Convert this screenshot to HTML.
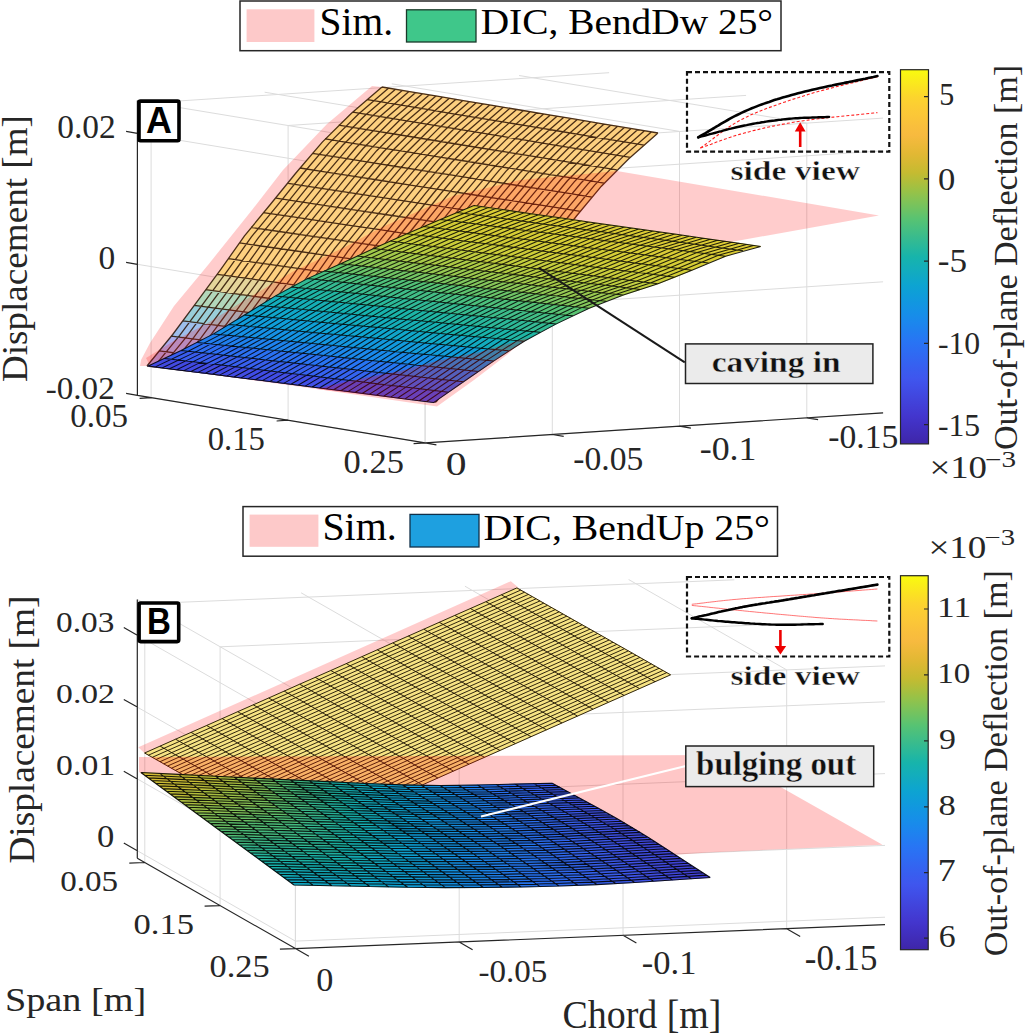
<!DOCTYPE html><html><head><meta charset="utf-8"><style>html,body{margin:0;padding:0;background:#fff;overflow:hidden}svg{display:block}</style></head><body><svg width="1025" height="1036" viewBox="0 0 1025 1036">
<rect width="1025" height="1036" fill="#ffffff"/>
<path d="M151.1 397.6 L151.1 102.8 M288.1 420.2 L288.1 125.5 M425.1 442.9 L425.1 148.2 M137.4 395.3 L425.1 442.9 M137.4 264.3 L425.1 311.9 M137.4 133.3 L425.1 180.9 M425.1 442.9 L425.1 148.2 M552.3 434.5 L552.3 139.8 M679.5 426.2 L679.5 131.4 M806.8 417.8 L806.8 123.1 M425.1 442.9 L883.1 412.8 M425.1 311.9 L883.1 281.8 M425.1 180.9 L883.1 150.8 M151.1 102.8 L609.1 72.7 M288.1 125.5 L746.1 95.4 M425.1 148.2 L883.1 118.1 M137.4 100.6 L425.1 148.2 M264.6 92.2 L552.3 139.8 M391.8 83.8 L679.5 131.4 M519.1 75.5 L806.8 123.1" stroke="#dcdcdc" stroke-width="1" fill="none"/>
<path d="M372.0 86.0 L327.0 124.0 L283.0 170.0 L252.0 210.0 L208.0 265.0 L174.0 306.0 L150.0 343.0 L141.0 360.0 L140.0 366.0 L147.0 366.0 L158.0 352.0 L170.0 338.0 L184.0 319.5 L204.0 292.0 L224.0 265.0 L252.0 226.0 L283.0 190.0 L300.0 168.0 L336.0 127.6 L382.0 87.0Z" fill="#ff0000" fill-opacity="0.2" />
<path d="M147.0 366.0 L169.2 368.8 L181.1 353.7 L158.9 350.9Z" fill="#aea0e1" stroke="#aea0e1" stroke-width="0.6"/>
<path d="M158.9 350.9 L181.1 353.7 L193.5 339.1 L171.4 336.2Z" fill="#aaadec" stroke="#aaadec" stroke-width="0.6"/>
<path d="M171.4 336.2 L193.5 339.1 L205.1 323.7 L183.0 320.8Z" fill="#9ebeeb" stroke="#9ebeeb" stroke-width="0.6"/>
<path d="M183.0 320.8 L205.1 323.7 L216.4 308.2 L194.3 305.3Z" fill="#99ced9" stroke="#99ced9" stroke-width="0.6"/>
<path d="M194.3 305.3 L216.4 308.2 L227.7 292.7 L205.7 289.7Z" fill="#b2d7bb" stroke="#b2d7bb" stroke-width="0.6"/>
<path d="M205.7 289.7 L227.7 292.7 L239.1 277.3 L217.2 274.3Z" fill="#e5d59a" stroke="#e5d59a" stroke-width="0.6"/>
<path d="M217.2 274.3 L239.1 277.3 L250.4 261.8 L228.5 258.7Z" fill="#fdd07f" stroke="#fdd07f" stroke-width="0.6"/>
<path d="M228.5 258.7 L250.4 261.8 L261.4 246.0 L239.5 242.9Z" fill="#fdd07f" stroke="#fdd07f" stroke-width="0.6"/>
<path d="M239.5 242.9 L261.4 246.0 L272.7 230.5 L250.9 227.4Z" fill="#fdd07f" stroke="#fdd07f" stroke-width="0.6"/>
<path d="M250.9 227.4 L272.7 230.5 L285.0 215.8 L263.2 212.6Z" fill="#fdd07f" stroke="#fdd07f" stroke-width="0.6"/>
<path d="M263.2 212.6 L285.0 215.8 L297.7 201.4 L276.0 198.1Z" fill="#fdd07f" stroke="#fdd07f" stroke-width="0.6"/>
<path d="M276.0 198.1 L297.7 201.4 L309.9 186.6 L288.3 183.3Z" fill="#fdd07f" stroke="#fdd07f" stroke-width="0.6"/>
<path d="M288.3 183.3 L309.9 186.6 L321.5 171.4 L300.0 168.0Z" fill="#fdd07f" stroke="#fdd07f" stroke-width="0.6"/>
<path d="M300.0 168.0 L321.5 171.4 L333.9 156.7 L312.4 153.3Z" fill="#fdd07f" stroke="#fdd07f" stroke-width="0.6"/>
<path d="M312.4 153.3 L333.9 156.7 L346.6 142.3 L325.2 138.9Z" fill="#fdd07f" stroke="#fdd07f" stroke-width="0.6"/>
<path d="M325.2 138.9 L346.6 142.3 L360.0 128.5 L338.6 125.1Z" fill="#fdd07f" stroke="#fdd07f" stroke-width="0.6"/>
<path d="M338.6 125.1 L360.0 128.5 L374.2 115.6 L352.8 112.1Z" fill="#fdd07f" stroke="#fdd07f" stroke-width="0.6"/>
<path d="M352.8 112.1 L374.2 115.6 L388.7 103.1 L367.4 99.6Z" fill="#fdd07f" stroke="#fdd07f" stroke-width="0.6"/>
<path d="M367.4 99.6 L388.7 103.1 L403.2 90.5 L382.0 87.0Z" fill="#fdd07f" stroke="#fdd07f" stroke-width="0.6"/>
<path d="M169.2 368.8 L191.5 371.5 L203.3 356.5 L181.1 353.7Z" fill="#aea0e1" stroke="#aea0e1" stroke-width="0.6"/>
<path d="M181.1 353.7 L203.3 356.5 L215.7 341.9 L193.5 339.1Z" fill="#aaadec" stroke="#aaadec" stroke-width="0.6"/>
<path d="M193.5 339.1 L215.7 341.9 L227.2 326.6 L205.1 323.7Z" fill="#9ebeeb" stroke="#9ebeeb" stroke-width="0.6"/>
<path d="M205.1 323.7 L227.2 326.6 L238.4 311.2 L216.4 308.2Z" fill="#99ced9" stroke="#99ced9" stroke-width="0.6"/>
<path d="M216.4 308.2 L238.4 311.2 L249.6 295.7 L227.7 292.7Z" fill="#b2d7bb" stroke="#b2d7bb" stroke-width="0.6"/>
<path d="M227.7 292.7 L249.6 295.7 L261.0 280.3 L239.1 277.3Z" fill="#e5d59a" stroke="#e5d59a" stroke-width="0.6"/>
<path d="M239.1 277.3 L261.0 280.3 L272.3 264.8 L250.4 261.8Z" fill="#fdd07f" stroke="#fdd07f" stroke-width="0.6"/>
<path d="M250.4 261.8 L272.3 264.8 L283.2 249.1 L261.4 246.0Z" fill="#fdd07f" stroke="#fdd07f" stroke-width="0.6"/>
<path d="M261.4 246.0 L283.2 249.1 L294.5 233.7 L272.7 230.5Z" fill="#fdd07f" stroke="#fdd07f" stroke-width="0.6"/>
<path d="M272.7 230.5 L294.5 233.7 L306.7 219.0 L285.0 215.8Z" fill="#fdd07f" stroke="#fdd07f" stroke-width="0.6"/>
<path d="M285.0 215.8 L306.7 219.0 L319.3 204.6 L297.7 201.4Z" fill="#fdd07f" stroke="#fdd07f" stroke-width="0.6"/>
<path d="M297.7 201.4 L319.3 204.6 L331.5 189.9 L309.9 186.6Z" fill="#fdd07f" stroke="#fdd07f" stroke-width="0.6"/>
<path d="M309.9 186.6 L331.5 189.9 L343.1 174.7 L321.5 171.4Z" fill="#fdd07f" stroke="#fdd07f" stroke-width="0.6"/>
<path d="M321.5 171.4 L343.1 174.7 L355.4 160.1 L333.9 156.7Z" fill="#fdd07f" stroke="#fdd07f" stroke-width="0.6"/>
<path d="M333.9 156.7 L355.4 160.1 L368.1 145.7 L346.6 142.3Z" fill="#fdd07f" stroke="#fdd07f" stroke-width="0.6"/>
<path d="M346.6 142.3 L368.1 145.7 L381.4 132.0 L360.0 128.5Z" fill="#fdd07f" stroke="#fdd07f" stroke-width="0.6"/>
<path d="M360.0 128.5 L381.4 132.0 L395.5 119.1 L374.2 115.6Z" fill="#fdd07f" stroke="#fdd07f" stroke-width="0.6"/>
<path d="M374.2 115.6 L395.5 119.1 L410.0 106.6 L388.7 103.1Z" fill="#fdd07f" stroke="#fdd07f" stroke-width="0.6"/>
<path d="M388.7 103.1 L410.0 106.6 L424.5 94.1 L403.2 90.5Z" fill="#fdd07f" stroke="#fdd07f" stroke-width="0.6"/>
<path d="M191.5 371.5 L213.7 374.3 L225.5 359.3 L203.3 356.5Z" fill="#aea0e1" stroke="#aea0e1" stroke-width="0.6"/>
<path d="M203.3 356.5 L225.5 359.3 L237.8 344.8 L215.7 341.9Z" fill="#aaadec" stroke="#aaadec" stroke-width="0.6"/>
<path d="M215.7 341.9 L237.8 344.8 L249.2 329.5 L227.2 326.6Z" fill="#9ebeeb" stroke="#9ebeeb" stroke-width="0.6"/>
<path d="M227.2 326.6 L249.2 329.5 L260.4 314.1 L238.4 311.2Z" fill="#99ced9" stroke="#99ced9" stroke-width="0.6"/>
<path d="M238.4 311.2 L260.4 314.1 L271.6 298.7 L249.6 295.7Z" fill="#b2d7bb" stroke="#b2d7bb" stroke-width="0.6"/>
<path d="M249.6 295.7 L271.6 298.7 L283.0 283.4 L261.0 280.3Z" fill="#e5d59a" stroke="#e5d59a" stroke-width="0.6"/>
<path d="M261.0 280.3 L283.0 283.4 L294.1 267.9 L272.3 264.8Z" fill="#fdd07f" stroke="#fdd07f" stroke-width="0.6"/>
<path d="M272.3 264.8 L294.1 267.9 L305.0 252.3 L283.2 249.1Z" fill="#fdd07f" stroke="#fdd07f" stroke-width="0.6"/>
<path d="M283.2 249.1 L305.0 252.3 L316.3 236.9 L294.5 233.7Z" fill="#fdd07f" stroke="#fdd07f" stroke-width="0.6"/>
<path d="M294.5 233.7 L316.3 236.9 L328.4 222.2 L306.7 219.0Z" fill="#fdd07f" stroke="#fdd07f" stroke-width="0.6"/>
<path d="M306.7 219.0 L328.4 222.2 L341.0 207.9 L319.3 204.6Z" fill="#fdd07f" stroke="#fdd07f" stroke-width="0.6"/>
<path d="M319.3 204.6 L341.0 207.9 L353.1 193.2 L331.5 189.9Z" fill="#fdd07f" stroke="#fdd07f" stroke-width="0.6"/>
<path d="M331.5 189.9 L353.1 193.2 L364.7 178.0 L343.1 174.7Z" fill="#fdd07f" stroke="#fdd07f" stroke-width="0.6"/>
<path d="M343.1 174.7 L364.7 178.0 L377.0 163.4 L355.4 160.1Z" fill="#fdd07f" stroke="#fdd07f" stroke-width="0.6"/>
<path d="M355.4 160.1 L377.0 163.4 L389.5 149.1 L368.1 145.7Z" fill="#fdd07f" stroke="#fdd07f" stroke-width="0.6"/>
<path d="M368.1 145.7 L389.5 149.1 L402.8 135.4 L381.4 132.0Z" fill="#fdd07f" stroke="#fdd07f" stroke-width="0.6"/>
<path d="M381.4 132.0 L402.8 135.4 L416.9 122.6 L395.5 119.1Z" fill="#fdd07f" stroke="#fdd07f" stroke-width="0.6"/>
<path d="M395.5 119.1 L416.9 122.6 L431.3 110.1 L410.0 106.6Z" fill="#fdd07f" stroke="#fdd07f" stroke-width="0.6"/>
<path d="M410.0 106.6 L431.3 110.1 L445.7 97.6 L424.5 94.1Z" fill="#fdd07f" stroke="#fdd07f" stroke-width="0.6"/>
<path d="M213.7 374.3 L235.9 377.1 L247.6 362.1 L225.5 359.3Z" fill="#aea0e1" stroke="#aea0e1" stroke-width="0.6"/>
<path d="M225.5 359.3 L247.6 362.1 L259.9 347.6 L237.8 344.8Z" fill="#aaadec" stroke="#aaadec" stroke-width="0.6"/>
<path d="M237.8 344.8 L259.9 347.6 L271.3 332.4 L249.2 329.5Z" fill="#9ebeeb" stroke="#9ebeeb" stroke-width="0.6"/>
<path d="M249.2 329.5 L271.3 332.4 L282.5 317.0 L260.4 314.1Z" fill="#99ced9" stroke="#99ced9" stroke-width="0.6"/>
<path d="M260.4 314.1 L282.5 317.0 L293.6 301.7 L271.6 298.7Z" fill="#b2d7bb" stroke="#b2d7bb" stroke-width="0.6"/>
<path d="M271.6 298.7 L293.6 301.7 L304.9 286.4 L283.0 283.4Z" fill="#e5d59a" stroke="#e5d59a" stroke-width="0.6"/>
<path d="M283.0 283.4 L304.9 286.4 L316.0 271.0 L294.1 267.9Z" fill="#fdd07f" stroke="#fdd07f" stroke-width="0.6"/>
<path d="M294.1 267.9 L316.0 271.0 L326.8 255.4 L305.0 252.3Z" fill="#fdd07f" stroke="#fdd07f" stroke-width="0.6"/>
<path d="M305.0 252.3 L326.8 255.4 L338.0 240.0 L316.3 236.9Z" fill="#fdd07f" stroke="#fdd07f" stroke-width="0.6"/>
<path d="M316.3 236.9 L338.0 240.0 L350.1 225.4 L328.4 222.2Z" fill="#fdd07f" stroke="#fdd07f" stroke-width="0.6"/>
<path d="M328.4 222.2 L350.1 225.4 L362.7 211.1 L341.0 207.9Z" fill="#fdd07f" stroke="#fdd07f" stroke-width="0.6"/>
<path d="M341.0 207.9 L362.7 211.1 L374.7 196.4 L353.1 193.2Z" fill="#fdd07f" stroke="#fdd07f" stroke-width="0.6"/>
<path d="M353.1 193.2 L374.7 196.4 L386.2 181.3 L364.7 178.0Z" fill="#fdd07f" stroke="#fdd07f" stroke-width="0.6"/>
<path d="M364.7 178.0 L386.2 181.3 L398.5 166.8 L377.0 163.4Z" fill="#fdd07f" stroke="#fdd07f" stroke-width="0.6"/>
<path d="M377.0 163.4 L398.5 166.8 L411.0 152.5 L389.5 149.1Z" fill="#fdd07f" stroke="#fdd07f" stroke-width="0.6"/>
<path d="M389.5 149.1 L411.0 152.5 L424.2 138.9 L402.8 135.4Z" fill="#fdd07f" stroke="#fdd07f" stroke-width="0.6"/>
<path d="M402.8 135.4 L424.2 138.9 L438.2 126.0 L416.9 122.6Z" fill="#fdd07f" stroke="#fdd07f" stroke-width="0.6"/>
<path d="M416.9 122.6 L438.2 126.0 L452.6 113.6 L431.3 110.1Z" fill="#fdd07f" stroke="#fdd07f" stroke-width="0.6"/>
<path d="M431.3 110.1 L452.6 113.6 L466.9 101.2 L445.7 97.6Z" fill="#fdd07f" stroke="#fdd07f" stroke-width="0.6"/>
<path d="M235.9 377.1 L258.2 379.8 L269.8 364.9 L247.6 362.1Z" fill="#aea0e1" stroke="#aea0e1" stroke-width="0.6"/>
<path d="M247.6 362.1 L269.8 364.9 L282.0 350.5 L259.9 347.6Z" fill="#aaadec" stroke="#aaadec" stroke-width="0.6"/>
<path d="M259.9 347.6 L282.0 350.5 L293.4 335.3 L271.3 332.4Z" fill="#9ebeeb" stroke="#9ebeeb" stroke-width="0.6"/>
<path d="M271.3 332.4 L293.4 335.3 L304.5 320.0 L282.5 317.0Z" fill="#99ced9" stroke="#99ced9" stroke-width="0.6"/>
<path d="M282.5 317.0 L304.5 320.0 L315.6 304.6 L293.6 301.7Z" fill="#b2d7bb" stroke="#b2d7bb" stroke-width="0.6"/>
<path d="M293.6 301.7 L315.6 304.6 L326.8 289.4 L304.9 286.4Z" fill="#e5d59a" stroke="#e5d59a" stroke-width="0.6"/>
<path d="M304.9 286.4 L326.8 289.4 L337.9 274.0 L316.0 271.0Z" fill="#fdd07f" stroke="#fdd07f" stroke-width="0.6"/>
<path d="M316.0 271.0 L337.9 274.0 L348.7 258.5 L326.8 255.4Z" fill="#fdd07f" stroke="#fdd07f" stroke-width="0.6"/>
<path d="M326.8 255.4 L348.7 258.5 L359.8 243.2 L338.0 240.0Z" fill="#fdd07f" stroke="#fdd07f" stroke-width="0.6"/>
<path d="M338.0 240.0 L359.8 243.2 L371.9 228.6 L350.1 225.4Z" fill="#fdd07f" stroke="#fdd07f" stroke-width="0.6"/>
<path d="M350.1 225.4 L371.9 228.6 L384.3 214.4 L362.7 211.1Z" fill="#fdd07f" stroke="#fdd07f" stroke-width="0.6"/>
<path d="M362.7 211.1 L384.3 214.4 L396.4 199.7 L374.7 196.4Z" fill="#fdd07f" stroke="#fdd07f" stroke-width="0.6"/>
<path d="M374.7 196.4 L396.4 199.7 L407.8 184.7 L386.2 181.3Z" fill="#fdd07f" stroke="#fdd07f" stroke-width="0.6"/>
<path d="M386.2 181.3 L407.8 184.7 L420.0 170.2 L398.5 166.8Z" fill="#fdd07f" stroke="#fdd07f" stroke-width="0.6"/>
<path d="M398.5 166.8 L420.0 170.2 L432.5 155.9 L411.0 152.5Z" fill="#fdd07f" stroke="#fdd07f" stroke-width="0.6"/>
<path d="M411.0 152.5 L432.5 155.9 L445.6 142.3 L424.2 138.9Z" fill="#fdd07f" stroke="#fdd07f" stroke-width="0.6"/>
<path d="M424.2 138.9 L445.6 142.3 L459.6 129.5 L438.2 126.0Z" fill="#fdd07f" stroke="#fdd07f" stroke-width="0.6"/>
<path d="M438.2 126.0 L459.6 129.5 L473.9 117.1 L452.6 113.6Z" fill="#fdd07f" stroke="#fdd07f" stroke-width="0.6"/>
<path d="M452.6 113.6 L473.9 117.1 L488.2 104.7 L466.9 101.2Z" fill="#fdd07f" stroke="#fdd07f" stroke-width="0.6"/>
<path d="M258.2 379.8 L280.4 382.6 L292.0 367.8 L269.8 364.9Z" fill="#aea0e1" stroke="#aea0e1" stroke-width="0.6"/>
<path d="M269.8 364.9 L292.0 367.8 L304.2 353.3 L282.0 350.5Z" fill="#aaadec" stroke="#aaadec" stroke-width="0.6"/>
<path d="M282.0 350.5 L304.2 353.3 L315.5 338.2 L293.4 335.3Z" fill="#9ebeeb" stroke="#9ebeeb" stroke-width="0.6"/>
<path d="M293.4 335.3 L315.5 338.2 L326.5 322.9 L304.5 320.0Z" fill="#99ced9" stroke="#99ced9" stroke-width="0.6"/>
<path d="M304.5 320.0 L326.5 322.9 L337.5 307.6 L315.6 304.6Z" fill="#b2d7bb" stroke="#b2d7bb" stroke-width="0.6"/>
<path d="M315.6 304.6 L337.5 307.6 L348.7 292.4 L326.8 289.4Z" fill="#e5d59a" stroke="#e5d59a" stroke-width="0.6"/>
<path d="M326.8 289.4 L348.7 292.4 L359.8 277.1 L337.9 274.0Z" fill="#fdd07f" stroke="#fdd07f" stroke-width="0.6"/>
<path d="M337.9 274.0 L359.8 277.1 L370.5 261.6 L348.7 258.5Z" fill="#fdd07f" stroke="#fdd07f" stroke-width="0.6"/>
<path d="M348.7 258.5 L370.5 261.6 L381.6 246.3 L359.8 243.2Z" fill="#fdd07f" stroke="#fdd07f" stroke-width="0.6"/>
<path d="M359.8 243.2 L381.6 246.3 L393.6 231.8 L371.9 228.6Z" fill="#fdd07f" stroke="#fdd07f" stroke-width="0.6"/>
<path d="M371.9 228.6 L393.6 231.8 L406.0 217.6 L384.3 214.4Z" fill="#fdd07f" stroke="#fdd07f" stroke-width="0.6"/>
<path d="M384.3 214.4 L406.0 217.6 L418.0 203.0 L396.4 199.7Z" fill="#fdd07f" stroke="#fdd07f" stroke-width="0.6"/>
<path d="M396.4 199.7 L418.0 203.0 L429.4 188.0 L407.8 184.7Z" fill="#fdd07f" stroke="#fdd07f" stroke-width="0.6"/>
<path d="M407.8 184.7 L429.4 188.0 L441.5 173.5 L420.0 170.2Z" fill="#fdd07f" stroke="#fdd07f" stroke-width="0.6"/>
<path d="M420.0 170.2 L441.5 173.5 L453.9 159.3 L432.5 155.9Z" fill="#fdd07f" stroke="#fdd07f" stroke-width="0.6"/>
<path d="M432.5 155.9 L453.9 159.3 L467.0 145.7 L445.6 142.3Z" fill="#fdd07f" stroke="#fdd07f" stroke-width="0.6"/>
<path d="M445.6 142.3 L467.0 145.7 L480.9 133.0 L459.6 129.5Z" fill="#fdd07f" stroke="#fdd07f" stroke-width="0.6"/>
<path d="M459.6 129.5 L480.9 133.0 L495.2 120.6 L473.9 117.1Z" fill="#fdd07f" stroke="#fdd07f" stroke-width="0.6"/>
<path d="M473.9 117.1 L495.2 120.6 L509.4 108.2 L488.2 104.7Z" fill="#fdd07f" stroke="#fdd07f" stroke-width="0.6"/>
<path d="M280.4 382.6 L302.6 385.4 L314.2 370.6 L292.0 367.8Z" fill="#aea0e1" stroke="#aea0e1" stroke-width="0.6"/>
<path d="M292.0 367.8 L314.2 370.6 L326.3 356.2 L304.2 353.3Z" fill="#aaadec" stroke="#aaadec" stroke-width="0.6"/>
<path d="M304.2 353.3 L326.3 356.2 L337.5 341.1 L315.5 338.2Z" fill="#9ebeeb" stroke="#9ebeeb" stroke-width="0.6"/>
<path d="M315.5 338.2 L337.5 341.1 L348.5 325.9 L326.5 322.9Z" fill="#99ced9" stroke="#99ced9" stroke-width="0.6"/>
<path d="M326.5 322.9 L348.5 325.9 L359.5 310.6 L337.5 307.6Z" fill="#b2d7bb" stroke="#b2d7bb" stroke-width="0.6"/>
<path d="M337.5 307.6 L359.5 310.6 L370.7 295.5 L348.7 292.4Z" fill="#e5d59a" stroke="#e5d59a" stroke-width="0.6"/>
<path d="M348.7 292.4 L370.7 295.5 L381.6 280.2 L359.8 277.1Z" fill="#fdd07f" stroke="#fdd07f" stroke-width="0.6"/>
<path d="M359.8 277.1 L381.6 280.2 L392.3 264.7 L370.5 261.6Z" fill="#fdd07f" stroke="#fdd07f" stroke-width="0.6"/>
<path d="M370.5 261.6 L392.3 264.7 L403.4 249.5 L381.6 246.3Z" fill="#fdd07f" stroke="#fdd07f" stroke-width="0.6"/>
<path d="M381.6 246.3 L403.4 249.5 L415.3 235.0 L393.6 231.8Z" fill="#fdd07f" stroke="#fdd07f" stroke-width="0.6"/>
<path d="M393.6 231.8 L415.3 235.0 L427.7 220.8 L406.0 217.6Z" fill="#fdd07f" stroke="#fdd07f" stroke-width="0.6"/>
<path d="M406.0 217.6 L427.7 220.8 L439.6 206.3 L418.0 203.0Z" fill="#fdd07f" stroke="#fdd07f" stroke-width="0.6"/>
<path d="M418.0 203.0 L439.6 206.3 L450.9 191.3 L429.4 188.0Z" fill="#fdd07f" stroke="#fdd07f" stroke-width="0.6"/>
<path d="M429.4 188.0 L450.9 191.3 L463.0 176.9 L441.5 173.5Z" fill="#fdd07f" stroke="#fdd07f" stroke-width="0.6"/>
<path d="M441.5 173.5 L463.0 176.9 L475.4 162.7 L453.9 159.3Z" fill="#fdd07f" stroke="#fdd07f" stroke-width="0.6"/>
<path d="M453.9 159.3 L475.4 162.7 L488.4 149.2 L467.0 145.7Z" fill="#fdd07f" stroke="#fdd07f" stroke-width="0.6"/>
<path d="M467.0 145.7 L488.4 149.2 L502.3 136.5 L480.9 133.0Z" fill="#fdd07f" stroke="#fdd07f" stroke-width="0.6"/>
<path d="M480.9 133.0 L502.3 136.5 L516.4 124.1 L495.2 120.6Z" fill="#fdd07f" stroke="#fdd07f" stroke-width="0.6"/>
<path d="M495.2 120.6 L516.4 124.1 L530.6 111.8 L509.4 108.2Z" fill="#fdd07f" stroke="#fdd07f" stroke-width="0.6"/>
<path d="M302.6 385.4 L324.8 388.2 L336.4 373.4 L314.2 370.6Z" fill="#aea0e1" stroke="#aea0e1" stroke-width="0.6"/>
<path d="M314.2 370.6 L336.4 373.4 L348.4 359.0 L326.3 356.2Z" fill="#aaadec" stroke="#aaadec" stroke-width="0.6"/>
<path d="M326.3 356.2 L348.4 359.0 L359.6 344.0 L337.5 341.1Z" fill="#9ebeeb" stroke="#9ebeeb" stroke-width="0.6"/>
<path d="M337.5 341.1 L359.6 344.0 L370.6 328.8 L348.5 325.9Z" fill="#99ced9" stroke="#99ced9" stroke-width="0.6"/>
<path d="M348.5 325.9 L370.6 328.8 L381.5 313.6 L359.5 310.6Z" fill="#b2d7bb" stroke="#b2d7bb" stroke-width="0.6"/>
<path d="M359.5 310.6 L381.5 313.6 L392.6 298.5 L370.7 295.5Z" fill="#e5d59a" stroke="#e5d59a" stroke-width="0.6"/>
<path d="M370.7 295.5 L392.6 298.5 L403.5 283.3 L381.6 280.2Z" fill="#fdd07f" stroke="#fdd07f" stroke-width="0.6"/>
<path d="M381.6 280.2 L403.5 283.3 L414.2 267.8 L392.3 264.7Z" fill="#fdd07f" stroke="#fdd07f" stroke-width="0.6"/>
<path d="M392.3 264.7 L414.2 267.8 L425.1 252.7 L403.4 249.5Z" fill="#fdd07f" stroke="#fdd07f" stroke-width="0.6"/>
<path d="M403.4 249.5 L425.1 252.7 L437.0 238.2 L415.3 235.0Z" fill="#fdd07f" stroke="#fdd07f" stroke-width="0.6"/>
<path d="M415.3 235.0 L437.0 238.2 L449.4 224.1 L427.7 220.8Z" fill="#fdd07f" stroke="#fdd07f" stroke-width="0.6"/>
<path d="M427.7 220.8 L449.4 224.1 L461.2 209.6 L439.6 206.3Z" fill="#fdd07f" stroke="#fdd07f" stroke-width="0.6"/>
<path d="M439.6 206.3 L461.2 209.6 L472.5 194.6 L450.9 191.3Z" fill="#fdd07f" stroke="#fdd07f" stroke-width="0.6"/>
<path d="M450.9 191.3 L472.5 194.6 L484.5 180.3 L463.0 176.9Z" fill="#fdd07f" stroke="#fdd07f" stroke-width="0.6"/>
<path d="M463.0 176.9 L484.5 180.3 L496.8 166.1 L475.4 162.7Z" fill="#fdd07f" stroke="#fdd07f" stroke-width="0.6"/>
<path d="M475.4 162.7 L496.8 166.1 L509.8 152.6 L488.4 149.2Z" fill="#fdd07f" stroke="#fdd07f" stroke-width="0.6"/>
<path d="M488.4 149.2 L509.8 152.6 L523.6 139.9 L502.3 136.5Z" fill="#fdd07f" stroke="#fdd07f" stroke-width="0.6"/>
<path d="M502.3 136.5 L523.6 139.9 L537.7 127.6 L516.4 124.1Z" fill="#fdd07f" stroke="#fdd07f" stroke-width="0.6"/>
<path d="M516.4 124.1 L537.7 127.6 L551.8 115.3 L530.6 111.8Z" fill="#fdd07f" stroke="#fdd07f" stroke-width="0.6"/>
<path d="M324.8 388.2 L347.1 390.9 L358.5 376.2 L336.4 373.4Z" fill="#aea0e1" stroke="#aea0e1" stroke-width="0.6"/>
<path d="M336.4 373.4 L358.5 376.2 L370.5 361.9 L348.4 359.0Z" fill="#aaadec" stroke="#aaadec" stroke-width="0.6"/>
<path d="M348.4 359.0 L370.5 361.9 L381.7 346.9 L359.6 344.0Z" fill="#9ebeeb" stroke="#9ebeeb" stroke-width="0.6"/>
<path d="M359.6 344.0 L381.7 346.9 L392.6 331.7 L370.6 328.8Z" fill="#99ced9" stroke="#99ced9" stroke-width="0.6"/>
<path d="M370.6 328.8 L392.6 331.7 L403.5 316.6 L381.5 313.6Z" fill="#b2d7bb" stroke="#b2d7bb" stroke-width="0.6"/>
<path d="M381.5 313.6 L403.5 316.6 L414.5 301.5 L392.6 298.5Z" fill="#e5d59a" stroke="#e5d59a" stroke-width="0.6"/>
<path d="M392.6 298.5 L414.5 301.5 L425.4 286.3 L403.5 283.3Z" fill="#fdd07f" stroke="#fdd07f" stroke-width="0.6"/>
<path d="M403.5 283.3 L425.4 286.3 L436.0 271.0 L414.2 267.8Z" fill="#fdd07f" stroke="#fdd07f" stroke-width="0.6"/>
<path d="M414.2 267.8 L436.0 271.0 L446.9 255.8 L425.1 252.7Z" fill="#fdd07f" stroke="#fdd07f" stroke-width="0.6"/>
<path d="M425.1 252.7 L446.9 255.8 L458.8 241.4 L437.0 238.2Z" fill="#fdd07f" stroke="#fdd07f" stroke-width="0.6"/>
<path d="M437.0 238.2 L458.8 241.4 L471.0 227.3 L449.4 224.1Z" fill="#fdd07f" stroke="#fdd07f" stroke-width="0.6"/>
<path d="M449.4 224.1 L471.0 227.3 L482.8 212.9 L461.2 209.6Z" fill="#fdd07f" stroke="#fdd07f" stroke-width="0.6"/>
<path d="M461.2 209.6 L482.8 212.9 L494.1 198.0 L472.5 194.6Z" fill="#fdd07f" stroke="#fdd07f" stroke-width="0.6"/>
<path d="M472.5 194.6 L494.1 198.0 L506.0 183.6 L484.5 180.3Z" fill="#fdd07f" stroke="#fdd07f" stroke-width="0.6"/>
<path d="M484.5 180.3 L506.0 183.6 L518.3 169.5 L496.8 166.1Z" fill="#fdd07f" stroke="#fdd07f" stroke-width="0.6"/>
<path d="M496.8 166.1 L518.3 169.5 L531.2 156.1 L509.8 152.6Z" fill="#fdd07f" stroke="#fdd07f" stroke-width="0.6"/>
<path d="M509.8 152.6 L531.2 156.1 L544.9 143.4 L523.6 139.9Z" fill="#fdd07f" stroke="#fdd07f" stroke-width="0.6"/>
<path d="M523.6 139.9 L544.9 143.4 L559.0 131.1 L537.7 127.6Z" fill="#fdd07f" stroke="#fdd07f" stroke-width="0.6"/>
<path d="M537.7 127.6 L559.0 131.1 L573.1 118.8 L551.8 115.3Z" fill="#fdd07f" stroke="#fdd07f" stroke-width="0.6"/>
<path d="M347.1 390.9 L369.3 393.7 L380.7 379.0 L358.5 376.2Z" fill="#aea0e1" stroke="#aea0e1" stroke-width="0.6"/>
<path d="M358.5 376.2 L380.7 379.0 L392.7 364.7 L370.5 361.9Z" fill="#aaadec" stroke="#aaadec" stroke-width="0.6"/>
<path d="M370.5 361.9 L392.7 364.7 L403.8 349.8 L381.7 346.9Z" fill="#9ebeeb" stroke="#9ebeeb" stroke-width="0.6"/>
<path d="M381.7 346.9 L403.8 349.8 L414.6 334.7 L392.6 331.7Z" fill="#99ced9" stroke="#99ced9" stroke-width="0.6"/>
<path d="M392.6 331.7 L414.6 334.7 L425.4 319.6 L403.5 316.6Z" fill="#b2d7bb" stroke="#b2d7bb" stroke-width="0.6"/>
<path d="M403.5 316.6 L425.4 319.6 L436.4 304.5 L414.5 301.5Z" fill="#e5d59a" stroke="#e5d59a" stroke-width="0.6"/>
<path d="M414.5 301.5 L436.4 304.5 L447.3 289.4 L425.4 286.3Z" fill="#fdd07f" stroke="#fdd07f" stroke-width="0.6"/>
<path d="M425.4 286.3 L447.3 289.4 L457.8 274.1 L436.0 271.0Z" fill="#fdd07f" stroke="#fdd07f" stroke-width="0.6"/>
<path d="M436.0 271.0 L457.8 274.1 L468.7 259.0 L446.9 255.8Z" fill="#fdd07f" stroke="#fdd07f" stroke-width="0.6"/>
<path d="M446.9 255.8 L468.7 259.0 L480.5 244.6 L458.8 241.4Z" fill="#fdd07f" stroke="#fdd07f" stroke-width="0.6"/>
<path d="M458.8 241.4 L480.5 244.6 L492.7 230.6 L471.0 227.3Z" fill="#fdd07f" stroke="#fdd07f" stroke-width="0.6"/>
<path d="M471.0 227.3 L492.7 230.6 L504.4 216.1 L482.8 212.9Z" fill="#fdd07f" stroke="#fdd07f" stroke-width="0.6"/>
<path d="M482.8 212.9 L504.4 216.1 L515.6 201.3 L494.1 198.0Z" fill="#fdd07f" stroke="#fdd07f" stroke-width="0.6"/>
<path d="M494.1 198.0 L515.6 201.3 L527.6 187.0 L506.0 183.6Z" fill="#fdd07f" stroke="#fdd07f" stroke-width="0.6"/>
<path d="M506.0 183.6 L527.6 187.0 L539.8 173.0 L518.3 169.5Z" fill="#fdd07f" stroke="#fdd07f" stroke-width="0.6"/>
<path d="M518.3 169.5 L539.8 173.0 L552.6 159.5 L531.2 156.1Z" fill="#fdd07f" stroke="#fdd07f" stroke-width="0.6"/>
<path d="M531.2 156.1 L552.6 159.5 L566.3 146.9 L544.9 143.4Z" fill="#fdd07f" stroke="#fdd07f" stroke-width="0.6"/>
<path d="M544.9 143.4 L566.3 146.9 L580.3 134.6 L559.0 131.1Z" fill="#fdd07f" stroke="#fdd07f" stroke-width="0.6"/>
<path d="M559.0 131.1 L580.3 134.6 L594.3 122.4 L573.1 118.8Z" fill="#fdd07f" stroke="#fdd07f" stroke-width="0.6"/>
<path d="M369.3 393.7 L391.5 396.5 L402.9 381.8 L380.7 379.0Z" fill="#aea0e1" stroke="#aea0e1" stroke-width="0.6"/>
<path d="M380.7 379.0 L402.9 381.8 L414.8 367.6 L392.7 364.7Z" fill="#aaadec" stroke="#aaadec" stroke-width="0.6"/>
<path d="M392.7 364.7 L414.8 367.6 L425.8 352.7 L403.8 349.8Z" fill="#9ebeeb" stroke="#9ebeeb" stroke-width="0.6"/>
<path d="M403.8 349.8 L425.8 352.7 L436.6 337.6 L414.6 334.7Z" fill="#99ced9" stroke="#99ced9" stroke-width="0.6"/>
<path d="M414.6 334.7 L436.6 337.6 L447.4 322.5 L425.4 319.6Z" fill="#b2d7bb" stroke="#b2d7bb" stroke-width="0.6"/>
<path d="M425.4 319.6 L447.4 322.5 L458.4 307.6 L436.4 304.5Z" fill="#e5d59a" stroke="#e5d59a" stroke-width="0.6"/>
<path d="M436.4 304.5 L458.4 307.6 L469.1 292.5 L447.3 289.4Z" fill="#fdd07f" stroke="#fdd07f" stroke-width="0.6"/>
<path d="M447.3 289.4 L469.1 292.5 L479.6 277.2 L457.8 274.1Z" fill="#fdd07f" stroke="#fdd07f" stroke-width="0.6"/>
<path d="M457.8 274.1 L479.6 277.2 L490.5 262.2 L468.7 259.0Z" fill="#fdd07f" stroke="#fdd07f" stroke-width="0.6"/>
<path d="M468.7 259.0 L490.5 262.2 L502.2 247.8 L480.5 244.6Z" fill="#fdd07f" stroke="#fdd07f" stroke-width="0.6"/>
<path d="M480.5 244.6 L502.2 247.8 L514.4 233.8 L492.7 230.6Z" fill="#fdd07f" stroke="#fdd07f" stroke-width="0.6"/>
<path d="M492.7 230.6 L514.4 233.8 L526.1 219.4 L504.4 216.1Z" fill="#fdd07f" stroke="#fdd07f" stroke-width="0.6"/>
<path d="M504.4 216.1 L526.1 219.4 L537.2 204.6 L515.6 201.3Z" fill="#fdd07f" stroke="#fdd07f" stroke-width="0.6"/>
<path d="M515.6 201.3 L537.2 204.6 L549.1 190.4 L527.6 187.0Z" fill="#fdd07f" stroke="#fdd07f" stroke-width="0.6"/>
<path d="M527.6 187.0 L549.1 190.4 L561.2 176.4 L539.8 173.0Z" fill="#fdd07f" stroke="#fdd07f" stroke-width="0.6"/>
<path d="M539.8 173.0 L561.2 176.4 L574.0 163.0 L552.6 159.5Z" fill="#fdd07f" stroke="#fdd07f" stroke-width="0.6"/>
<path d="M552.6 159.5 L574.0 163.0 L587.6 150.4 L566.3 146.9Z" fill="#fdd07f" stroke="#fdd07f" stroke-width="0.6"/>
<path d="M566.3 146.9 L587.6 150.4 L601.6 138.2 L580.3 134.6Z" fill="#fdd07f" stroke="#fdd07f" stroke-width="0.6"/>
<path d="M580.3 134.6 L601.6 138.2 L615.5 125.9 L594.3 122.4Z" fill="#fdd07f" stroke="#fdd07f" stroke-width="0.6"/>
<path d="M391.5 396.5 L413.8 399.2 L425.1 384.6 L402.9 381.8Z" fill="#aea0e1" stroke="#aea0e1" stroke-width="0.6"/>
<path d="M402.9 381.8 L425.1 384.6 L436.9 370.4 L414.8 367.6Z" fill="#aaadec" stroke="#aaadec" stroke-width="0.6"/>
<path d="M414.8 367.6 L436.9 370.4 L447.9 355.6 L425.8 352.7Z" fill="#9ebeeb" stroke="#9ebeeb" stroke-width="0.6"/>
<path d="M425.8 352.7 L447.9 355.6 L458.7 340.6 L436.6 337.6Z" fill="#99ced9" stroke="#99ced9" stroke-width="0.6"/>
<path d="M436.6 337.6 L458.7 340.6 L469.4 325.5 L447.4 322.5Z" fill="#b2d7bb" stroke="#b2d7bb" stroke-width="0.6"/>
<path d="M447.4 322.5 L469.4 325.5 L480.3 310.6 L458.4 307.6Z" fill="#e5d59a" stroke="#e5d59a" stroke-width="0.6"/>
<path d="M458.4 307.6 L480.3 310.6 L491.0 295.5 L469.1 292.5Z" fill="#fdd07f" stroke="#fdd07f" stroke-width="0.6"/>
<path d="M469.1 292.5 L491.0 295.5 L501.5 280.3 L479.6 277.2Z" fill="#fdd07f" stroke="#fdd07f" stroke-width="0.6"/>
<path d="M479.6 277.2 L501.5 280.3 L512.3 265.3 L490.5 262.2Z" fill="#fdd07f" stroke="#fdd07f" stroke-width="0.6"/>
<path d="M490.5 262.2 L512.3 265.3 L523.9 251.0 L502.2 247.8Z" fill="#fdd07f" stroke="#fdd07f" stroke-width="0.6"/>
<path d="M502.2 247.8 L523.9 251.0 L536.0 237.0 L514.4 233.8Z" fill="#fdd07f" stroke="#fdd07f" stroke-width="0.6"/>
<path d="M514.4 233.8 L536.0 237.0 L547.7 222.7 L526.1 219.4Z" fill="#fdd07f" stroke="#fdd07f" stroke-width="0.6"/>
<path d="M526.1 219.4 L547.7 222.7 L558.8 207.9 L537.2 204.6Z" fill="#fdd07f" stroke="#fdd07f" stroke-width="0.6"/>
<path d="M537.2 204.6 L558.8 207.9 L570.6 193.7 L549.1 190.4Z" fill="#fdd07f" stroke="#fdd07f" stroke-width="0.6"/>
<path d="M549.1 190.4 L570.6 193.7 L582.7 179.8 L561.2 176.4Z" fill="#fdd07f" stroke="#fdd07f" stroke-width="0.6"/>
<path d="M561.2 176.4 L582.7 179.8 L595.4 166.4 L574.0 163.0Z" fill="#fdd07f" stroke="#fdd07f" stroke-width="0.6"/>
<path d="M574.0 163.0 L595.4 166.4 L609.0 153.8 L587.6 150.4Z" fill="#fdd07f" stroke="#fdd07f" stroke-width="0.6"/>
<path d="M587.6 150.4 L609.0 153.8 L622.9 141.7 L601.6 138.2Z" fill="#fdd07f" stroke="#fdd07f" stroke-width="0.6"/>
<path d="M601.6 138.2 L622.9 141.7 L636.8 129.5 L615.5 125.9Z" fill="#fdd07f" stroke="#fdd07f" stroke-width="0.6"/>
<path d="M413.8 399.2 L436.0 402.0 L447.3 387.4 L425.1 384.6Z" fill="#aea0e1" stroke="#aea0e1" stroke-width="0.6"/>
<path d="M425.1 384.6 L447.3 387.4 L459.1 373.3 L436.9 370.4Z" fill="#aaadec" stroke="#aaadec" stroke-width="0.6"/>
<path d="M436.9 370.4 L459.1 373.3 L470.0 358.5 L447.9 355.6Z" fill="#9ebeeb" stroke="#9ebeeb" stroke-width="0.6"/>
<path d="M447.9 355.6 L470.0 358.5 L480.7 343.5 L458.7 340.6Z" fill="#99ced9" stroke="#99ced9" stroke-width="0.6"/>
<path d="M458.7 340.6 L480.7 343.5 L491.4 328.5 L469.4 325.5Z" fill="#b2d7bb" stroke="#b2d7bb" stroke-width="0.6"/>
<path d="M469.4 325.5 L491.4 328.5 L502.2 313.6 L480.3 310.6Z" fill="#e5d59a" stroke="#e5d59a" stroke-width="0.6"/>
<path d="M480.3 310.6 L502.2 313.6 L512.9 298.6 L491.0 295.5Z" fill="#fdd07f" stroke="#fdd07f" stroke-width="0.6"/>
<path d="M491.0 295.5 L512.9 298.6 L523.3 283.4 L501.5 280.3Z" fill="#fdd07f" stroke="#fdd07f" stroke-width="0.6"/>
<path d="M501.5 280.3 L523.3 283.4 L534.0 268.5 L512.3 265.3Z" fill="#fdd07f" stroke="#fdd07f" stroke-width="0.6"/>
<path d="M512.3 265.3 L534.0 268.5 L545.7 254.2 L523.9 251.0Z" fill="#fdd07f" stroke="#fdd07f" stroke-width="0.6"/>
<path d="M523.9 251.0 L545.7 254.2 L557.7 240.3 L536.0 237.0Z" fill="#fdd07f" stroke="#fdd07f" stroke-width="0.6"/>
<path d="M536.0 237.0 L557.7 240.3 L569.3 226.0 L547.7 222.7Z" fill="#fdd07f" stroke="#fdd07f" stroke-width="0.6"/>
<path d="M547.7 222.7 L569.3 226.0 L580.4 211.3 L558.8 207.9Z" fill="#fdd07f" stroke="#fdd07f" stroke-width="0.6"/>
<path d="M558.8 207.9 L580.4 211.3 L592.1 197.1 L570.6 193.7Z" fill="#fdd07f" stroke="#fdd07f" stroke-width="0.6"/>
<path d="M570.6 193.7 L592.1 197.1 L604.2 183.2 L582.7 179.8Z" fill="#fdd07f" stroke="#fdd07f" stroke-width="0.6"/>
<path d="M582.7 179.8 L604.2 183.2 L616.8 169.8 L595.4 166.4Z" fill="#fdd07f" stroke="#fdd07f" stroke-width="0.6"/>
<path d="M595.4 166.4 L616.8 169.8 L630.3 157.3 L609.0 153.8Z" fill="#fdd07f" stroke="#fdd07f" stroke-width="0.6"/>
<path d="M609.0 153.8 L630.3 157.3 L644.2 145.2 L622.9 141.7Z" fill="#fdd07f" stroke="#fdd07f" stroke-width="0.6"/>
<path d="M622.9 141.7 L644.2 145.2 L658.0 133.0 L636.8 129.5Z" fill="#fdd07f" stroke="#fdd07f" stroke-width="0.6"/>
<path d="M147.0 366.0 L172.7 334.5 L196.9 301.8 L221.0 269.1 L244.5 235.9 L270.3 204.5 L295.9 173.0 L322.3 142.1 L351.2 113.5 L382.0 87.0 M154.0 366.9 L179.7 335.4 L203.8 302.8 L227.9 270.1 L251.4 236.9 L277.2 205.6 L302.7 174.0 L329.1 143.1 L358.0 114.6 L388.7 88.1 M161.1 367.8 L186.8 336.3 L210.8 303.7 L234.9 271.0 L258.3 237.9 L284.1 206.6 L309.6 175.1 L335.9 144.2 L364.7 115.7 L395.5 89.2 M168.1 368.6 L193.8 337.3 L217.8 304.6 L241.8 272.0 L265.3 238.9 L290.9 207.6 L316.4 176.1 L342.7 145.3 L371.5 116.8 L402.2 90.4 M175.2 369.5 L200.8 338.2 L224.8 305.6 L248.8 273.0 L272.2 239.9 L297.8 208.6 L323.3 177.2 L349.5 146.4 L378.3 117.9 L408.9 91.5 M182.2 370.4 L207.8 339.1 L231.8 306.5 L255.7 273.9 L279.1 240.9 L304.7 209.7 L330.1 178.2 L356.3 147.5 L385.1 119.0 L415.7 92.6 M189.3 371.3 L214.8 340.0 L238.7 307.4 L262.7 274.9 L286.0 241.9 L311.6 210.7 L337.0 179.3 L363.1 148.5 L391.8 120.1 L422.4 93.7 M196.3 372.1 L221.8 340.9 L245.7 308.4 L269.6 275.9 L292.9 242.9 L318.5 211.7 L343.8 180.3 L369.9 149.6 L398.6 121.2 L429.1 94.9 M203.4 373.0 L228.8 341.8 L252.7 309.3 L276.6 276.8 L299.8 243.9 L325.3 212.7 L350.6 181.4 L376.7 150.7 L405.4 122.3 L435.9 96.0 M210.4 373.9 L235.9 342.7 L259.7 310.2 L283.5 277.8 L306.7 244.9 L332.2 213.7 L357.5 182.4 L383.6 151.8 L412.1 123.4 L442.6 97.1 M217.5 374.8 L242.9 343.6 L266.7 311.2 L290.5 278.8 L313.7 245.9 L339.1 214.8 L364.3 183.5 L390.4 152.8 L418.9 124.5 L449.3 98.2 M224.5 375.7 L249.9 344.5 L273.6 312.1 L297.4 279.7 L320.6 246.9 L346.0 215.8 L371.2 184.5 L397.2 153.9 L425.7 125.6 L456.0 99.3 M231.6 376.5 L256.9 345.4 L280.6 313.0 L304.4 280.7 L327.5 247.9 L352.9 216.8 L378.0 185.6 L404.0 155.0 L432.5 126.8 L462.8 100.5 M238.6 377.4 L263.9 346.3 L287.6 314.0 L311.3 281.6 L334.4 248.9 L359.7 217.8 L384.9 186.6 L410.8 156.1 L439.2 127.9 L469.5 101.6 M245.7 378.3 L270.9 347.2 L294.6 314.9 L318.3 282.6 L341.3 249.9 L366.6 218.9 L391.7 187.7 L417.6 157.1 L446.0 129.0 L476.2 102.7 M252.7 379.2 L277.9 348.1 L301.6 315.8 L325.2 283.6 L348.2 250.9 L373.5 219.9 L398.6 188.7 L424.4 158.2 L452.8 130.1 L483.0 103.8 M259.8 380.0 L284.9 349.0 L308.5 316.8 L332.1 284.5 L355.1 251.9 L380.4 220.9 L405.4 189.8 L431.2 159.3 L459.5 131.2 L489.7 105.0 M266.8 380.9 L292.0 349.9 L315.5 317.7 L339.1 285.5 L362.0 252.9 L387.2 221.9 L412.2 190.8 L438.0 160.4 L466.3 132.3 L496.4 106.1 M273.9 381.8 L299.0 350.8 L322.5 318.6 L346.0 286.5 L369.0 253.8 L394.1 222.9 L419.1 191.9 L444.8 161.5 L473.1 133.4 L503.2 107.2 M280.9 382.7 L306.0 351.7 L329.5 319.6 L353.0 287.4 L375.9 254.8 L401.0 224.0 L425.9 192.9 L451.6 162.5 L479.9 134.5 L509.9 108.3 M288.0 383.6 L313.0 352.7 L336.5 320.5 L359.9 288.4 L382.8 255.8 L407.9 225.0 L432.8 194.0 L458.5 163.6 L486.6 135.6 L516.6 109.4 M295.0 384.4 L320.0 353.6 L343.4 321.5 L366.9 289.4 L389.7 256.8 L414.8 226.0 L439.6 195.0 L465.3 164.7 L493.4 136.7 L523.4 110.6 M302.1 385.3 L327.0 354.5 L350.4 322.4 L373.8 290.3 L396.6 257.8 L421.6 227.0 L446.5 196.1 L472.1 165.8 L500.2 137.8 L530.1 111.7 M309.1 386.2 L334.0 355.4 L357.4 323.3 L380.8 291.3 L403.5 258.8 L428.5 228.1 L453.3 197.1 L478.9 166.8 L506.9 138.9 L536.8 112.8 M316.2 387.1 L341.1 356.3 L364.4 324.3 L387.7 292.3 L410.4 259.8 L435.4 229.1 L460.2 198.2 L485.7 167.9 L513.7 140.0 L543.6 113.9 M323.2 388.0 L348.1 357.2 L371.4 325.2 L394.7 293.2 L417.4 260.8 L442.3 230.1 L467.0 199.2 L492.5 169.0 L520.5 141.1 L550.3 115.0 M330.3 388.8 L355.1 358.1 L378.3 326.1 L401.6 294.2 L424.3 261.8 L449.2 231.1 L473.8 200.3 L499.3 170.1 L527.2 142.2 L557.0 116.2 M337.3 389.7 L362.1 359.0 L385.3 327.1 L408.6 295.2 L431.2 262.8 L456.0 232.1 L480.7 201.3 L506.1 171.1 L534.0 143.3 L563.8 117.3 M344.4 390.6 L369.1 359.9 L392.3 328.0 L415.5 296.1 L438.1 263.8 L462.9 233.2 L487.5 202.4 L512.9 172.2 L540.8 144.4 L570.5 118.4 M351.4 391.5 L376.1 360.8 L399.3 328.9 L422.5 297.1 L445.0 264.8 L469.8 234.2 L494.4 203.4 L519.7 173.3 L547.6 145.5 L577.2 119.5 M358.5 392.3 L383.1 361.7 L406.3 329.9 L429.4 298.0 L451.9 265.8 L476.7 235.2 L501.2 204.5 L526.5 174.4 L554.3 146.6 L584.0 120.7 M365.5 393.2 L390.2 362.6 L413.2 330.8 L436.3 299.0 L458.8 266.8 L483.6 236.2 L508.1 205.5 L533.3 175.5 L561.1 147.7 L590.7 121.8 M372.6 394.1 L397.2 363.5 L420.2 331.7 L443.3 300.0 L465.8 267.8 L490.4 237.3 L514.9 206.6 L540.2 176.5 L567.9 148.8 L597.4 122.9 M379.6 395.0 L404.2 364.4 L427.2 332.7 L450.2 300.9 L472.7 268.8 L497.3 238.3 L521.7 207.6 L547.0 177.6 L574.6 149.9 L604.1 124.0 M386.7 395.9 L411.2 365.3 L434.2 333.6 L457.2 301.9 L479.6 269.8 L504.2 239.3 L528.6 208.7 L553.8 178.7 L581.4 151.0 L610.9 125.1 M393.7 396.7 L418.2 366.2 L441.2 334.5 L464.1 302.9 L486.5 270.8 L511.1 240.3 L535.4 209.7 L560.6 179.8 L588.2 152.1 L617.6 126.3 M400.8 397.6 L425.2 367.1 L448.1 335.5 L471.1 303.8 L493.4 271.7 L517.9 241.3 L542.3 210.8 L567.4 180.8 L595.0 153.2 L624.3 127.4 M407.8 398.5 L432.2 368.0 L455.1 336.4 L478.0 304.8 L500.3 272.7 L524.8 242.4 L549.1 211.8 L574.2 181.9 L601.7 154.3 L631.1 128.5 M414.9 399.4 L439.3 369.0 L462.1 337.4 L485.0 305.8 L507.2 273.7 L531.7 243.4 L556.0 212.9 L581.0 183.0 L608.5 155.4 L637.8 129.6 M421.9 400.2 L446.3 369.9 L469.1 338.3 L491.9 306.7 L514.2 274.7 L538.6 244.4 L562.8 213.9 L587.8 184.1 L615.3 156.5 L644.5 130.8 M429.0 401.1 L453.3 370.8 L476.1 339.2 L498.9 307.7 L521.1 275.7 L545.5 245.4 L569.7 215.0 L594.6 185.1 L622.0 157.6 L651.3 131.9 M436.0 402.0 L460.3 371.7 L483.0 340.2 L505.8 308.7 L528.0 276.7 L552.3 246.5 L576.5 216.0 L601.4 186.2 L628.8 158.7 L658.0 133.0 M147.0 366.0 L175.9 369.6 L204.8 373.2 L233.7 376.8 L262.6 380.4 L291.5 384.0 L320.4 387.6 L349.3 391.2 L378.2 394.8 L407.1 398.4 L436.0 402.0 M158.9 350.9 L187.8 354.5 L216.6 358.2 L245.4 361.8 L274.3 365.5 L303.1 369.2 L331.9 372.8 L360.8 376.5 L389.6 380.1 L418.4 383.8 L447.3 387.4 M171.4 336.2 L200.2 339.9 L228.9 343.6 L257.7 347.3 L286.5 351.1 L315.2 354.8 L344.0 358.5 L372.8 362.2 L401.5 365.9 L430.3 369.6 L459.1 373.3 M183.0 320.8 L211.7 324.6 L240.4 328.4 L269.1 332.1 L297.8 335.9 L326.5 339.7 L355.2 343.4 L383.9 347.2 L412.6 351.0 L441.3 354.7 L470.0 358.5 M194.3 305.3 L223.0 309.1 L251.6 312.9 L280.2 316.7 L308.9 320.6 L337.5 324.4 L366.1 328.2 L394.8 332.0 L423.4 335.9 L452.1 339.7 L480.7 343.5 M205.7 289.7 L234.3 293.6 L262.8 297.5 L291.4 301.4 L320.0 305.2 L348.5 309.1 L377.1 313.0 L405.7 316.9 L434.2 320.7 L462.8 324.6 L491.4 328.5 M217.2 274.3 L245.7 278.2 L274.2 282.1 L302.7 286.1 L331.2 290.0 L359.7 294.0 L388.2 297.9 L416.7 301.8 L445.2 305.8 L473.7 309.7 L502.2 313.6 M228.5 258.7 L256.9 262.7 L285.4 266.7 L313.8 270.7 L342.3 274.7 L370.7 278.7 L399.1 282.6 L427.6 286.6 L456.0 290.6 L484.5 294.6 L512.9 298.6 M239.5 242.9 L267.9 247.0 L296.3 251.0 L324.7 255.1 L353.0 259.1 L381.4 263.2 L409.8 267.2 L438.2 271.3 L466.5 275.3 L494.9 279.4 L523.3 283.4 M250.9 227.4 L279.2 231.5 L307.5 235.6 L335.9 239.7 L364.2 243.8 L392.5 247.9 L420.8 252.0 L449.1 256.1 L477.4 260.3 L505.7 264.4 L534.0 268.5 M263.2 212.6 L291.5 216.7 L319.7 220.9 L348.0 225.1 L376.2 229.2 L404.4 233.4 L432.7 237.5 L460.9 241.7 L489.2 245.9 L517.4 250.0 L545.7 254.2 M276.0 198.1 L304.2 202.4 L332.3 206.6 L360.5 210.8 L388.7 215.0 L416.8 219.2 L445.0 223.4 L473.2 227.6 L501.4 231.9 L529.5 236.1 L557.7 240.3 M288.3 183.3 L316.4 187.6 L344.5 191.8 L372.6 196.1 L400.7 200.4 L428.8 204.6 L456.9 208.9 L485.0 213.2 L513.1 217.4 L541.2 221.7 L569.3 226.0 M300.0 168.0 L328.0 172.4 L356.0 176.7 L384.1 181.0 L412.1 185.3 L440.2 189.6 L468.2 194.0 L496.2 198.3 L524.3 202.6 L552.3 206.9 L580.4 211.3 M312.4 153.3 L340.4 157.7 L368.4 162.1 L396.3 166.5 L424.3 170.8 L452.3 175.2 L480.2 179.6 L508.2 184.0 L536.2 188.3 L564.1 192.7 L592.1 197.1 M325.2 138.9 L353.1 143.3 L381.0 147.8 L408.9 152.2 L436.8 156.6 L464.7 161.0 L492.6 165.5 L520.5 169.9 L548.4 174.3 L576.3 178.7 L604.2 183.2 M338.6 125.1 L366.4 129.6 L394.2 134.0 L422.1 138.5 L449.9 143.0 L477.7 147.5 L505.5 151.9 L533.4 156.4 L561.2 160.9 L589.0 165.4 L616.8 169.8 M352.8 112.1 L380.6 116.6 L408.3 121.2 L436.1 125.7 L463.8 130.2 L491.6 134.7 L519.3 139.2 L547.1 143.8 L574.8 148.3 L602.6 152.8 L630.3 157.3 M367.4 99.6 L395.1 104.1 L422.8 108.7 L450.4 113.3 L478.1 117.8 L505.8 122.4 L533.5 126.9 L561.2 131.5 L588.8 136.1 L616.5 140.6 L644.2 145.2 M382.0 87.0 L409.6 91.6 L437.2 96.2 L464.8 100.8 L492.4 105.4 L520.0 110.0 L547.6 114.6 L575.2 119.2 L602.8 123.8 L630.4 128.4 L658.0 133.0" fill="none" stroke="#2a1000" stroke-width="1.3" stroke-opacity="0.85"/>
<path d="M146.0 358.0 L172.0 342.0 L206.0 324.0 L240.0 303.0 L292.0 272.0 L345.0 247.0 L380.0 228.0 L453.0 196.0 L520.0 180.0 L617.0 171.0 L879.0 215.4 L731.0 242.0 L700.0 255.0 L640.0 278.0 L580.0 300.0 L525.0 338.0 L508.0 354.0 L474.0 380.0 L437.0 406.5 L320.0 389.5 L150.0 366.0Z" fill="#ff0000" fill-opacity="0.2" />
<path d="M148.2 366.0 L166.0 368.3 L182.4 360.5 L164.7 358.4Z" fill="#4149e1" stroke="#4149e1" stroke-width="0.6"/>
<path d="M164.7 358.4 L182.4 360.5 L198.8 352.5 L181.1 350.5Z" fill="#395def" stroke="#395def" stroke-width="0.6"/>
<path d="M181.1 350.5 L198.8 352.5 L215.0 344.3 L197.4 342.5Z" fill="#2d6ef4" stroke="#2d6ef4" stroke-width="0.6"/>
<path d="M197.4 342.5 L215.0 344.3 L231.0 335.6 L213.5 333.9Z" fill="#217ef0" stroke="#217ef0" stroke-width="0.6"/>
<path d="M213.5 333.9 L231.0 335.6 L246.5 326.1 L229.0 324.5Z" fill="#168fe8" stroke="#168fe8" stroke-width="0.6"/>
<path d="M229.0 324.5 L246.5 326.1 L262.0 316.6 L244.5 315.0Z" fill="#109bdc" stroke="#109bdc" stroke-width="0.6"/>
<path d="M244.5 315.0 L262.0 316.6 L277.5 307.1 L260.0 305.4Z" fill="#0ea5cf" stroke="#0ea5cf" stroke-width="0.6"/>
<path d="M260.0 305.4 L277.5 307.1 L293.1 297.7 L275.5 295.9Z" fill="#13adbb" stroke="#13adbb" stroke-width="0.6"/>
<path d="M275.5 295.9 L293.1 297.7 L308.9 288.7 L291.3 286.9Z" fill="#1bb5a7" stroke="#1bb5a7" stroke-width="0.6"/>
<path d="M291.3 286.9 L308.9 288.7 L325.1 280.5 L307.5 278.6Z" fill="#31ba94" stroke="#31ba94" stroke-width="0.6"/>
<path d="M307.5 278.6 L325.1 280.5 L341.7 273.0 L324.0 271.1Z" fill="#47bf81" stroke="#47bf81" stroke-width="0.6"/>
<path d="M324.0 271.1 L341.7 273.0 L358.3 265.6 L340.7 263.7Z" fill="#64c46b" stroke="#64c46b" stroke-width="0.6"/>
<path d="M340.7 263.7 L358.3 265.6 L374.9 258.2 L357.2 256.1Z" fill="#89c858" stroke="#89c858" stroke-width="0.6"/>
<path d="M357.2 256.1 L374.9 258.2 L391.5 250.8 L373.7 248.6Z" fill="#a2ca4b" stroke="#a2ca4b" stroke-width="0.6"/>
<path d="M373.7 248.6 L391.5 250.8 L408.1 243.3 L390.3 241.1Z" fill="#b7cd42" stroke="#b7cd42" stroke-width="0.6"/>
<path d="M390.3 241.1 L408.1 243.3 L424.7 235.9 L406.9 233.7Z" fill="#c9ce3b" stroke="#c9ce3b" stroke-width="0.6"/>
<path d="M406.9 233.7 L424.7 235.9 L441.4 228.7 L423.6 226.4Z" fill="#d0ce38" stroke="#d0ce38" stroke-width="0.6"/>
<path d="M423.6 226.4 L441.4 228.7 L458.2 221.7 L440.4 219.4Z" fill="#d4cd35" stroke="#d4cd35" stroke-width="0.6"/>
<path d="M440.4 219.4 L458.2 221.7 L475.1 214.9 L457.2 212.5Z" fill="#d7cd35" stroke="#d7cd35" stroke-width="0.6"/>
<path d="M457.2 212.5 L475.1 214.9 L491.9 208.1 L474.0 205.5Z" fill="#dacc35" stroke="#dacc35" stroke-width="0.6"/>
<path d="M166.0 368.3 L183.9 370.6 L200.2 362.6 L182.4 360.5Z" fill="#4149e2" stroke="#4149e2" stroke-width="0.6"/>
<path d="M182.4 360.5 L200.2 362.6 L216.4 354.4 L198.8 352.5Z" fill="#385ef0" stroke="#385ef0" stroke-width="0.6"/>
<path d="M198.8 352.5 L216.4 354.4 L232.6 346.1 L215.0 344.3Z" fill="#2c6ef4" stroke="#2c6ef4" stroke-width="0.6"/>
<path d="M215.0 344.3 L232.6 346.1 L248.5 337.3 L231.0 335.6Z" fill="#207ff0" stroke="#207ff0" stroke-width="0.6"/>
<path d="M231.0 335.6 L248.5 337.3 L264.0 327.8 L246.5 326.1Z" fill="#1590e7" stroke="#1590e7" stroke-width="0.6"/>
<path d="M246.5 326.1 L264.0 327.8 L279.5 318.3 L262.0 316.6Z" fill="#109cdb" stroke="#109cdb" stroke-width="0.6"/>
<path d="M262.0 316.6 L279.5 318.3 L295.0 308.8 L277.5 307.1Z" fill="#0fa6cc" stroke="#0fa6cc" stroke-width="0.6"/>
<path d="M277.5 307.1 L295.0 308.8 L310.6 299.4 L293.1 297.7Z" fill="#14aeb8" stroke="#14aeb8" stroke-width="0.6"/>
<path d="M293.1 297.7 L310.6 299.4 L326.4 290.5 L308.9 288.7Z" fill="#1eb5a5" stroke="#1eb5a5" stroke-width="0.6"/>
<path d="M308.9 288.7 L326.4 290.5 L342.7 282.3 L325.1 280.5Z" fill="#34bb92" stroke="#34bb92" stroke-width="0.6"/>
<path d="M325.1 280.5 L342.7 282.3 L359.3 274.8 L341.7 273.0Z" fill="#49c07f" stroke="#49c07f" stroke-width="0.6"/>
<path d="M341.7 273.0 L359.3 274.8 L376.0 267.6 L358.3 265.6Z" fill="#68c569" stroke="#68c569" stroke-width="0.6"/>
<path d="M358.3 265.6 L376.0 267.6 L392.6 260.3 L374.9 258.2Z" fill="#8cc856" stroke="#8cc856" stroke-width="0.6"/>
<path d="M374.9 258.2 L392.6 260.3 L409.3 253.0 L391.5 250.8Z" fill="#a4ca4a" stroke="#a4ca4a" stroke-width="0.6"/>
<path d="M391.5 250.8 L409.3 253.0 L425.9 245.6 L408.1 243.3Z" fill="#b9cd41" stroke="#b9cd41" stroke-width="0.6"/>
<path d="M408.1 243.3 L425.9 245.6 L442.5 238.2 L424.7 235.9Z" fill="#c9ce3b" stroke="#c9ce3b" stroke-width="0.6"/>
<path d="M424.7 235.9 L442.5 238.2 L459.2 231.0 L441.4 228.7Z" fill="#d0ce37" stroke="#d0ce37" stroke-width="0.6"/>
<path d="M441.4 228.7 L459.2 231.0 L476.0 224.0 L458.2 221.7Z" fill="#d4cd35" stroke="#d4cd35" stroke-width="0.6"/>
<path d="M458.2 221.7 L476.0 224.0 L492.9 217.3 L475.1 214.9Z" fill="#d7cd35" stroke="#d7cd35" stroke-width="0.6"/>
<path d="M475.1 214.9 L492.9 217.3 L509.8 210.6 L491.9 208.1Z" fill="#dacc35" stroke="#dacc35" stroke-width="0.6"/>
<path d="M183.9 370.6 L201.7 372.9 L217.9 364.7 L200.2 362.6Z" fill="#414ae3" stroke="#414ae3" stroke-width="0.6"/>
<path d="M200.2 362.6 L217.9 364.7 L234.1 356.4 L216.4 354.4Z" fill="#385ff0" stroke="#385ff0" stroke-width="0.6"/>
<path d="M216.4 354.4 L234.1 356.4 L250.2 348.0 L232.6 346.1Z" fill="#2b6ff4" stroke="#2b6ff4" stroke-width="0.6"/>
<path d="M232.6 346.1 L250.2 348.0 L266.0 339.0 L248.5 337.3Z" fill="#1f81ef" stroke="#1f81ef" stroke-width="0.6"/>
<path d="M248.5 337.3 L266.0 339.0 L281.4 329.4 L264.0 327.8Z" fill="#1591e6" stroke="#1591e6" stroke-width="0.6"/>
<path d="M264.0 327.8 L281.4 329.4 L297.0 319.9 L279.5 318.3Z" fill="#0f9ed9" stroke="#0f9ed9" stroke-width="0.6"/>
<path d="M279.5 318.3 L297.0 319.9 L312.5 310.5 L295.0 308.8Z" fill="#0fa8c9" stroke="#0fa8c9" stroke-width="0.6"/>
<path d="M295.0 308.8 L312.5 310.5 L328.2 301.2 L310.6 299.4Z" fill="#14afb6" stroke="#14afb6" stroke-width="0.6"/>
<path d="M310.6 299.4 L328.2 301.2 L344.0 292.3 L326.4 290.5Z" fill="#21b6a2" stroke="#21b6a2" stroke-width="0.6"/>
<path d="M326.4 290.5 L344.0 292.3 L360.3 284.2 L342.7 282.3Z" fill="#36bb8f" stroke="#36bb8f" stroke-width="0.6"/>
<path d="M342.7 282.3 L360.3 284.2 L376.9 276.7 L359.3 274.8Z" fill="#4bc07d" stroke="#4bc07d" stroke-width="0.6"/>
<path d="M359.3 274.8 L376.9 276.7 L393.6 269.6 L376.0 267.6Z" fill="#6cc567" stroke="#6cc567" stroke-width="0.6"/>
<path d="M376.0 267.6 L393.6 269.6 L410.3 262.4 L392.6 260.3Z" fill="#8fc855" stroke="#8fc855" stroke-width="0.6"/>
<path d="M392.6 260.3 L410.3 262.4 L427.0 255.2 L409.3 253.0Z" fill="#a6cb49" stroke="#a6cb49" stroke-width="0.6"/>
<path d="M409.3 253.0 L427.0 255.2 L443.7 247.9 L425.9 245.6Z" fill="#bacd40" stroke="#bacd40" stroke-width="0.6"/>
<path d="M425.9 245.6 L443.7 247.9 L460.4 240.5 L442.5 238.2Z" fill="#cace3a" stroke="#cace3a" stroke-width="0.6"/>
<path d="M442.5 238.2 L460.4 240.5 L477.1 233.3 L459.2 231.0Z" fill="#d1ce37" stroke="#d1ce37" stroke-width="0.6"/>
<path d="M459.2 231.0 L477.1 233.3 L493.9 226.3 L476.0 224.0Z" fill="#d5cd35" stroke="#d5cd35" stroke-width="0.6"/>
<path d="M476.0 224.0 L493.9 226.3 L510.8 219.6 L492.9 217.3Z" fill="#d8cd35" stroke="#d8cd35" stroke-width="0.6"/>
<path d="M492.9 217.3 L510.8 219.6 L527.8 213.2 L509.8 210.6Z" fill="#dacc35" stroke="#dacc35" stroke-width="0.6"/>
<path d="M201.7 372.9 L219.5 375.1 L235.7 366.8 L217.9 364.7Z" fill="#414be4" stroke="#414be4" stroke-width="0.6"/>
<path d="M217.9 364.7 L235.7 366.8 L251.7 358.3 L234.1 356.4Z" fill="#375ff0" stroke="#375ff0" stroke-width="0.6"/>
<path d="M234.1 356.4 L251.7 358.3 L267.7 349.8 L250.2 348.0Z" fill="#2b70f4" stroke="#2b70f4" stroke-width="0.6"/>
<path d="M250.2 348.0 L267.7 349.8 L283.5 340.7 L266.0 339.0Z" fill="#1e82ef" stroke="#1e82ef" stroke-width="0.6"/>
<path d="M266.0 339.0 L283.5 340.7 L298.9 331.1 L281.4 329.4Z" fill="#1492e5" stroke="#1492e5" stroke-width="0.6"/>
<path d="M281.4 329.4 L298.9 331.1 L314.4 321.6 L297.0 319.9Z" fill="#0f9fd8" stroke="#0f9fd8" stroke-width="0.6"/>
<path d="M297.0 319.9 L314.4 321.6 L330.0 312.2 L312.5 310.5Z" fill="#10a9c6" stroke="#10a9c6" stroke-width="0.6"/>
<path d="M312.5 310.5 L330.0 312.2 L345.7 302.9 L328.2 301.2Z" fill="#15b0b3" stroke="#15b0b3" stroke-width="0.6"/>
<path d="M328.2 301.2 L345.7 302.9 L361.6 294.1 L344.0 292.3Z" fill="#24b7a0" stroke="#24b7a0" stroke-width="0.6"/>
<path d="M344.0 292.3 L361.6 294.1 L377.9 286.0 L360.3 284.2Z" fill="#39bc8d" stroke="#39bc8d" stroke-width="0.6"/>
<path d="M360.3 284.2 L377.9 286.0 L394.5 278.6 L376.9 276.7Z" fill="#4ec17b" stroke="#4ec17b" stroke-width="0.6"/>
<path d="M376.9 276.7 L394.5 278.6 L411.3 271.5 L393.6 269.6Z" fill="#70c565" stroke="#70c565" stroke-width="0.6"/>
<path d="M393.6 269.6 L411.3 271.5 L428.1 264.5 L410.3 262.4Z" fill="#91c854" stroke="#91c854" stroke-width="0.6"/>
<path d="M410.3 262.4 L428.1 264.5 L444.8 257.4 L427.0 255.2Z" fill="#a9cb48" stroke="#a9cb48" stroke-width="0.6"/>
<path d="M427.0 255.2 L444.8 257.4 L461.5 250.1 L443.7 247.9Z" fill="#bccd40" stroke="#bccd40" stroke-width="0.6"/>
<path d="M443.7 247.9 L461.5 250.1 L478.2 242.8 L460.4 240.5Z" fill="#cbce3a" stroke="#cbce3a" stroke-width="0.6"/>
<path d="M460.4 240.5 L478.2 242.8 L494.9 235.6 L477.1 233.3Z" fill="#d1ce37" stroke="#d1ce37" stroke-width="0.6"/>
<path d="M477.1 233.3 L494.9 235.6 L511.7 228.6 L493.9 226.3Z" fill="#d5cd35" stroke="#d5cd35" stroke-width="0.6"/>
<path d="M493.9 226.3 L511.7 228.6 L528.6 222.0 L510.8 219.6Z" fill="#d8cd35" stroke="#d8cd35" stroke-width="0.6"/>
<path d="M510.8 219.6 L528.6 222.0 L545.7 215.7 L527.8 213.2Z" fill="#dacc35" stroke="#dacc35" stroke-width="0.6"/>
<path d="M219.5 375.1 L237.4 377.4 L253.4 368.9 L235.7 366.8Z" fill="#414ce4" stroke="#414ce4" stroke-width="0.6"/>
<path d="M235.7 366.8 L253.4 368.9 L269.4 360.3 L251.7 358.3Z" fill="#3760f0" stroke="#3760f0" stroke-width="0.6"/>
<path d="M251.7 358.3 L269.4 360.3 L285.3 351.6 L267.7 349.8Z" fill="#2a71f4" stroke="#2a71f4" stroke-width="0.6"/>
<path d="M267.7 349.8 L285.3 351.6 L301.0 342.4 L283.5 340.7Z" fill="#1d83ee" stroke="#1d83ee" stroke-width="0.6"/>
<path d="M283.5 340.7 L301.0 342.4 L316.4 332.7 L298.9 331.1Z" fill="#1493e3" stroke="#1493e3" stroke-width="0.6"/>
<path d="M298.9 331.1 L316.4 332.7 L331.9 323.2 L314.4 321.6Z" fill="#0ea1d6" stroke="#0ea1d6" stroke-width="0.6"/>
<path d="M314.4 321.6 L331.9 323.2 L347.5 313.8 L330.0 312.2Z" fill="#11aac3" stroke="#11aac3" stroke-width="0.6"/>
<path d="M330.0 312.2 L347.5 313.8 L363.3 304.7 L345.7 302.9Z" fill="#15b1b1" stroke="#15b1b1" stroke-width="0.6"/>
<path d="M345.7 302.9 L363.3 304.7 L379.2 295.9 L361.6 294.1Z" fill="#26b79d" stroke="#26b79d" stroke-width="0.6"/>
<path d="M361.6 294.1 L379.2 295.9 L395.5 287.9 L377.9 286.0Z" fill="#3bbc8b" stroke="#3bbc8b" stroke-width="0.6"/>
<path d="M377.9 286.0 L395.5 287.9 L412.2 280.5 L394.5 278.6Z" fill="#50c179" stroke="#50c179" stroke-width="0.6"/>
<path d="M394.5 278.6 L412.2 280.5 L429.0 273.5 L411.3 271.5Z" fill="#74c663" stroke="#74c663" stroke-width="0.6"/>
<path d="M411.3 271.5 L429.0 273.5 L445.8 266.5 L428.1 264.5Z" fill="#94c952" stroke="#94c952" stroke-width="0.6"/>
<path d="M428.1 264.5 L445.8 266.5 L462.6 259.6 L444.8 257.4Z" fill="#abcb47" stroke="#abcb47" stroke-width="0.6"/>
<path d="M444.8 257.4 L462.6 259.6 L479.3 252.4 L461.5 250.1Z" fill="#becd3f" stroke="#becd3f" stroke-width="0.6"/>
<path d="M461.5 250.1 L479.3 252.4 L496.0 245.1 L478.2 242.8Z" fill="#ccce3a" stroke="#ccce3a" stroke-width="0.6"/>
<path d="M478.2 242.8 L496.0 245.1 L512.7 237.9 L494.9 235.6Z" fill="#d2ce37" stroke="#d2ce37" stroke-width="0.6"/>
<path d="M494.9 235.6 L512.7 237.9 L529.5 230.9 L511.7 228.6Z" fill="#d6cd35" stroke="#d6cd35" stroke-width="0.6"/>
<path d="M511.7 228.6 L529.5 230.9 L546.5 224.4 L528.6 222.0Z" fill="#d8cd35" stroke="#d8cd35" stroke-width="0.6"/>
<path d="M528.6 222.0 L546.5 224.4 L563.6 218.3 L545.7 215.7Z" fill="#dbcc35" stroke="#dbcc35" stroke-width="0.6"/>
<path d="M237.4 377.4 L255.2 379.7 L271.1 371.1 L253.4 368.9Z" fill="#404ce5" stroke="#404ce5" stroke-width="0.6"/>
<path d="M253.4 368.9 L271.1 371.1 L287.0 362.3 L269.4 360.3Z" fill="#3661f0" stroke="#3661f0" stroke-width="0.6"/>
<path d="M269.4 360.3 L287.0 362.3 L302.9 353.4 L285.3 351.6Z" fill="#2a72f5" stroke="#2a72f5" stroke-width="0.6"/>
<path d="M285.3 351.6 L302.9 353.4 L318.5 344.1 L301.0 342.4Z" fill="#1d84ee" stroke="#1d84ee" stroke-width="0.6"/>
<path d="M301.0 342.4 L318.5 344.1 L333.9 334.3 L316.4 332.7Z" fill="#1395e2" stroke="#1395e2" stroke-width="0.6"/>
<path d="M316.4 332.7 L333.9 334.3 L349.4 324.8 L331.9 323.2Z" fill="#0da2d5" stroke="#0da2d5" stroke-width="0.6"/>
<path d="M331.9 323.2 L349.4 324.8 L365.0 315.5 L347.5 313.8Z" fill="#12abc1" stroke="#12abc1" stroke-width="0.6"/>
<path d="M347.5 313.8 L365.0 315.5 L380.8 306.4 L363.3 304.7Z" fill="#16b2ae" stroke="#16b2ae" stroke-width="0.6"/>
<path d="M363.3 304.7 L380.8 306.4 L396.8 297.7 L379.2 295.9Z" fill="#29b89b" stroke="#29b89b" stroke-width="0.6"/>
<path d="M379.2 295.9 L396.8 297.7 L413.1 289.7 L395.5 287.9Z" fill="#3ebd89" stroke="#3ebd89" stroke-width="0.6"/>
<path d="M395.5 287.9 L413.1 289.7 L429.8 282.4 L412.2 280.5Z" fill="#52c277" stroke="#52c277" stroke-width="0.6"/>
<path d="M412.2 280.5 L429.8 282.4 L446.6 275.5 L429.0 273.5Z" fill="#78c661" stroke="#78c661" stroke-width="0.6"/>
<path d="M429.0 273.5 L446.6 275.5 L463.5 268.6 L445.8 266.5Z" fill="#97c951" stroke="#97c951" stroke-width="0.6"/>
<path d="M445.8 266.5 L463.5 268.6 L480.3 261.7 L462.6 259.6Z" fill="#adcc46" stroke="#adcc46" stroke-width="0.6"/>
<path d="M462.6 259.6 L480.3 261.7 L497.1 254.6 L479.3 252.4Z" fill="#bfcd3e" stroke="#bfcd3e" stroke-width="0.6"/>
<path d="M479.3 252.4 L497.1 254.6 L513.8 247.4 L496.0 245.1Z" fill="#cdce39" stroke="#cdce39" stroke-width="0.6"/>
<path d="M496.0 245.1 L513.8 247.4 L530.5 240.2 L512.7 237.9Z" fill="#d2cd36" stroke="#d2cd36" stroke-width="0.6"/>
<path d="M512.7 237.9 L530.5 240.2 L547.3 233.2 L529.5 230.9Z" fill="#d6cd35" stroke="#d6cd35" stroke-width="0.6"/>
<path d="M529.5 230.9 L547.3 233.2 L564.4 226.8 L546.5 224.4Z" fill="#d9cd35" stroke="#d9cd35" stroke-width="0.6"/>
<path d="M546.5 224.4 L564.4 226.8 L581.5 220.8 L563.6 218.3Z" fill="#dbcc35" stroke="#dbcc35" stroke-width="0.6"/>
<path d="M255.2 379.7 L273.0 382.0 L288.9 373.2 L271.1 371.1Z" fill="#404de6" stroke="#404de6" stroke-width="0.6"/>
<path d="M271.1 371.1 L288.9 373.2 L304.7 364.2 L287.0 362.3Z" fill="#3661f0" stroke="#3661f0" stroke-width="0.6"/>
<path d="M287.0 362.3 L304.7 364.2 L320.4 355.2 L302.9 353.4Z" fill="#2972f5" stroke="#2972f5" stroke-width="0.6"/>
<path d="M302.9 353.4 L320.4 355.2 L336.0 345.8 L318.5 344.1Z" fill="#1c85ed" stroke="#1c85ed" stroke-width="0.6"/>
<path d="M318.5 344.1 L336.0 345.8 L351.3 336.0 L333.9 334.3Z" fill="#1396e1" stroke="#1396e1" stroke-width="0.6"/>
<path d="M333.9 334.3 L351.3 336.0 L366.9 326.5 L349.4 324.8Z" fill="#0da4d3" stroke="#0da4d3" stroke-width="0.6"/>
<path d="M349.4 324.8 L366.9 326.5 L382.6 317.2 L365.0 315.5Z" fill="#12acbe" stroke="#12acbe" stroke-width="0.6"/>
<path d="M365.0 315.5 L382.6 317.2 L398.3 308.2 L380.8 306.4Z" fill="#17b3ac" stroke="#17b3ac" stroke-width="0.6"/>
<path d="M380.8 306.4 L398.3 308.2 L414.4 299.5 L396.8 297.7Z" fill="#2cb998" stroke="#2cb998" stroke-width="0.6"/>
<path d="M396.8 297.7 L414.4 299.5 L430.7 291.5 L413.1 289.7Z" fill="#40be86" stroke="#40be86" stroke-width="0.6"/>
<path d="M413.1 289.7 L430.7 291.5 L447.4 284.3 L429.8 282.4Z" fill="#55c375" stroke="#55c375" stroke-width="0.6"/>
<path d="M429.8 282.4 L447.4 284.3 L464.3 277.4 L446.6 275.5Z" fill="#7cc65f" stroke="#7cc65f" stroke-width="0.6"/>
<path d="M446.6 275.5 L464.3 277.4 L481.2 270.7 L463.5 268.6Z" fill="#99c950" stroke="#99c950" stroke-width="0.6"/>
<path d="M463.5 268.6 L481.2 270.7 L498.1 263.9 L480.3 261.7Z" fill="#afcc45" stroke="#afcc45" stroke-width="0.6"/>
<path d="M480.3 261.7 L498.1 263.9 L514.9 256.9 L497.1 254.6Z" fill="#c1cd3e" stroke="#c1cd3e" stroke-width="0.6"/>
<path d="M497.1 254.6 L514.9 256.9 L531.6 249.7 L513.8 247.4Z" fill="#cece39" stroke="#cece39" stroke-width="0.6"/>
<path d="M513.8 247.4 L531.6 249.7 L548.3 242.4 L530.5 240.2Z" fill="#d3cd36" stroke="#d3cd36" stroke-width="0.6"/>
<path d="M530.5 240.2 L548.3 242.4 L565.2 235.5 L547.3 233.2Z" fill="#d6cd35" stroke="#d6cd35" stroke-width="0.6"/>
<path d="M547.3 233.2 L565.2 235.5 L582.2 229.2 L564.4 226.8Z" fill="#d9cd35" stroke="#d9cd35" stroke-width="0.6"/>
<path d="M564.4 226.8 L582.2 229.2 L599.4 223.4 L581.5 220.8Z" fill="#dbcc35" stroke="#dbcc35" stroke-width="0.6"/>
<path d="M273.0 382.0 L290.9 384.3 L306.6 375.3 L288.9 373.2Z" fill="#404ee7" stroke="#404ee7" stroke-width="0.6"/>
<path d="M288.9 373.2 L306.6 375.3 L322.3 366.2 L304.7 364.2Z" fill="#3662f1" stroke="#3662f1" stroke-width="0.6"/>
<path d="M304.7 364.2 L322.3 366.2 L338.0 357.0 L320.4 355.2Z" fill="#2873f5" stroke="#2873f5" stroke-width="0.6"/>
<path d="M320.4 355.2 L338.0 357.0 L353.5 347.5 L336.0 345.8Z" fill="#1b87ed" stroke="#1b87ed" stroke-width="0.6"/>
<path d="M336.0 345.8 L353.5 347.5 L368.8 337.6 L351.3 336.0Z" fill="#1297e0" stroke="#1297e0" stroke-width="0.6"/>
<path d="M351.3 336.0 L368.8 337.6 L384.4 328.1 L366.9 326.5Z" fill="#0ea5d0" stroke="#0ea5d0" stroke-width="0.6"/>
<path d="M366.9 326.5 L384.4 328.1 L400.1 318.9 L382.6 317.2Z" fill="#13adbb" stroke="#13adbb" stroke-width="0.6"/>
<path d="M382.6 317.2 L400.1 318.9 L415.9 309.9 L398.3 308.2Z" fill="#19b4a9" stroke="#19b4a9" stroke-width="0.6"/>
<path d="M398.3 308.2 L415.9 309.9 L432.0 301.3 L414.4 299.5Z" fill="#2fb996" stroke="#2fb996" stroke-width="0.6"/>
<path d="M414.4 299.5 L432.0 301.3 L448.4 293.4 L430.7 291.5Z" fill="#43be84" stroke="#43be84" stroke-width="0.6"/>
<path d="M430.7 291.5 L448.4 293.4 L465.1 286.1 L447.4 284.3Z" fill="#58c372" stroke="#58c372" stroke-width="0.6"/>
<path d="M447.4 284.3 L465.1 286.1 L482.0 279.4 L464.3 277.4Z" fill="#80c75d" stroke="#80c75d" stroke-width="0.6"/>
<path d="M464.3 277.4 L482.0 279.4 L498.9 272.8 L481.2 270.7Z" fill="#9cca4e" stroke="#9cca4e" stroke-width="0.6"/>
<path d="M481.2 270.7 L498.9 272.8 L515.9 266.1 L498.1 263.9Z" fill="#b1cc44" stroke="#b1cc44" stroke-width="0.6"/>
<path d="M498.1 263.9 L515.9 266.1 L532.7 259.2 L514.9 256.9Z" fill="#c2cd3d" stroke="#c2cd3d" stroke-width="0.6"/>
<path d="M514.9 256.9 L532.7 259.2 L549.4 251.9 L531.6 249.7Z" fill="#cece39" stroke="#cece39" stroke-width="0.6"/>
<path d="M531.6 249.7 L549.4 251.9 L566.1 244.7 L548.3 242.4Z" fill="#d3cd36" stroke="#d3cd36" stroke-width="0.6"/>
<path d="M548.3 242.4 L566.1 244.7 L583.0 237.8 L565.2 235.5Z" fill="#d7cd35" stroke="#d7cd35" stroke-width="0.6"/>
<path d="M565.2 235.5 L583.0 237.8 L600.1 231.6 L582.2 229.2Z" fill="#d9cc35" stroke="#d9cc35" stroke-width="0.6"/>
<path d="M582.2 229.2 L600.1 231.6 L617.4 225.9 L599.4 223.4Z" fill="#dbcc35" stroke="#dbcc35" stroke-width="0.6"/>
<path d="M290.9 384.3 L308.7 386.6 L324.3 377.4 L306.6 375.3Z" fill="#404fe8" stroke="#404fe8" stroke-width="0.6"/>
<path d="M306.6 375.3 L324.3 377.4 L340.0 368.1 L322.3 366.2Z" fill="#3562f1" stroke="#3562f1" stroke-width="0.6"/>
<path d="M322.3 366.2 L340.0 368.1 L355.6 358.8 L338.0 357.0Z" fill="#2874f4" stroke="#2874f4" stroke-width="0.6"/>
<path d="M338.0 357.0 L355.6 358.8 L371.0 349.2 L353.5 347.5Z" fill="#1a88ec" stroke="#1a88ec" stroke-width="0.6"/>
<path d="M353.5 347.5 L371.0 349.2 L386.3 339.3 L368.8 337.6Z" fill="#1298df" stroke="#1298df" stroke-width="0.6"/>
<path d="M368.8 337.6 L386.3 339.3 L401.8 329.8 L384.4 328.1Z" fill="#0ea6ce" stroke="#0ea6ce" stroke-width="0.6"/>
<path d="M384.4 328.1 L401.8 329.8 L417.6 320.6 L400.1 318.9Z" fill="#14aeb8" stroke="#14aeb8" stroke-width="0.6"/>
<path d="M400.1 318.9 L417.6 320.6 L433.4 311.6 L415.9 309.9Z" fill="#1cb5a6" stroke="#1cb5a6" stroke-width="0.6"/>
<path d="M415.9 309.9 L433.4 311.6 L449.5 303.1 L432.0 301.3Z" fill="#31ba94" stroke="#31ba94" stroke-width="0.6"/>
<path d="M432.0 301.3 L449.5 303.1 L466.0 295.2 L448.4 293.4Z" fill="#46bf82" stroke="#46bf82" stroke-width="0.6"/>
<path d="M448.4 293.4 L466.0 295.2 L482.7 288.0 L465.1 286.1Z" fill="#5ec46f" stroke="#5ec46f" stroke-width="0.6"/>
<path d="M465.1 286.1 L482.7 288.0 L499.6 281.4 L482.0 279.4Z" fill="#83c75b" stroke="#83c75b" stroke-width="0.6"/>
<path d="M482.0 279.4 L499.6 281.4 L516.6 274.9 L498.9 272.8Z" fill="#9eca4d" stroke="#9eca4d" stroke-width="0.6"/>
<path d="M498.9 272.8 L516.6 274.9 L533.6 268.3 L515.9 266.1Z" fill="#b3cc43" stroke="#b3cc43" stroke-width="0.6"/>
<path d="M515.9 266.1 L533.6 268.3 L550.5 261.4 L532.7 259.2Z" fill="#c4cd3d" stroke="#c4cd3d" stroke-width="0.6"/>
<path d="M532.7 259.2 L550.5 261.4 L567.2 254.2 L549.4 251.9Z" fill="#cfce38" stroke="#cfce38" stroke-width="0.6"/>
<path d="M549.4 251.9 L567.2 254.2 L583.9 247.0 L566.1 244.7Z" fill="#d4cd36" stroke="#d4cd36" stroke-width="0.6"/>
<path d="M566.1 244.7 L583.9 247.0 L600.8 240.1 L583.0 237.8Z" fill="#d7cd35" stroke="#d7cd35" stroke-width="0.6"/>
<path d="M583.0 237.8 L600.8 240.1 L618.0 234.0 L600.1 231.6Z" fill="#d9cc35" stroke="#d9cc35" stroke-width="0.6"/>
<path d="M600.1 231.6 L618.0 234.0 L635.3 228.5 L617.4 225.9Z" fill="#dbcc35" stroke="#dbcc35" stroke-width="0.6"/>
<path d="M308.7 386.6 L326.5 388.9 L342.1 379.5 L324.3 377.4Z" fill="#4050e8" stroke="#4050e8" stroke-width="0.6"/>
<path d="M324.3 377.4 L342.1 379.5 L357.6 370.1 L340.0 368.1Z" fill="#3563f1" stroke="#3563f1" stroke-width="0.6"/>
<path d="M340.0 368.1 L357.6 370.1 L373.2 360.7 L355.6 358.8Z" fill="#2775f4" stroke="#2775f4" stroke-width="0.6"/>
<path d="M355.6 358.8 L373.2 360.7 L388.5 350.9 L371.0 349.2Z" fill="#1989ec" stroke="#1989ec" stroke-width="0.6"/>
<path d="M371.0 349.2 L388.5 350.9 L403.8 340.9 L386.3 339.3Z" fill="#1199de" stroke="#1199de" stroke-width="0.6"/>
<path d="M386.3 339.3 L403.8 340.9 L419.3 331.4 L401.8 329.8Z" fill="#0fa7cb" stroke="#0fa7cb" stroke-width="0.6"/>
<path d="M401.8 329.8 L419.3 331.4 L435.1 322.3 L417.6 320.6Z" fill="#14afb5" stroke="#14afb5" stroke-width="0.6"/>
<path d="M417.6 320.6 L435.1 322.3 L451.0 313.4 L433.4 311.6Z" fill="#1fb6a4" stroke="#1fb6a4" stroke-width="0.6"/>
<path d="M433.4 311.6 L451.0 313.4 L467.1 304.9 L449.5 303.1Z" fill="#34bb91" stroke="#34bb91" stroke-width="0.6"/>
<path d="M449.5 303.1 L467.1 304.9 L483.6 297.1 L466.0 295.2Z" fill="#48c080" stroke="#48c080" stroke-width="0.6"/>
<path d="M466.0 295.2 L483.6 297.1 L500.3 289.9 L482.7 288.0Z" fill="#63c46c" stroke="#63c46c" stroke-width="0.6"/>
<path d="M482.7 288.0 L500.3 289.9 L517.3 283.3 L499.6 281.4Z" fill="#87c759" stroke="#87c759" stroke-width="0.6"/>
<path d="M499.6 281.4 L517.3 283.3 L534.4 277.0 L516.6 274.9Z" fill="#a1ca4c" stroke="#a1ca4c" stroke-width="0.6"/>
<path d="M516.6 274.9 L534.4 277.0 L551.4 270.5 L533.6 268.3Z" fill="#b5cc42" stroke="#b5cc42" stroke-width="0.6"/>
<path d="M533.6 268.3 L551.4 270.5 L568.3 263.7 L550.5 261.4Z" fill="#c5cd3c" stroke="#c5cd3c" stroke-width="0.6"/>
<path d="M550.5 261.4 L568.3 263.7 L585.0 256.5 L567.2 254.2Z" fill="#cfce38" stroke="#cfce38" stroke-width="0.6"/>
<path d="M567.2 254.2 L585.0 256.5 L601.8 249.3 L583.9 247.0Z" fill="#d4cd35" stroke="#d4cd35" stroke-width="0.6"/>
<path d="M583.9 247.0 L601.8 249.3 L618.6 242.4 L600.8 240.1Z" fill="#d7cd35" stroke="#d7cd35" stroke-width="0.6"/>
<path d="M600.8 240.1 L618.6 242.4 L635.8 236.4 L618.0 234.0Z" fill="#dacc35" stroke="#dacc35" stroke-width="0.6"/>
<path d="M618.0 234.0 L635.8 236.4 L653.2 231.1 L635.3 228.5Z" fill="#dccc35" stroke="#dccc35" stroke-width="0.6"/>
<path d="M326.5 388.9 L344.3 391.2 L359.8 381.6 L342.1 379.5Z" fill="#4050e9" stroke="#4050e9" stroke-width="0.6"/>
<path d="M342.1 379.5 L359.8 381.6 L375.3 372.1 L357.6 370.1Z" fill="#3464f1" stroke="#3464f1" stroke-width="0.6"/>
<path d="M357.6 370.1 L375.3 372.1 L390.7 362.5 L373.2 360.7Z" fill="#2676f3" stroke="#2676f3" stroke-width="0.6"/>
<path d="M373.2 360.7 L390.7 362.5 L406.0 352.6 L388.5 350.9Z" fill="#188aeb" stroke="#188aeb" stroke-width="0.6"/>
<path d="M388.5 350.9 L406.0 352.6 L421.2 342.6 L403.8 340.9Z" fill="#119adc" stroke="#119adc" stroke-width="0.6"/>
<path d="M403.8 340.9 L421.2 342.6 L436.8 333.0 L419.3 331.4Z" fill="#10a8c8" stroke="#10a8c8" stroke-width="0.6"/>
<path d="M419.3 331.4 L436.8 333.0 L452.6 323.9 L435.1 322.3Z" fill="#15b1b3" stroke="#15b1b3" stroke-width="0.6"/>
<path d="M435.1 322.3 L452.6 323.9 L468.5 315.1 L451.0 313.4Z" fill="#22b6a1" stroke="#22b6a1" stroke-width="0.6"/>
<path d="M451.0 313.4 L468.5 315.1 L484.7 306.8 L467.1 304.9Z" fill="#37bb8f" stroke="#37bb8f" stroke-width="0.6"/>
<path d="M467.1 304.9 L484.7 306.8 L501.2 298.9 L483.6 297.1Z" fill="#4bc07d" stroke="#4bc07d" stroke-width="0.6"/>
<path d="M483.6 297.1 L501.2 298.9 L517.9 291.8 L500.3 289.9Z" fill="#69c569" stroke="#69c569" stroke-width="0.6"/>
<path d="M500.3 289.9 L517.9 291.8 L535.0 285.3 L517.3 283.3Z" fill="#8bc857" stroke="#8bc857" stroke-width="0.6"/>
<path d="M517.3 283.3 L535.0 285.3 L552.1 279.1 L534.4 277.0Z" fill="#a3ca4b" stroke="#a3ca4b" stroke-width="0.6"/>
<path d="M534.4 277.0 L552.1 279.1 L569.1 272.7 L551.4 270.5Z" fill="#b7cd42" stroke="#b7cd42" stroke-width="0.6"/>
<path d="M551.4 270.5 L569.1 272.7 L586.1 266.0 L568.3 263.7Z" fill="#c7ce3c" stroke="#c7ce3c" stroke-width="0.6"/>
<path d="M568.3 263.7 L586.1 266.0 L602.8 258.8 L585.0 256.5Z" fill="#d0ce38" stroke="#d0ce38" stroke-width="0.6"/>
<path d="M585.0 256.5 L602.8 258.8 L619.6 251.6 L601.8 249.3Z" fill="#d4cd35" stroke="#d4cd35" stroke-width="0.6"/>
<path d="M601.8 249.3 L619.6 251.6 L636.4 244.7 L618.6 242.4Z" fill="#d8cd35" stroke="#d8cd35" stroke-width="0.6"/>
<path d="M618.6 242.4 L636.4 244.7 L653.7 238.8 L635.8 236.4Z" fill="#dacc35" stroke="#dacc35" stroke-width="0.6"/>
<path d="M635.8 236.4 L653.7 238.8 L671.1 233.6 L653.2 231.1Z" fill="#dccc35" stroke="#dccc35" stroke-width="0.6"/>
<path d="M344.3 391.2 L362.2 393.5 L377.6 383.7 L359.8 381.6Z" fill="#4051ea" stroke="#4051ea" stroke-width="0.6"/>
<path d="M359.8 381.6 L377.6 383.7 L392.9 374.0 L375.3 372.1Z" fill="#3464f1" stroke="#3464f1" stroke-width="0.6"/>
<path d="M375.3 372.1 L392.9 374.0 L408.3 364.3 L390.7 362.5Z" fill="#2677f3" stroke="#2677f3" stroke-width="0.6"/>
<path d="M390.7 362.5 L408.3 364.3 L423.5 354.3 L406.0 352.6Z" fill="#178beb" stroke="#178beb" stroke-width="0.6"/>
<path d="M406.0 352.6 L423.5 354.3 L438.7 344.2 L421.2 342.6Z" fill="#109cdb" stroke="#109cdb" stroke-width="0.6"/>
<path d="M421.2 342.6 L438.7 344.2 L454.3 334.7 L436.8 333.0Z" fill="#10a9c6" stroke="#10a9c6" stroke-width="0.6"/>
<path d="M436.8 333.0 L454.3 334.7 L470.1 325.6 L452.6 323.9Z" fill="#16b2b0" stroke="#16b2b0" stroke-width="0.6"/>
<path d="M452.6 323.9 L470.1 325.6 L486.1 316.9 L468.5 315.1Z" fill="#25b79e" stroke="#25b79e" stroke-width="0.6"/>
<path d="M468.5 315.1 L486.1 316.9 L502.3 308.6 L484.7 306.8Z" fill="#3abc8c" stroke="#3abc8c" stroke-width="0.6"/>
<path d="M484.7 306.8 L502.3 308.6 L518.8 300.8 L501.2 298.9Z" fill="#4dc17b" stroke="#4dc17b" stroke-width="0.6"/>
<path d="M501.2 298.9 L518.8 300.8 L535.6 293.7 L517.9 291.8Z" fill="#6fc566" stroke="#6fc566" stroke-width="0.6"/>
<path d="M517.9 291.8 L535.6 293.7 L552.6 287.3 L535.0 285.3Z" fill="#8ec855" stroke="#8ec855" stroke-width="0.6"/>
<path d="M535.0 285.3 L552.6 287.3 L569.8 281.1 L552.1 279.1Z" fill="#a6cb49" stroke="#a6cb49" stroke-width="0.6"/>
<path d="M552.1 279.1 L569.8 281.1 L586.9 274.9 L569.1 272.7Z" fill="#b9cd41" stroke="#b9cd41" stroke-width="0.6"/>
<path d="M569.1 272.7 L586.9 274.9 L603.8 268.2 L586.1 266.0Z" fill="#c8ce3b" stroke="#c8ce3b" stroke-width="0.6"/>
<path d="M586.1 266.0 L603.8 268.2 L620.6 261.1 L602.8 258.8Z" fill="#d0ce38" stroke="#d0ce38" stroke-width="0.6"/>
<path d="M602.8 258.8 L620.6 261.1 L637.4 253.9 L619.6 251.6Z" fill="#d5cd35" stroke="#d5cd35" stroke-width="0.6"/>
<path d="M619.6 251.6 L637.4 253.9 L654.3 247.0 L636.4 244.7Z" fill="#d8cd35" stroke="#d8cd35" stroke-width="0.6"/>
<path d="M636.4 244.7 L654.3 247.0 L671.5 241.2 L653.7 238.8Z" fill="#dacc35" stroke="#dacc35" stroke-width="0.6"/>
<path d="M653.7 238.8 L671.5 241.2 L689.0 236.2 L671.1 233.6Z" fill="#dccc35" stroke="#dccc35" stroke-width="0.6"/>
<path d="M362.2 393.5 L380.0 395.7 L395.3 385.9 L377.6 383.7Z" fill="#4052eb" stroke="#4052eb" stroke-width="0.6"/>
<path d="M377.6 383.7 L395.3 385.9 L410.6 376.0 L392.9 374.0Z" fill="#3365f1" stroke="#3365f1" stroke-width="0.6"/>
<path d="M392.9 374.0 L410.6 376.0 L425.9 366.1 L408.3 364.3Z" fill="#2578f3" stroke="#2578f3" stroke-width="0.6"/>
<path d="M408.3 364.3 L425.9 366.1 L441.0 356.0 L423.5 354.3Z" fill="#178dea" stroke="#178dea" stroke-width="0.6"/>
<path d="M423.5 354.3 L441.0 356.0 L456.2 345.9 L438.7 344.2Z" fill="#109dda" stroke="#109dda" stroke-width="0.6"/>
<path d="M438.7 344.2 L456.2 345.9 L471.7 336.3 L454.3 334.7Z" fill="#11aac3" stroke="#11aac3" stroke-width="0.6"/>
<path d="M454.3 334.7 L471.7 336.3 L487.6 327.3 L470.1 325.6Z" fill="#16b3ad" stroke="#16b3ad" stroke-width="0.6"/>
<path d="M470.1 325.6 L487.6 327.3 L503.6 318.6 L486.1 316.9Z" fill="#28b89c" stroke="#28b89c" stroke-width="0.6"/>
<path d="M486.1 316.9 L503.6 318.6 L519.9 310.4 L502.3 308.6Z" fill="#3cbd8a" stroke="#3cbd8a" stroke-width="0.6"/>
<path d="M502.3 308.6 L519.9 310.4 L536.4 302.6 L518.8 300.8Z" fill="#50c179" stroke="#50c179" stroke-width="0.6"/>
<path d="M518.8 300.8 L536.4 302.6 L553.2 295.6 L535.6 293.7Z" fill="#74c663" stroke="#74c663" stroke-width="0.6"/>
<path d="M535.6 293.7 L553.2 295.6 L570.3 289.2 L552.6 287.3Z" fill="#91c854" stroke="#91c854" stroke-width="0.6"/>
<path d="M552.6 287.3 L570.3 289.2 L587.5 283.2 L569.8 281.1Z" fill="#a8cb48" stroke="#a8cb48" stroke-width="0.6"/>
<path d="M569.8 281.1 L587.5 283.2 L604.7 277.1 L586.9 274.9Z" fill="#bacd40" stroke="#bacd40" stroke-width="0.6"/>
<path d="M586.9 274.9 L604.7 277.1 L621.6 270.5 L603.8 268.2Z" fill="#c9ce3b" stroke="#c9ce3b" stroke-width="0.6"/>
<path d="M603.8 268.2 L621.6 270.5 L638.4 263.4 L620.6 261.1Z" fill="#d0ce37" stroke="#d0ce37" stroke-width="0.6"/>
<path d="M620.6 261.1 L638.4 263.4 L655.2 256.2 L637.4 253.9Z" fill="#d5cd35" stroke="#d5cd35" stroke-width="0.6"/>
<path d="M637.4 253.9 L655.2 256.2 L672.1 249.3 L654.3 247.0Z" fill="#d8cd35" stroke="#d8cd35" stroke-width="0.6"/>
<path d="M654.3 247.0 L672.1 249.3 L689.4 243.6 L671.5 241.2Z" fill="#dbcc35" stroke="#dbcc35" stroke-width="0.6"/>
<path d="M671.5 241.2 L689.4 243.6 L706.9 238.7 L689.0 236.2Z" fill="#dccc35" stroke="#dccc35" stroke-width="0.6"/>
<path d="M380.0 395.7 L397.8 398.0 L413.0 388.0 L395.3 385.9Z" fill="#4053eb" stroke="#4053eb" stroke-width="0.6"/>
<path d="M395.3 385.9 L413.0 388.0 L428.2 377.9 L410.6 376.0Z" fill="#3366f2" stroke="#3366f2" stroke-width="0.6"/>
<path d="M410.6 376.0 L428.2 377.9 L443.5 367.9 L425.9 366.1Z" fill="#2479f2" stroke="#2479f2" stroke-width="0.6"/>
<path d="M425.9 366.1 L443.5 367.9 L458.5 357.7 L441.0 356.0Z" fill="#168ee9" stroke="#168ee9" stroke-width="0.6"/>
<path d="M441.0 356.0 L458.5 357.7 L473.7 347.5 L456.2 345.9Z" fill="#0f9ed9" stroke="#0f9ed9" stroke-width="0.6"/>
<path d="M456.2 345.9 L473.7 347.5 L489.2 337.9 L471.7 336.3Z" fill="#12abc0" stroke="#12abc0" stroke-width="0.6"/>
<path d="M471.7 336.3 L489.2 337.9 L505.1 329.0 L487.6 327.3Z" fill="#18b4aa" stroke="#18b4aa" stroke-width="0.6"/>
<path d="M487.6 327.3 L505.1 329.0 L521.2 320.4 L503.6 318.6Z" fill="#2bb999" stroke="#2bb999" stroke-width="0.6"/>
<path d="M503.6 318.6 L521.2 320.4 L537.5 312.2 L519.9 310.4Z" fill="#3fbd87" stroke="#3fbd87" stroke-width="0.6"/>
<path d="M519.9 310.4 L537.5 312.2 L554.0 304.5 L536.4 302.6Z" fill="#52c276" stroke="#52c276" stroke-width="0.6"/>
<path d="M536.4 302.6 L554.0 304.5 L570.8 297.4 L553.2 295.6Z" fill="#7ac660" stroke="#7ac660" stroke-width="0.6"/>
<path d="M553.2 295.6 L570.8 297.4 L588.0 291.2 L570.3 289.2Z" fill="#95c952" stroke="#95c952" stroke-width="0.6"/>
<path d="M570.3 289.2 L588.0 291.2 L605.2 285.3 L587.5 283.2Z" fill="#aacb47" stroke="#aacb47" stroke-width="0.6"/>
<path d="M587.5 283.2 L605.2 285.3 L622.4 279.3 L604.7 277.1Z" fill="#bccd3f" stroke="#bccd3f" stroke-width="0.6"/>
<path d="M604.7 277.1 L622.4 279.3 L639.4 272.7 L621.6 270.5Z" fill="#cbce3a" stroke="#cbce3a" stroke-width="0.6"/>
<path d="M621.6 270.5 L639.4 272.7 L656.2 265.6 L638.4 263.4Z" fill="#d1ce37" stroke="#d1ce37" stroke-width="0.6"/>
<path d="M638.4 263.4 L656.2 265.6 L673.0 258.4 L655.2 256.2Z" fill="#d6cd35" stroke="#d6cd35" stroke-width="0.6"/>
<path d="M655.2 256.2 L673.0 258.4 L689.9 251.6 L672.1 249.3Z" fill="#d9cd35" stroke="#d9cd35" stroke-width="0.6"/>
<path d="M672.1 249.3 L689.9 251.6 L707.3 246.0 L689.4 243.6Z" fill="#dbcc35" stroke="#dbcc35" stroke-width="0.6"/>
<path d="M689.4 243.6 L707.3 246.0 L724.9 241.3 L706.9 238.7Z" fill="#dccc35" stroke="#dccc35" stroke-width="0.6"/>
<path d="M397.8 398.0 L415.7 400.3 L430.8 390.1 L413.0 388.0Z" fill="#4053ec" stroke="#4053ec" stroke-width="0.6"/>
<path d="M413.0 388.0 L430.8 390.1 L445.9 379.9 L428.2 377.9Z" fill="#3266f2" stroke="#3266f2" stroke-width="0.6"/>
<path d="M428.2 377.9 L445.9 379.9 L461.0 369.7 L443.5 367.9Z" fill="#247af2" stroke="#247af2" stroke-width="0.6"/>
<path d="M443.5 367.9 L461.0 369.7 L476.0 359.4 L458.5 357.7Z" fill="#168fe8" stroke="#168fe8" stroke-width="0.6"/>
<path d="M458.5 357.7 L476.0 359.4 L491.1 349.2 L473.7 347.5Z" fill="#0f9fd8" stroke="#0f9fd8" stroke-width="0.6"/>
<path d="M473.7 347.5 L491.1 349.2 L506.7 339.6 L489.2 337.9Z" fill="#12acbe" stroke="#12acbe" stroke-width="0.6"/>
<path d="M489.2 337.9 L506.7 339.6 L522.6 330.7 L505.1 329.0Z" fill="#1bb5a7" stroke="#1bb5a7" stroke-width="0.6"/>
<path d="M505.1 329.0 L522.6 330.7 L538.7 322.1 L521.2 320.4Z" fill="#2fb996" stroke="#2fb996" stroke-width="0.6"/>
<path d="M521.2 320.4 L538.7 322.1 L555.0 314.0 L537.5 312.2Z" fill="#42be85" stroke="#42be85" stroke-width="0.6"/>
<path d="M537.5 312.2 L555.0 314.0 L571.6 306.3 L554.0 304.5Z" fill="#55c374" stroke="#55c374" stroke-width="0.6"/>
<path d="M554.0 304.5 L571.6 306.3 L588.5 299.3 L570.8 297.4Z" fill="#7fc75d" stroke="#7fc75d" stroke-width="0.6"/>
<path d="M570.8 297.4 L588.5 299.3 L605.6 293.2 L588.0 291.2Z" fill="#98c950" stroke="#98c950" stroke-width="0.6"/>
<path d="M588.0 291.2 L605.6 293.2 L622.9 287.4 L605.2 285.3Z" fill="#adcc46" stroke="#adcc46" stroke-width="0.6"/>
<path d="M605.2 285.3 L622.9 287.4 L640.2 281.5 L622.4 279.3Z" fill="#becd3f" stroke="#becd3f" stroke-width="0.6"/>
<path d="M622.4 279.3 L640.2 281.5 L657.2 275.0 L639.4 272.7Z" fill="#ccce3a" stroke="#ccce3a" stroke-width="0.6"/>
<path d="M639.4 272.7 L657.2 275.0 L674.1 267.9 L656.2 265.6Z" fill="#d1ce37" stroke="#d1ce37" stroke-width="0.6"/>
<path d="M656.2 265.6 L674.1 267.9 L690.8 260.7 L673.0 258.4Z" fill="#d6cd35" stroke="#d6cd35" stroke-width="0.6"/>
<path d="M673.0 258.4 L690.8 260.7 L707.7 253.9 L689.9 251.6Z" fill="#d9cd35" stroke="#d9cd35" stroke-width="0.6"/>
<path d="M689.9 251.6 L707.7 253.9 L725.1 248.4 L707.3 246.0Z" fill="#dbcc35" stroke="#dbcc35" stroke-width="0.6"/>
<path d="M707.3 246.0 L725.1 248.4 L742.8 243.8 L724.9 241.3Z" fill="#ddcc35" stroke="#ddcc35" stroke-width="0.6"/>
<path d="M415.7 400.3 L433.5 402.6 L448.5 392.2 L430.8 390.1Z" fill="#4054ed" stroke="#4054ed" stroke-width="0.6"/>
<path d="M430.8 390.1 L448.5 392.2 L463.5 381.8 L445.9 379.9Z" fill="#3267f2" stroke="#3267f2" stroke-width="0.6"/>
<path d="M445.9 379.9 L463.5 381.8 L478.6 371.5 L461.0 369.7Z" fill="#237bf2" stroke="#237bf2" stroke-width="0.6"/>
<path d="M461.0 369.7 L478.6 371.5 L493.5 361.1 L476.0 359.4Z" fill="#168fe7" stroke="#168fe7" stroke-width="0.6"/>
<path d="M476.0 359.4 L493.5 361.1 L508.6 350.8 L491.1 349.2Z" fill="#0ea0d7" stroke="#0ea0d7" stroke-width="0.6"/>
<path d="M491.1 349.2 L508.6 350.8 L524.2 341.2 L506.7 339.6Z" fill="#13adbb" stroke="#13adbb" stroke-width="0.6"/>
<path d="M506.7 339.6 L524.2 341.2 L540.1 332.3 L522.6 330.7Z" fill="#1fb6a4" stroke="#1fb6a4" stroke-width="0.6"/>
<path d="M522.6 330.7 L540.1 332.3 L556.3 323.9 L538.7 322.1Z" fill="#32ba93" stroke="#32ba93" stroke-width="0.6"/>
<path d="M538.7 322.1 L556.3 323.9 L572.6 315.8 L555.0 314.0Z" fill="#45bf83" stroke="#45bf83" stroke-width="0.6"/>
<path d="M555.0 314.0 L572.6 315.8 L589.2 308.2 L571.6 306.3Z" fill="#59c371" stroke="#59c371" stroke-width="0.6"/>
<path d="M571.6 306.3 L589.2 308.2 L606.1 301.2 L588.5 299.3Z" fill="#84c75b" stroke="#84c75b" stroke-width="0.6"/>
<path d="M588.5 299.3 L606.1 301.2 L623.3 295.1 L605.6 293.2Z" fill="#9bc94f" stroke="#9bc94f" stroke-width="0.6"/>
<path d="M605.6 293.2 L623.3 295.1 L640.6 289.5 L622.9 287.4Z" fill="#afcc45" stroke="#afcc45" stroke-width="0.6"/>
<path d="M622.9 287.4 L640.6 289.5 L658.0 283.7 L640.2 281.5Z" fill="#c0cd3e" stroke="#c0cd3e" stroke-width="0.6"/>
<path d="M640.2 281.5 L658.0 283.7 L675.0 277.3 L657.2 275.0Z" fill="#cdce39" stroke="#cdce39" stroke-width="0.6"/>
<path d="M657.2 275.0 L675.0 277.3 L691.9 270.2 L674.1 267.9Z" fill="#d2ce37" stroke="#d2ce37" stroke-width="0.6"/>
<path d="M674.1 267.9 L691.9 270.2 L708.6 263.0 L690.8 260.7Z" fill="#d6cd35" stroke="#d6cd35" stroke-width="0.6"/>
<path d="M690.8 260.7 L708.6 263.0 L725.6 256.2 L707.7 253.9Z" fill="#d9cc35" stroke="#d9cc35" stroke-width="0.6"/>
<path d="M707.7 253.9 L725.6 256.2 L743.0 250.8 L725.1 248.4Z" fill="#dbcc35" stroke="#dbcc35" stroke-width="0.6"/>
<path d="M725.1 248.4 L743.0 250.8 L760.7 246.4 L742.8 243.8Z" fill="#ddcc35" stroke="#ddcc35" stroke-width="0.6"/>
<path d="M148.2 366.0 L181.1 350.5 L213.5 333.9 L244.5 315.0 L275.5 295.9 L307.5 278.6 L340.7 263.7 L373.7 248.6 L406.9 233.7 L440.4 219.4 L474.0 205.5 M155.3 366.9 L188.2 351.3 L220.5 334.6 L251.5 315.7 L282.5 296.6 L314.5 279.4 L347.7 264.5 L380.8 249.4 L414.0 234.6 L447.5 220.3 L481.2 206.5 M162.5 367.8 L195.2 352.1 L227.5 335.2 L258.5 316.3 L289.6 297.3 L321.6 280.1 L354.8 265.2 L388.0 250.3 L421.2 235.5 L454.6 221.2 L488.3 207.5 M169.6 368.7 L202.3 352.9 L234.5 335.9 L265.5 317.0 L296.6 298.0 L328.6 280.8 L361.8 266.0 L395.1 251.2 L428.3 236.4 L461.8 222.2 L495.5 208.6 M176.7 369.7 L209.4 353.6 L241.5 336.6 L272.5 317.6 L303.6 298.7 L335.7 281.6 L368.9 266.8 L402.2 252.1 L435.4 237.3 L468.9 223.1 L502.7 209.6 M183.9 370.6 L216.4 354.4 L248.5 337.3 L279.5 318.3 L310.6 299.4 L342.7 282.3 L376.0 267.6 L409.3 253.0 L442.5 238.2 L476.0 224.0 L509.8 210.6 M191.0 371.5 L223.5 355.2 L255.5 338.0 L286.5 318.9 L317.6 300.1 L349.7 283.1 L383.0 268.4 L416.4 253.8 L449.7 239.1 L483.2 224.9 L517.0 211.6 M198.1 372.4 L230.5 356.0 L262.5 338.6 L293.5 319.6 L324.6 300.8 L356.8 283.8 L390.1 269.2 L423.5 254.7 L456.8 240.1 L490.3 225.8 L524.2 212.7 M205.3 373.3 L237.6 356.8 L269.5 339.3 L300.5 320.2 L331.7 301.5 L363.8 284.5 L397.2 270.0 L430.6 255.6 L463.9 241.0 L497.4 226.8 L531.3 213.7 M212.4 374.2 L244.7 357.6 L276.5 340.0 L307.5 320.9 L338.7 302.2 L370.9 285.3 L404.2 270.8 L437.7 256.5 L471.0 241.9 L504.5 227.7 L538.5 214.7 M219.5 375.1 L251.7 358.3 L283.5 340.7 L314.4 321.6 L345.7 302.9 L377.9 286.0 L411.3 271.5 L444.8 257.4 L478.2 242.8 L511.7 228.6 L545.7 215.7 M226.7 376.1 L258.8 359.1 L290.5 341.4 L321.4 322.2 L352.7 303.6 L385.0 286.7 L418.4 272.3 L451.9 258.2 L485.3 243.7 L518.8 229.5 L552.8 216.7 M233.8 377.0 L265.8 359.9 L297.5 342.0 L328.4 322.9 L359.7 304.3 L392.0 287.5 L425.4 273.1 L459.0 259.1 L492.4 244.6 L525.9 230.4 L560.0 217.8 M240.9 377.9 L272.9 360.7 L304.5 342.7 L335.4 323.5 L366.8 305.0 L399.0 288.2 L432.5 273.9 L466.1 260.0 L499.5 245.5 L533.1 231.4 L567.2 218.8 M248.1 378.8 L280.0 361.5 L311.5 343.4 L342.4 324.2 L373.8 305.7 L406.1 289.0 L439.6 274.7 L473.2 260.9 L506.7 246.5 L540.2 232.3 L574.3 219.8 M255.2 379.7 L287.0 362.3 L318.5 344.1 L349.4 324.8 L380.8 306.4 L413.1 289.7 L446.6 275.5 L480.3 261.7 L513.8 247.4 L547.3 233.2 L581.5 220.8 M262.3 380.6 L294.1 363.0 L325.5 344.8 L356.4 325.5 L387.8 307.1 L420.2 290.4 L453.7 276.3 L487.4 262.6 L520.9 248.3 L554.5 234.1 L588.7 221.9 M269.5 381.6 L301.1 363.8 L332.5 345.4 L363.4 326.1 L394.8 307.8 L427.2 291.2 L460.8 277.0 L494.5 263.5 L528.0 249.2 L561.6 235.0 L595.8 222.9 M276.6 382.5 L308.2 364.6 L339.5 346.1 L370.4 326.8 L401.9 308.5 L434.3 291.9 L467.8 277.8 L501.6 264.4 L535.1 250.1 L568.7 236.0 L603.0 223.9 M283.7 383.4 L315.3 365.4 L346.5 346.8 L377.4 327.5 L408.9 309.2 L441.3 292.7 L474.9 278.6 L508.7 265.3 L542.3 251.0 L575.8 236.9 L610.2 224.9 M290.9 384.3 L322.3 366.2 L353.5 347.5 L384.4 328.1 L415.9 309.9 L448.4 293.4 L482.0 279.4 L515.9 266.1 L549.4 251.9 L583.0 237.8 L617.4 225.9 M298.0 385.2 L329.4 367.0 L360.5 348.2 L391.3 328.8 L422.9 310.6 L455.4 294.1 L489.0 280.2 L523.0 267.0 L556.5 252.9 L590.1 238.7 L624.5 227.0 M305.1 386.1 L336.4 367.7 L367.5 348.8 L398.3 329.4 L429.9 311.3 L462.4 294.9 L496.1 281.0 L530.1 267.9 L563.6 253.8 L597.2 239.6 L631.7 228.0 M312.2 387.0 L343.5 368.5 L374.5 349.5 L405.3 330.1 L436.9 312.0 L469.5 295.6 L503.2 281.8 L537.2 268.8 L570.8 254.7 L604.4 240.6 L638.9 229.0 M319.4 388.0 L350.6 369.3 L381.5 350.2 L412.3 330.7 L444.0 312.7 L476.5 296.3 L510.2 282.5 L544.3 269.7 L577.9 255.6 L611.5 241.5 L646.0 230.0 M326.5 388.9 L357.6 370.1 L388.5 350.9 L419.3 331.4 L451.0 313.4 L483.6 297.1 L517.3 283.3 L551.4 270.5 L585.0 256.5 L618.6 242.4 L653.2 231.1 M333.6 389.8 L364.7 370.9 L395.5 351.5 L426.3 332.0 L458.0 314.1 L490.6 297.8 L524.4 284.1 L558.5 271.4 L592.1 257.4 L625.8 243.3 L660.4 232.1 M340.8 390.7 L371.7 371.7 L402.5 352.2 L433.3 332.7 L465.0 314.8 L497.7 298.6 L531.4 284.9 L565.6 272.3 L599.3 258.3 L632.9 244.2 L667.5 233.1 M347.9 391.6 L378.8 372.4 L409.5 352.9 L440.3 333.4 L472.0 315.5 L504.7 299.3 L538.5 285.7 L572.7 273.2 L606.4 259.3 L640.0 245.2 L674.7 234.1 M355.0 392.5 L385.9 373.2 L416.5 353.6 L447.3 334.0 L479.1 316.2 L511.7 300.0 L545.6 286.5 L579.8 274.0 L613.5 260.2 L647.1 246.1 L681.9 235.2 M362.2 393.5 L392.9 374.0 L423.5 354.3 L454.3 334.7 L486.1 316.9 L518.8 300.8 L552.6 287.3 L586.9 274.9 L620.6 261.1 L654.3 247.0 L689.0 236.2 M369.3 394.4 L400.0 374.8 L430.5 354.9 L461.2 335.3 L493.1 317.6 L525.8 301.5 L559.7 288.1 L594.0 275.8 L627.8 262.0 L661.4 247.9 L696.2 237.2 M376.4 395.3 L407.0 375.6 L437.5 355.6 L468.2 336.0 L500.1 318.3 L532.9 302.3 L566.8 288.8 L601.1 276.7 L634.9 262.9 L668.5 248.8 L703.4 238.2 M383.6 396.2 L414.1 376.4 L444.5 356.3 L475.2 336.6 L507.1 319.0 L539.9 303.0 L573.8 289.6 L608.2 277.6 L642.0 263.8 L675.7 249.8 L710.5 239.2 M390.7 397.1 L421.2 377.1 L451.5 357.0 L482.2 337.3 L514.2 319.7 L547.0 303.7 L580.9 290.4 L615.3 278.4 L649.1 264.7 L682.8 250.7 L717.7 240.3 M397.8 398.0 L428.2 377.9 L458.5 357.7 L489.2 337.9 L521.2 320.4 L554.0 304.5 L588.0 291.2 L622.4 279.3 L656.2 265.6 L689.9 251.6 L724.9 241.3 M405.0 398.9 L435.3 378.7 L465.5 358.3 L496.2 338.6 L528.2 321.1 L561.0 305.2 L595.0 292.0 L629.5 280.2 L663.4 266.6 L697.0 252.5 L732.0 242.3 M412.1 399.9 L442.3 379.5 L472.5 359.0 L503.2 339.3 L535.2 321.8 L568.1 306.0 L602.1 292.8 L636.6 281.1 L670.5 267.5 L704.2 253.5 L739.2 243.3 M419.2 400.8 L449.4 380.3 L479.5 359.7 L510.2 339.9 L542.2 322.5 L575.1 306.7 L609.2 293.6 L643.7 282.0 L677.6 268.4 L711.3 254.4 L746.4 244.4 M426.4 401.7 L456.5 381.1 L486.5 360.4 L517.2 340.6 L549.2 323.2 L582.2 307.4 L616.2 294.3 L650.9 282.8 L684.7 269.3 L718.4 255.3 L753.5 245.4 M433.5 402.6 L463.5 381.8 L493.5 361.1 L524.2 341.2 L556.3 323.9 L589.2 308.2 L623.3 295.1 L658.0 283.7 L691.9 270.2 L725.6 256.2 L760.7 246.4 M148.2 366.0 L176.7 369.7 L205.3 373.3 L233.8 377.0 L262.3 380.6 L290.9 384.3 L319.4 388.0 L347.9 391.6 L376.4 395.3 L405.0 398.9 L433.5 402.6 M164.7 358.4 L193.1 361.8 L221.5 365.1 L249.8 368.5 L278.2 371.9 L306.6 375.3 L335.0 378.7 L363.4 382.1 L391.7 385.4 L420.1 388.8 L448.5 392.2 M181.1 350.5 L209.4 353.6 L237.6 356.8 L265.8 359.9 L294.1 363.0 L322.3 366.2 L350.6 369.3 L378.8 372.4 L407.0 375.6 L435.3 378.7 L463.5 381.8 M197.4 342.5 L225.6 345.4 L253.7 348.3 L281.8 351.2 L309.9 354.1 L338.0 357.0 L366.1 359.9 L394.2 362.8 L422.4 365.7 L450.5 368.6 L478.6 371.5 M213.5 333.9 L241.5 336.6 L269.5 339.3 L297.5 342.0 L325.5 344.8 L353.5 347.5 L381.5 350.2 L409.5 352.9 L437.5 355.6 L465.5 358.3 L493.5 361.1 M229.0 324.5 L257.0 327.1 L284.9 329.7 L312.9 332.4 L340.9 335.0 L368.8 337.6 L396.8 340.3 L424.7 342.9 L452.7 345.5 L480.7 348.2 L508.6 350.8 M244.5 315.0 L272.5 317.6 L300.5 320.2 L328.4 322.9 L356.4 325.5 L384.4 328.1 L412.3 330.7 L440.3 333.4 L468.2 336.0 L496.2 338.6 L524.2 341.2 M260.0 305.4 L288.0 308.1 L316.0 310.8 L344.0 313.5 L372.0 316.2 L400.1 318.9 L428.1 321.6 L456.1 324.3 L484.1 327.0 L512.1 329.7 L540.1 332.3 M275.5 295.9 L303.6 298.7 L331.7 301.5 L359.7 304.3 L387.8 307.1 L415.9 309.9 L444.0 312.7 L472.0 315.5 L500.1 318.3 L528.2 321.1 L556.3 323.9 M291.3 286.9 L319.4 289.7 L347.5 292.6 L375.7 295.5 L403.8 298.4 L432.0 301.3 L460.1 304.2 L488.2 307.1 L516.4 310.0 L544.5 312.9 L572.6 315.8 M307.5 278.6 L335.7 281.6 L363.8 284.5 L392.0 287.5 L420.2 290.4 L448.4 293.4 L476.5 296.3 L504.7 299.3 L532.9 302.3 L561.0 305.2 L589.2 308.2 M324.0 271.1 L352.2 274.1 L380.4 277.1 L408.6 280.1 L436.9 283.1 L465.1 286.1 L493.3 289.2 L521.5 292.2 L549.7 295.2 L577.9 298.2 L606.1 301.2 M340.7 263.7 L368.9 266.8 L397.2 270.0 L425.4 273.1 L453.7 276.3 L482.0 279.4 L510.2 282.5 L538.5 285.7 L566.8 288.8 L595.0 292.0 L623.3 295.1 M357.2 256.1 L385.5 259.5 L413.9 262.8 L442.2 266.1 L470.6 269.5 L498.9 272.8 L527.3 276.1 L555.6 279.5 L584.0 282.8 L612.3 286.1 L640.6 289.5 M373.7 248.6 L402.2 252.1 L430.6 255.6 L459.0 259.1 L487.4 262.6 L515.9 266.1 L544.3 269.7 L572.7 273.2 L601.1 276.7 L629.5 280.2 L658.0 283.7 M390.3 241.1 L418.8 244.7 L447.3 248.3 L475.7 251.9 L504.2 255.5 L532.7 259.2 L561.1 262.8 L589.6 266.4 L618.1 270.0 L646.6 273.6 L675.0 277.3 M406.9 233.7 L435.4 237.3 L463.9 241.0 L492.4 244.6 L520.9 248.3 L549.4 251.9 L577.9 255.6 L606.4 259.3 L634.9 262.9 L663.4 266.6 L691.9 270.2 M423.6 226.4 L452.1 230.1 L480.6 233.7 L509.1 237.4 L537.6 241.1 L566.1 244.7 L594.6 248.4 L623.1 252.0 L651.6 255.7 L680.1 259.4 L708.6 263.0 M440.4 219.4 L468.9 223.1 L497.4 226.8 L525.9 230.4 L554.5 234.1 L583.0 237.8 L611.5 241.5 L640.0 245.2 L668.5 248.8 L697.0 252.5 L725.6 256.2 M457.2 212.5 L485.8 216.3 L514.4 220.1 L542.9 224.0 L571.5 227.8 L600.1 231.6 L628.7 235.5 L657.3 239.3 L685.8 243.1 L714.4 247.0 L743.0 250.8 M474.0 205.5 L502.7 209.6 L531.3 213.7 L560.0 217.8 L588.7 221.9 L617.4 225.9 L646.0 230.0 L674.7 234.1 L703.4 238.2 L732.0 242.3 L760.7 246.4" fill="none" stroke="#000" stroke-width="1.05" stroke-opacity="0.85"/>
<path d="M316.0 389.0 L345.0 382.0 L400.0 371.0 L440.0 360.0 L480.0 352.0 L527.0 338.0 L525.4 340.5 L472.7 375.6 L433.5 402.6Z" fill="#ff0000" fill-opacity="0.22" />
<path d="M137.4 395.3 L137.4 100.6 M137.4 395.3 L425.1 442.9 M425.1 442.9 L883.1 412.8 M137.4 395.3 L126.1 393.4 M137.4 264.3 L126.1 262.4 M137.4 133.3 L126.1 131.4 M151.1 397.6 L139.6 398.3 M288.1 420.2 L276.6 421.0 M425.1 442.9 L413.6 443.7 M425.1 442.9 L436.4 444.8 M552.3 434.5 L563.7 436.4 M679.5 426.2 L690.9 428.1 M806.8 417.8 L818.1 419.7" stroke="#262626" stroke-width="1.2" fill="none"/>
<text x="57.2" y="138.0" font-family="Liberation Serif" font-weight="normal" font-size="33.68" textLength="58.5" lengthAdjust="spacingAndGlyphs" fill="#262626" >0.02</text>
<text x="98.6" y="269.0" font-family="Liberation Serif" font-weight="normal" font-size="33.38" textLength="16.7" lengthAdjust="spacingAndGlyphs" fill="#262626" >0</text>
<text x="45.8" y="399.2" font-family="Liberation Serif" font-weight="normal" font-size="32.18" textLength="68.9" lengthAdjust="spacingAndGlyphs" fill="#262626" >-0.02</text>
<text x="70.3" y="426.8" font-family="Liberation Serif" font-weight="normal" font-size="33.38" textLength="57.7" lengthAdjust="spacingAndGlyphs" fill="#262626" >0.05</text>
<text x="207.7" y="449.8" font-family="Liberation Serif" font-weight="normal" font-size="32.78" textLength="57.2" lengthAdjust="spacingAndGlyphs" fill="#262626" >0.15</text>
<text x="343.6" y="472.5" font-family="Liberation Serif" font-weight="normal" font-size="33.83" textLength="60.3" lengthAdjust="spacingAndGlyphs" fill="#262626" >0.25</text>
<text x="445.8" y="475.0" font-family="Liberation Serif" font-weight="normal" font-size="33.08" textLength="20.8" lengthAdjust="spacingAndGlyphs" fill="#262626" >0</text>
<text x="573.3" y="470.0" font-family="Liberation Serif" font-weight="normal" font-size="33.83" textLength="70.0" lengthAdjust="spacingAndGlyphs" fill="#262626" >-0.05</text>
<text x="699.7" y="460.0" font-family="Liberation Serif" font-weight="normal" font-size="33.83" textLength="56.8" lengthAdjust="spacingAndGlyphs" fill="#262626" >-0.1</text>
<text x="828.3" y="447.5" font-family="Liberation Serif" font-weight="normal" font-size="33.83" textLength="70.0" lengthAdjust="spacingAndGlyphs" fill="#262626" >-0.15</text>
<text transform="translate(26.5,381.0) rotate(-90)" x="-1.1" y="0" font-family="Liberation Serif" font-weight="normal" font-size="36.79" textLength="267.0" lengthAdjust="spacingAndGlyphs" fill="#262626">Displacement [m]</text>
<rect x="139" y="101.1" width="40" height="39.7" rx="1.5" fill="#fff" stroke="#000" stroke-width="3.6"/>
<text x="146.0" y="132.7" font-family="Liberation Sans" font-weight="bold" font-size="36.52" textLength="25.9" lengthAdjust="spacingAndGlyphs" fill="#000" >A</text>
<path d="M538.8 267.8 L684.8 362.3" fill="none" stroke="#1a1a1a" stroke-width="2" stroke-opacity="1.0" />
<rect x="685.5" y="343.9" width="187.4" height="39.6" fill="#ebebeb" stroke="#222" stroke-width="1.5"/>
<text x="711.7" y="372.0" font-family="Liberation Serif" font-weight="bold" font-size="29.64" textLength="128.8" lengthAdjust="spacingAndGlyphs" fill="#111" stroke="#ebebeb" stroke-width="0.4">caving in</text>
<rect x="687" y="72.2" width="202.3" height="79.5" fill="none" stroke="#111" stroke-width="2.2" stroke-dasharray="5,3"/>
<path d="M700.4 148.0 L702.6 146.5 L704.7 145.0 L706.8 143.4 L708.9 141.9 L710.9 140.4 L713.0 138.8 L715.0 137.2 L717.0 135.7 L719.1 134.1 L721.1 132.6 L723.2 131.1 L725.3 129.5 L727.5 128.0 L729.7 126.5 L732.0 125.1 L734.3 123.6 L736.7 122.2 L739.2 120.7 L741.7 119.4 L744.4 118.0 L747.2 116.7 L750.0 115.3 L752.9 114.0 L755.9 112.8 L759.0 111.5 L762.1 110.2 L765.3 109.0 L768.5 107.8 L771.8 106.6 L775.1 105.4 L778.4 104.2 L781.8 103.0 L785.1 101.9 L788.5 100.8 L791.9 99.6 L795.3 98.5 L798.7 97.5 L802.1 96.4 L805.5 95.3 L808.8 94.3 L812.1 93.3 L815.5 92.3 L818.9 91.3 L822.3 90.4 L825.7 89.5 L829.1 88.6 L832.5 87.7 L835.9 86.8 L839.4 86.0 L842.8 85.1 L846.3 84.3 L849.8 83.4 L853.2 82.6 L856.7 81.8 L860.2 81.0 L863.6 80.1 L867.1 79.3 L870.5 78.4 L874.0 77.6 L877.4 76.7" fill="none" stroke="#ff2020" stroke-width="1.1" stroke-opacity="1" stroke-dasharray="3,2"/>
<path d="M700.4 148.0 L702.6 147.2 L704.7 146.5 L706.9 145.7 L709.0 144.9 L711.1 144.2 L713.2 143.4 L715.3 142.6 L717.4 141.8 L719.5 141.1 L721.7 140.3 L723.8 139.5 L726.0 138.8 L728.1 138.0 L730.3 137.3 L732.6 136.5 L734.8 135.8 L737.2 135.1 L739.5 134.4 L741.9 133.7 L744.4 133.0 L746.9 132.3 L749.4 131.7 L751.9 131.0 L754.5 130.4 L757.0 129.8 L759.6 129.1 L762.2 128.5 L764.8 127.9 L767.5 127.3 L770.2 126.7 L773.0 126.1 L775.8 125.5 L778.6 125.0 L781.5 124.4 L784.5 123.9 L787.5 123.3 L790.6 122.8 L793.7 122.2 L796.9 121.7 L800.2 121.2 L803.6 120.7 L807.1 120.2 L810.6 119.7 L814.3 119.3 L818.0 118.8 L821.8 118.4 L825.6 118.0 L829.5 117.5 L833.5 117.1 L837.5 116.7 L841.5 116.3 L845.5 115.9 L849.5 115.5 L853.6 115.1 L857.6 114.7 L861.6 114.3 L865.6 113.9 L869.6 113.4 L873.5 113.0 L877.4 112.6" fill="none" stroke="#ff2020" stroke-width="1.1" stroke-opacity="1" stroke-dasharray="3,2"/>
<path d="M698.2 137.3 L700.5 136.0 L702.8 134.7 L705.1 133.4 L707.3 132.0 L709.6 130.7 L711.8 129.3 L714.1 128.0 L716.3 126.6 L718.6 125.3 L720.8 123.9 L723.1 122.6 L725.4 121.3 L727.7 120.0 L730.0 118.7 L732.3 117.4 L734.7 116.2 L737.1 115.0 L739.5 113.8 L741.9 112.6 L744.4 111.5 L746.9 110.4 L749.3 109.4 L751.8 108.3 L754.2 107.4 L756.7 106.4 L759.1 105.4 L761.6 104.5 L764.1 103.6 L766.6 102.7 L769.1 101.9 L771.7 101.0 L774.3 100.1 L777.0 99.3 L779.8 98.4 L782.6 97.6 L785.5 96.8 L788.5 95.9 L791.6 95.0 L794.7 94.2 L798.0 93.3 L801.4 92.4 L804.9 91.5 L808.5 90.7 L812.2 89.8 L816.0 88.9 L819.9 88.1 L823.9 87.2 L827.9 86.3 L832.0 85.5 L836.1 84.6 L840.2 83.8 L844.4 82.9 L848.6 82.1 L852.8 81.2 L856.9 80.4 L861.1 79.5 L865.2 78.7 L869.3 77.8 L873.4 77.0 L877.4 76.1" fill="none" stroke="#000" stroke-width="2.6" stroke-opacity="1" stroke-linecap="round" stroke-linejoin="round"/>
<path d="M698.2 137.3 L700.5 136.7 L702.8 136.1 L705.2 135.5 L707.5 134.9 L709.8 134.2 L712.2 133.6 L714.5 133.0 L716.8 132.3 L719.2 131.7 L721.5 131.1 L723.8 130.4 L726.2 129.8 L728.5 129.2 L730.8 128.7 L733.1 128.1 L735.4 127.5 L737.6 127.0 L739.9 126.5 L742.2 126.0 L744.4 125.5 L746.6 125.1 L748.8 124.6 L751.0 124.2 L753.2 123.8 L755.4 123.4 L757.5 123.0 L759.7 122.7 L761.9 122.3 L764.0 122.0 L766.1 121.6 L768.3 121.3 L770.4 121.0 L772.5 120.7 L774.6 120.5 L776.7 120.2 L778.8 119.9 L781.0 119.7 L783.1 119.4 L785.2 119.2 L787.3 119.0 L789.4 118.8 L791.5 118.6 L793.6 118.4 L795.7 118.3 L797.8 118.2 L799.9 118.0 L802.0 117.9 L804.1 117.8 L806.2 117.8 L808.3 117.7 L810.4 117.6 L812.4 117.5 L814.5 117.5 L816.6 117.4 L818.7 117.3 L820.8 117.2 L822.8 117.2 L824.9 117.1 L827.0 117.0 L829.1 116.9" fill="none" stroke="#000" stroke-width="2.4" stroke-opacity="1" stroke-linecap="round" stroke-linejoin="round"/>
<path d="M800.2 147 L800.2 130" stroke="#ee0000" stroke-width="2.6"/><path d="M794.8 131.5 L800.2 122.2 L805.6 131.5 Z" fill="#ee0000"/>
<text x="730.5" y="180.2" font-family="Liberation Serif" font-weight="bold" font-size="26.33" textLength="129.5" lengthAdjust="spacingAndGlyphs" fill="#111" stroke="#ffffff" stroke-width="0.4">side view</text>
<defs><linearGradient id="cbA" x1="0" y1="0" x2="0" y2="1"><stop offset="0.000" stop-color="#f9fb0e"/><stop offset="0.025" stop-color="#faee19"/><stop offset="0.050" stop-color="#fbe123"/><stop offset="0.075" stop-color="#fcd42e"/><stop offset="0.100" stop-color="#fccc34"/><stop offset="0.125" stop-color="#fbc638"/><stop offset="0.150" stop-color="#f9bf3c"/><stop offset="0.175" stop-color="#f7ba3f"/><stop offset="0.200" stop-color="#edb939"/><stop offset="0.225" stop-color="#e2b834"/><stop offset="0.250" stop-color="#d4b932"/><stop offset="0.275" stop-color="#c5bb31"/><stop offset="0.300" stop-color="#afbe3b"/><stop offset="0.325" stop-color="#98c247"/><stop offset="0.350" stop-color="#82c356"/><stop offset="0.375" stop-color="#6dc364"/><stop offset="0.400" stop-color="#57c373"/><stop offset="0.425" stop-color="#47bf81"/><stop offset="0.450" stop-color="#37bb8f"/><stop offset="0.475" stop-color="#27b89d"/><stop offset="0.500" stop-color="#17b4ab"/><stop offset="0.525" stop-color="#14afb8"/><stop offset="0.550" stop-color="#11a9c4"/><stop offset="0.575" stop-color="#0da4d1"/><stop offset="0.600" stop-color="#0f9dd9"/><stop offset="0.625" stop-color="#1296e1"/><stop offset="0.650" stop-color="#168fe8"/><stop offset="0.675" stop-color="#1b87ed"/><stop offset="0.700" stop-color="#217ef0"/><stop offset="0.725" stop-color="#2875f4"/><stop offset="0.750" stop-color="#2d6df3"/><stop offset="0.775" stop-color="#3365f1"/><stop offset="0.800" stop-color="#395def"/><stop offset="0.825" stop-color="#3f56ee"/><stop offset="0.850" stop-color="#404ee7"/><stop offset="0.875" stop-color="#4146de"/><stop offset="0.900" stop-color="#423ed6"/><stop offset="0.925" stop-color="#4336ce"/><stop offset="0.950" stop-color="#4130c2"/><stop offset="0.975" stop-color="#402bb5"/><stop offset="1.000" stop-color="#3e26a8"/></linearGradient></defs><rect x="900.5" y="69.7" width="28.0" height="374.2" fill="url(#cbA)" stroke="#262626" stroke-width="1.2"/>
<path d="M924 96.7 L928.5 96.7 M924 178.8 L928.5 178.8 M924 261.2 L928.5 261.2 M924 343.3 L928.5 343.3 M924 424.6 L928.5 424.6" stroke="#262626" stroke-width="1.2"/>
<text x="939.2" y="104.8" font-family="Liberation Serif" font-weight="normal" font-size="32.52" textLength="15.0" lengthAdjust="spacingAndGlyphs" fill="#262626" >5</text>
<text x="938.1" y="189.5" font-family="Liberation Serif" font-weight="normal" font-size="32.33" textLength="17.3" lengthAdjust="spacingAndGlyphs" fill="#262626" >0</text>
<text x="937.8" y="272.0" font-family="Liberation Serif" font-weight="normal" font-size="32.82" textLength="29.3" lengthAdjust="spacingAndGlyphs" fill="#262626" >-5</text>
<text x="937.9" y="354.0" font-family="Liberation Serif" font-weight="normal" font-size="32.33" textLength="42.3" lengthAdjust="spacingAndGlyphs" fill="#262626" >-10</text>
<text x="937.9" y="435.5" font-family="Liberation Serif" font-weight="normal" font-size="32.58" textLength="42.3" lengthAdjust="spacingAndGlyphs" fill="#262626" >-15</text>
<text x="929.4" y="478.0" font-family="Liberation Serif" font-weight="normal" font-size="31.58" textLength="57.6" lengthAdjust="spacingAndGlyphs" fill="#262626" >×10</text>
<text x="985.0" y="467.0" font-family="Liberation Serif" font-weight="normal" font-size="22.27" textLength="31.1" lengthAdjust="spacingAndGlyphs" fill="#262626" >−3</text>
<text transform="translate(1017.2,448.6) rotate(-90)" x="-1.4" y="0" font-family="Liberation Serif" font-weight="normal" font-size="34.24" textLength="385.1" lengthAdjust="spacingAndGlyphs" fill="#262626">Out-of-plane Deflection [m]</text>
<rect x="240" y="1" width="541" height="49.7" fill="#fff" stroke="#262626" stroke-width="1.5"/>
<rect x="246.6" y="9.3" width="67.8" height="32.7" fill="#fdc9c9"/>
<rect x="406.5" y="9.8" width="69.5" height="32.2" fill="#3fc78a" stroke="#1a3a2a" stroke-width="1.3"/>
<text x="319.6" y="35.1" font-family="Liberation Serif" font-weight="normal" font-size="39.85" textLength="73.4" lengthAdjust="spacingAndGlyphs" fill="#000" >Sim.</text>
<text x="480.7" y="34.3" font-family="Liberation Serif" font-weight="normal" font-size="35.83" textLength="292.4" lengthAdjust="spacingAndGlyphs" fill="#000" >DIC, BendDw 25°</text>
<path d="M144.8 862.5 L144.8 603.7 M220.1 905.6 L220.1 646.8 M295.4 948.6 L295.4 689.8 M137.3 850.7 L295.4 941.1 M137.3 778.9 L295.4 869.3 M137.3 707.1 L295.4 797.5 M137.3 635.3 L295.4 725.7 M295.4 948.6 L295.4 689.8 M459.2 942.0 L459.2 683.2 M623.0 935.3 L623.0 676.6 M786.7 928.7 L786.7 669.9 M295.4 941.1 L885.0 917.2 M295.4 869.3 L885.0 845.4 M295.4 797.5 L885.0 773.6 M295.4 725.7 L885.0 701.8 M144.8 603.7 L734.4 579.8 M220.1 646.8 L809.7 622.9 M295.4 689.8 L885.0 665.9 M137.3 599.4 L295.4 689.8 M301.1 592.8 L459.2 683.2 M464.9 586.2 L623.0 676.6 M628.6 579.5 L786.7 669.9" stroke="#dcdcdc" stroke-width="1" fill="none"/>
<path d="M138.3 747.2 L510.8 581.2 L518.5 587.5 L146.0 754.5Z" fill="#ff0000" fill-opacity="0.2" />
<path d="M144.6 753.0 L183.0 774.7 L276.1 733.5 L237.7 711.7Z" fill="#f6e383" stroke="#f6e383" stroke-width="0.6"/>
<path d="M237.7 711.7 L276.1 733.5 L369.2 692.2 L330.8 670.5Z" fill="#f6e383" stroke="#f6e383" stroke-width="0.6"/>
<path d="M330.8 670.5 L369.2 692.2 L462.3 650.9 L423.8 629.2Z" fill="#f6e383" stroke="#f6e383" stroke-width="0.6"/>
<path d="M423.8 629.2 L462.3 650.9 L555.3 609.6 L516.9 587.9Z" fill="#f6e383" stroke="#f6e383" stroke-width="0.6"/>
<path d="M183.0 774.7 L221.4 796.5 L314.5 755.2 L276.1 733.5Z" fill="#f6e383" stroke="#f6e383" stroke-width="0.6"/>
<path d="M276.1 733.5 L314.5 755.2 L407.6 713.9 L369.2 692.2Z" fill="#f6e383" stroke="#f6e383" stroke-width="0.6"/>
<path d="M369.2 692.2 L407.6 713.9 L500.7 672.6 L462.3 650.9Z" fill="#f6e383" stroke="#f6e383" stroke-width="0.6"/>
<path d="M462.3 650.9 L500.7 672.6 L593.8 631.3 L555.3 609.6Z" fill="#f6e383" stroke="#f6e383" stroke-width="0.6"/>
<path d="M221.4 796.5 L259.9 818.2 L352.9 776.9 L314.5 755.2Z" fill="#f6e383" stroke="#f6e383" stroke-width="0.6"/>
<path d="M314.5 755.2 L352.9 776.9 L446.0 735.6 L407.6 713.9Z" fill="#f6e383" stroke="#f6e383" stroke-width="0.6"/>
<path d="M407.6 713.9 L446.0 735.6 L539.1 694.3 L500.7 672.6Z" fill="#f6e383" stroke="#f6e383" stroke-width="0.6"/>
<path d="M500.7 672.6 L539.1 694.3 L632.2 653.1 L593.8 631.3Z" fill="#f6e383" stroke="#f6e383" stroke-width="0.6"/>
<path d="M259.9 818.2 L298.3 839.9 L391.4 798.6 L352.9 776.9Z" fill="#f6e383" stroke="#f6e383" stroke-width="0.6"/>
<path d="M352.9 776.9 L391.4 798.6 L484.5 757.3 L446.0 735.6Z" fill="#f6e383" stroke="#f6e383" stroke-width="0.6"/>
<path d="M446.0 735.6 L484.5 757.3 L577.5 716.1 L539.1 694.3Z" fill="#f6e383" stroke="#f6e383" stroke-width="0.6"/>
<path d="M539.1 694.3 L577.5 716.1 L670.6 674.8 L632.2 653.1Z" fill="#f6e383" stroke="#f6e383" stroke-width="0.6"/>
<path d="M144.6 753.0 L175.6 739.2 L206.6 725.5 L237.7 711.7 L268.7 698.0 L299.7 684.2 L330.8 670.5 L361.8 656.7 L392.8 642.9 L423.8 629.2 L454.8 615.4 L485.9 601.7 L516.9 587.9 M148.4 755.2 L179.5 741.4 L210.5 727.7 L241.5 713.9 L272.5 700.1 L303.6 686.4 L334.6 672.6 L365.6 658.9 L396.6 645.1 L427.7 631.3 L458.7 617.6 L489.7 603.8 L520.7 590.1 M152.3 757.3 L183.3 743.6 L214.3 729.8 L245.4 716.1 L276.4 702.3 L307.4 688.6 L338.4 674.8 L369.5 661.0 L400.5 647.3 L431.5 633.5 L462.5 619.8 L493.6 606.0 L524.6 592.2 M156.1 759.5 L187.2 745.8 L218.2 732.0 L249.2 718.2 L280.2 704.5 L311.3 690.7 L342.3 677.0 L373.3 663.2 L404.3 649.5 L435.4 635.7 L466.4 621.9 L497.4 608.2 L528.4 594.4 M160.0 761.7 L191.0 747.9 L222.0 734.2 L253.0 720.4 L284.1 706.7 L315.1 692.9 L346.1 679.1 L377.1 665.4 L408.2 651.6 L439.2 637.9 L470.2 624.1 L501.2 610.3 L532.3 596.6 M163.8 763.9 L194.8 750.1 L225.9 736.3 L256.9 722.6 L287.9 708.8 L318.9 695.1 L350.0 681.3 L381.0 667.6 L412.0 653.8 L443.0 640.0 L474.1 626.3 L505.1 612.5 L536.1 598.8 M167.7 766.0 L198.7 752.3 L229.7 738.5 L260.7 724.8 L291.8 711.0 L322.8 697.2 L353.8 683.5 L384.8 669.7 L415.9 656.0 L446.9 642.2 L477.9 628.5 L508.9 614.7 L540.0 600.9 M171.5 768.2 L202.5 754.4 L233.5 740.7 L264.6 726.9 L295.6 713.2 L326.6 699.4 L357.6 685.7 L388.7 671.9 L419.7 658.1 L450.7 644.4 L481.7 630.6 L512.8 616.9 L543.8 603.1 M175.3 770.4 L206.4 756.6 L237.4 742.9 L268.4 729.1 L299.4 715.3 L330.5 701.6 L361.5 687.8 L392.5 674.1 L423.5 660.3 L454.6 646.6 L485.6 632.8 L516.6 619.0 L547.6 605.3 M179.2 772.6 L210.2 758.8 L241.2 745.0 L272.3 731.3 L303.3 717.5 L334.3 703.8 L365.3 690.0 L396.4 676.2 L427.4 662.5 L458.4 648.7 L489.4 635.0 L520.5 621.2 L551.5 607.5 M183.0 774.7 L214.1 761.0 L245.1 747.2 L276.1 733.5 L307.1 719.7 L338.1 705.9 L369.2 692.2 L400.2 678.4 L431.2 664.7 L462.3 650.9 L493.3 637.1 L524.3 623.4 L555.3 609.6 M186.9 776.9 L217.9 763.1 L248.9 749.4 L279.9 735.6 L311.0 721.9 L342.0 708.1 L373.0 694.3 L404.0 680.6 L435.1 666.8 L466.1 653.1 L497.1 639.3 L528.1 625.6 L559.2 611.8 M190.7 779.1 L221.7 765.3 L252.8 751.6 L283.8 737.8 L314.8 724.0 L345.8 710.3 L376.9 696.5 L407.9 682.8 L438.9 669.0 L469.9 655.2 L501.0 641.5 L532.0 627.7 L563.0 614.0 M194.6 781.2 L225.6 767.5 L256.6 753.7 L287.6 740.0 L318.7 726.2 L349.7 712.5 L380.7 698.7 L411.7 684.9 L442.8 671.2 L473.8 657.4 L504.8 643.7 L535.8 629.9 L566.9 616.1 M198.4 783.4 L229.4 769.7 L260.4 755.9 L291.5 742.1 L322.5 728.4 L353.5 714.6 L384.5 700.9 L415.6 687.1 L446.6 673.3 L477.6 659.6 L508.6 645.8 L539.7 632.1 L570.7 618.3 M202.2 785.6 L233.3 771.8 L264.3 758.1 L295.3 744.3 L326.3 730.6 L357.4 716.8 L388.4 703.0 L419.4 689.3 L450.4 675.5 L481.5 661.8 L512.5 648.0 L543.5 634.2 L574.5 620.5 M206.1 787.8 L237.1 774.0 L268.1 760.2 L299.2 746.5 L330.2 732.7 L361.2 719.0 L392.2 705.2 L423.3 691.5 L454.3 677.7 L485.3 663.9 L516.3 650.2 L547.4 636.4 L578.4 622.7 M209.9 789.9 L240.9 776.2 L272.0 762.4 L303.0 748.7 L334.0 734.9 L365.0 721.1 L396.1 707.4 L427.1 693.6 L458.1 679.9 L489.1 666.1 L520.2 652.3 L551.2 638.6 L582.2 624.8 M213.8 792.1 L244.8 778.3 L275.8 764.6 L306.8 750.8 L337.9 737.1 L368.9 723.3 L399.9 709.6 L430.9 695.8 L462.0 682.0 L493.0 668.3 L524.0 654.5 L555.0 640.8 L586.1 627.0 M217.6 794.3 L248.6 780.5 L279.7 766.8 L310.7 753.0 L341.7 739.2 L372.7 725.5 L403.8 711.7 L434.8 698.0 L465.8 684.2 L496.8 670.5 L527.9 656.7 L558.9 642.9 L589.9 629.2 M221.4 796.5 L252.5 782.7 L283.5 768.9 L314.5 755.2 L345.5 741.4 L376.6 727.7 L407.6 713.9 L438.6 700.1 L469.6 686.4 L500.7 672.6 L531.7 658.9 L562.7 645.1 L593.8 631.3 M225.3 798.6 L256.3 784.9 L287.3 771.1 L318.4 757.3 L349.4 743.6 L380.4 729.8 L411.4 716.1 L442.5 702.3 L473.5 688.6 L504.5 674.8 L535.5 661.0 L566.6 647.3 L597.6 633.5 M229.1 800.8 L260.2 787.0 L291.2 773.3 L322.2 759.5 L353.2 745.8 L384.3 732.0 L415.3 718.2 L446.3 704.5 L477.3 690.7 L508.4 677.0 L539.4 663.2 L570.4 649.5 L601.4 635.7 M233.0 803.0 L264.0 789.2 L295.0 775.5 L326.1 761.7 L357.1 747.9 L388.1 734.2 L419.1 720.4 L450.2 706.7 L481.2 692.9 L512.2 679.1 L543.2 665.4 L574.3 651.6 L605.3 637.9 M236.8 805.1 L267.8 791.4 L298.9 777.6 L329.9 763.9 L360.9 750.1 L391.9 736.3 L423.0 722.6 L454.0 708.8 L485.0 695.1 L516.0 681.3 L547.1 667.6 L578.1 653.8 L609.1 640.0 M240.7 807.3 L271.7 793.6 L302.7 779.8 L333.7 766.0 L364.8 752.3 L395.8 738.5 L426.8 724.8 L457.8 711.0 L488.9 697.2 L519.9 683.5 L550.9 669.7 L581.9 656.0 L613.0 642.2 M244.5 809.5 L275.5 795.7 L306.6 782.0 L337.6 768.2 L368.6 754.5 L399.6 740.7 L430.7 726.9 L461.7 713.2 L492.7 699.4 L523.7 685.7 L554.8 671.9 L585.8 658.1 L616.8 644.4 M248.3 811.7 L279.4 797.9 L310.4 784.1 L341.4 770.4 L372.4 756.6 L403.5 742.9 L434.5 729.1 L465.5 715.3 L496.5 701.6 L527.6 687.8 L558.6 674.1 L589.6 660.3 L620.6 646.6 M252.2 813.8 L283.2 800.1 L314.2 786.3 L345.3 772.6 L376.3 758.8 L407.3 745.0 L438.3 731.3 L469.4 717.5 L500.4 703.8 L531.4 690.0 L562.4 676.2 L593.5 662.5 L624.5 648.7 M256.0 816.0 L287.1 802.2 L318.1 788.5 L349.1 774.7 L380.1 761.0 L411.2 747.2 L442.2 733.5 L473.2 719.7 L504.2 705.9 L535.3 692.2 L566.3 678.4 L597.3 664.7 L628.3 650.9 M259.9 818.2 L290.9 804.4 L321.9 790.7 L352.9 776.9 L384.0 763.1 L415.0 749.4 L446.0 735.6 L477.1 721.9 L508.1 708.1 L539.1 694.3 L570.1 680.6 L601.1 666.8 L632.2 653.1 M263.7 820.3 L294.7 806.6 L325.8 792.8 L356.8 779.1 L387.8 765.3 L418.8 751.6 L449.9 737.8 L480.9 724.0 L511.9 710.3 L542.9 696.5 L574.0 682.8 L605.0 669.0 L636.0 655.2 M267.6 822.5 L298.6 808.8 L329.6 795.0 L360.6 781.2 L391.7 767.5 L422.7 753.7 L453.7 740.0 L484.7 726.2 L515.8 712.5 L546.8 698.7 L577.8 684.9 L608.8 671.2 L639.9 657.4 M271.4 824.7 L302.4 810.9 L333.5 797.2 L364.5 783.4 L395.5 769.7 L426.5 755.9 L457.6 742.1 L488.6 728.4 L519.6 714.6 L550.6 700.9 L581.7 687.1 L612.7 673.4 L643.7 659.6 M275.2 826.9 L306.3 813.1 L337.3 799.3 L368.3 785.6 L399.3 771.8 L430.4 758.1 L461.4 744.3 L492.4 730.6 L523.4 716.8 L554.5 703.0 L585.5 689.3 L616.5 675.5 L647.5 661.8 M279.1 829.0 L310.1 815.3 L341.1 801.5 L372.2 787.8 L403.2 774.0 L434.2 760.2 L465.2 746.5 L496.3 732.7 L527.3 719.0 L558.3 705.2 L589.3 691.5 L620.4 677.7 L651.4 663.9 M282.9 831.2 L314.0 817.5 L345.0 803.7 L376.0 789.9 L407.0 776.2 L438.1 762.4 L469.1 748.7 L500.1 734.9 L531.1 721.1 L562.2 707.4 L593.2 693.6 L624.2 679.9 L655.2 666.1 M286.8 833.4 L317.8 819.6 L348.8 805.9 L379.8 792.1 L410.9 778.3 L441.9 764.6 L472.9 750.8 L503.9 737.1 L535.0 723.3 L566.0 709.6 L597.0 695.8 L628.0 682.0 L659.1 668.3 M290.6 835.6 L321.6 821.8 L352.7 808.0 L383.7 794.3 L414.7 780.5 L445.7 766.8 L476.8 753.0 L507.8 739.2 L538.8 725.5 L569.8 711.7 L600.9 698.0 L631.9 684.2 L662.9 670.5 M294.5 837.7 L325.5 824.0 L356.5 810.2 L387.5 796.5 L418.6 782.7 L449.6 768.9 L480.6 755.2 L511.6 741.4 L542.7 727.7 L573.7 713.9 L604.7 700.1 L635.7 686.4 L666.8 672.6 M298.3 839.9 L329.3 826.1 L360.4 812.4 L391.4 798.6 L422.4 784.9 L453.4 771.1 L484.5 757.3 L515.5 743.6 L546.5 729.8 L577.5 716.1 L608.5 702.3 L639.6 688.6 L670.6 674.8 M144.6 753.0 L160.0 761.7 L175.3 770.4 L190.7 779.1 L206.1 787.8 L221.4 796.5 L236.8 805.1 L252.2 813.8 L267.6 822.5 L282.9 831.2 L298.3 839.9 M160.1 746.1 L175.5 754.8 L190.9 763.5 L206.2 772.2 L221.6 780.9 L237.0 789.6 L252.3 798.3 L267.7 807.0 L283.1 815.6 L298.4 824.3 L313.8 833.0 M175.6 739.2 L191.0 747.9 L206.4 756.6 L221.7 765.3 L237.1 774.0 L252.5 782.7 L267.8 791.4 L283.2 800.1 L298.6 808.8 L314.0 817.5 L329.3 826.1 M191.1 732.4 L206.5 741.1 L221.9 749.7 L237.2 758.4 L252.6 767.1 L268.0 775.8 L283.4 784.5 L298.7 793.2 L314.1 801.9 L329.5 810.6 L344.8 819.3 M206.6 725.5 L222.0 734.2 L237.4 742.9 L252.8 751.6 L268.1 760.2 L283.5 768.9 L298.9 777.6 L314.2 786.3 L329.6 795.0 L345.0 803.7 L360.4 812.4 M222.2 718.6 L237.5 727.3 L252.9 736.0 L268.3 744.7 L283.6 753.4 L299.0 762.1 L314.4 770.7 L329.8 779.4 L345.1 788.1 L360.5 796.8 L375.9 805.5 M237.7 711.7 L253.0 720.4 L268.4 729.1 L283.8 737.8 L299.2 746.5 L314.5 755.2 L329.9 763.9 L345.3 772.6 L360.6 781.2 L376.0 789.9 L391.4 798.6 M253.2 704.8 L268.6 713.5 L283.9 722.2 L299.3 730.9 L314.7 739.6 L330.0 748.3 L345.4 757.0 L360.8 765.7 L376.1 774.4 L391.5 783.1 L406.9 791.7 M268.7 698.0 L284.1 706.7 L299.4 715.3 L314.8 724.0 L330.2 732.7 L345.5 741.4 L360.9 750.1 L376.3 758.8 L391.7 767.5 L407.0 776.2 L422.4 784.9 M284.2 691.1 L299.6 699.8 L315.0 708.5 L330.3 717.2 L345.7 725.8 L361.1 734.5 L376.4 743.2 L391.8 751.9 L407.2 760.6 L422.5 769.3 L437.9 778.0 M299.7 684.2 L315.1 692.9 L330.5 701.6 L345.8 710.3 L361.2 719.0 L376.6 727.7 L391.9 736.3 L407.3 745.0 L422.7 753.7 L438.1 762.4 L453.4 771.1 M315.2 677.3 L330.6 686.0 L346.0 694.7 L361.3 703.4 L376.7 712.1 L392.1 720.8 L407.5 729.5 L422.8 738.2 L438.2 746.8 L453.6 755.5 L468.9 764.2 M330.8 670.5 L346.1 679.1 L361.5 687.8 L376.9 696.5 L392.2 705.2 L407.6 713.9 L423.0 722.6 L438.3 731.3 L453.7 740.0 L469.1 748.7 L484.5 757.3 M346.3 663.6 L361.6 672.3 L377.0 681.0 L392.4 689.6 L407.7 698.3 L423.1 707.0 L438.5 715.7 L453.9 724.4 L469.2 733.1 L484.6 741.8 L500.0 750.5 M361.8 656.7 L377.1 665.4 L392.5 674.1 L407.9 682.8 L423.3 691.5 L438.6 700.1 L454.0 708.8 L469.4 717.5 L484.7 726.2 L500.1 734.9 L515.5 743.6 M377.3 649.8 L392.7 658.5 L408.0 667.2 L423.4 675.9 L438.8 684.6 L454.1 693.3 L469.5 702.0 L484.9 710.6 L500.2 719.3 L515.6 728.0 L531.0 736.7 M392.8 642.9 L408.2 651.6 L423.5 660.3 L438.9 669.0 L454.3 677.7 L469.6 686.4 L485.0 695.1 L500.4 703.8 L515.8 712.5 L531.1 721.1 L546.5 729.8 M408.3 636.1 L423.7 644.7 L439.1 653.4 L454.4 662.1 L469.8 670.8 L485.2 679.5 L500.5 688.2 L515.9 696.9 L531.3 705.6 L546.6 714.3 L562.0 723.0 M423.8 629.2 L439.2 637.9 L454.6 646.6 L469.9 655.2 L485.3 663.9 L500.7 672.6 L516.0 681.3 L531.4 690.0 L546.8 698.7 L562.2 707.4 L577.5 716.1 M439.3 622.3 L454.7 631.0 L470.1 639.7 L485.4 648.4 L500.8 657.1 L516.2 665.7 L531.6 674.4 L546.9 683.1 L562.3 691.8 L577.7 700.5 L593.0 709.2 M454.9 615.4 L470.2 624.1 L485.6 632.8 L501.0 641.5 L516.3 650.2 L531.7 658.9 L547.1 667.6 L562.4 676.2 L577.8 684.9 L593.2 693.6 L608.5 702.3 M470.4 608.5 L485.7 617.2 L501.1 625.9 L516.5 634.6 L531.8 643.3 L547.2 652.0 L562.6 660.7 L578.0 669.4 L593.3 678.1 L608.7 686.7 L624.1 695.4 M485.9 601.7 L501.2 610.3 L516.6 619.0 L532.0 627.7 L547.4 636.4 L562.7 645.1 L578.1 653.8 L593.5 662.5 L608.8 671.2 L624.2 679.9 L639.6 688.6 M501.4 594.8 L516.8 603.5 L532.1 612.2 L547.5 620.8 L562.9 629.5 L578.2 638.2 L593.6 646.9 L609.0 655.6 L624.3 664.3 L639.7 673.0 L655.1 681.7 M516.9 587.9 L532.3 596.6 L547.6 605.3 L563.0 614.0 L578.4 622.7 L593.8 631.3 L609.1 640.0 L624.5 648.7 L639.9 657.4 L655.2 666.1 L670.6 674.8" fill="none" stroke="#1a1000" stroke-width="1.0" stroke-opacity="0.9"/>
<path d="M139.0 757.0 L724.0 755.0 L882.5 844.7 L708.6 852.4 L600.0 860.0 L297.0 875.0 L139.0 772.0Z" fill="#ff0000" fill-opacity="0.22" />
<path d="M140.9 772.5 L151.8 780.5 L170.6 781.4 L159.6 773.4Z" fill="#d3ba35" stroke="#d3ba35" stroke-width="0.6"/>
<path d="M159.6 773.4 L170.6 781.4 L189.3 782.3 L178.3 774.4Z" fill="#ccba35" stroke="#ccba35" stroke-width="0.6"/>
<path d="M178.3 774.4 L189.3 782.3 L208.0 783.2 L197.0 775.3Z" fill="#c5bb34" stroke="#c5bb34" stroke-width="0.6"/>
<path d="M197.0 775.3 L208.0 783.2 L226.7 784.0 L215.6 776.2Z" fill="#babc38" stroke="#babc38" stroke-width="0.6"/>
<path d="M215.6 776.2 L226.7 784.0 L245.4 784.9 L234.3 777.2Z" fill="#acbe3f" stroke="#acbe3f" stroke-width="0.6"/>
<path d="M234.3 777.2 L245.4 784.9 L264.1 785.8 L253.0 778.1Z" fill="#90bf4d" stroke="#90bf4d" stroke-width="0.6"/>
<path d="M253.0 778.1 L264.1 785.8 L282.8 786.6 L271.7 779.0Z" fill="#6fbe60" stroke="#6fbe60" stroke-width="0.6"/>
<path d="M271.7 779.0 L282.8 786.6 L301.6 787.4 L290.4 779.9Z" fill="#4fbc74" stroke="#4fbc74" stroke-width="0.6"/>
<path d="M290.4 779.9 L301.6 787.4 L320.3 788.2 L309.1 780.7Z" fill="#3bb785" stroke="#3bb785" stroke-width="0.6"/>
<path d="M309.1 780.7 L320.3 788.2 L339.0 789.0 L327.8 781.6Z" fill="#27b297" stroke="#27b297" stroke-width="0.6"/>
<path d="M327.8 781.6 L339.0 789.0 L357.7 789.8 L346.5 782.6Z" fill="#16ada8" stroke="#16ada8" stroke-width="0.6"/>
<path d="M346.5 782.6 L357.7 789.8 L376.4 790.6 L365.2 783.5Z" fill="#12a8b5" stroke="#12a8b5" stroke-width="0.6"/>
<path d="M365.2 783.5 L376.4 790.6 L395.2 791.3 L383.8 784.3Z" fill="#0fa3c3" stroke="#0fa3c3" stroke-width="0.6"/>
<path d="M383.8 784.3 L395.2 791.3 L413.9 791.9 L402.5 784.9Z" fill="#0d9dcf" stroke="#0d9dcf" stroke-width="0.6"/>
<path d="M402.5 784.9 L413.9 791.9 L432.6 792.2 L421.3 785.3Z" fill="#1096d6" stroke="#1096d6" stroke-width="0.6"/>
<path d="M421.3 785.3 L432.6 792.2 L451.3 792.3 L440.0 785.5Z" fill="#148edd" stroke="#148edd" stroke-width="0.6"/>
<path d="M440.0 785.5 L451.3 792.3 L470.1 792.1 L458.7 785.4Z" fill="#1886e4" stroke="#1886e4" stroke-width="0.6"/>
<path d="M458.7 785.4 L470.1 792.1 L488.8 791.7 L477.4 785.0Z" fill="#1f7ce8" stroke="#1f7ce8" stroke-width="0.6"/>
<path d="M477.4 785.0 L488.8 791.7 L507.5 791.1 L496.1 784.6Z" fill="#2672ed" stroke="#2672ed" stroke-width="0.6"/>
<path d="M496.1 784.6 L507.5 791.1 L526.3 790.6 L514.8 784.1Z" fill="#2c69ec" stroke="#2c69ec" stroke-width="0.6"/>
<path d="M514.8 784.1 L526.3 790.6 L545.0 790.0 L533.5 783.6Z" fill="#3360ea" stroke="#3360ea" stroke-width="0.6"/>
<path d="M533.5 783.6 L545.0 790.0 L563.7 789.5 L552.2 783.2Z" fill="#3958e8" stroke="#3958e8" stroke-width="0.6"/>
<path d="M151.8 780.5 L162.8 788.6 L181.5 789.4 L170.6 781.4Z" fill="#cabb35" stroke="#cabb35" stroke-width="0.6"/>
<path d="M170.6 781.4 L181.5 789.4 L200.3 790.2 L189.3 782.3Z" fill="#c3bb35" stroke="#c3bb35" stroke-width="0.6"/>
<path d="M189.3 782.3 L200.3 790.2 L219.0 791.0 L208.0 783.2Z" fill="#b8bc3a" stroke="#b8bc3a" stroke-width="0.6"/>
<path d="M208.0 783.2 L219.0 791.0 L237.8 791.8 L226.7 784.0Z" fill="#abbe3f" stroke="#abbe3f" stroke-width="0.6"/>
<path d="M226.7 784.0 L237.8 791.8 L256.5 792.6 L245.4 784.9Z" fill="#9bbf47" stroke="#9bbf47" stroke-width="0.6"/>
<path d="M245.4 784.9 L256.5 792.6 L275.2 793.4 L264.1 785.8Z" fill="#7ebe57" stroke="#7ebe57" stroke-width="0.6"/>
<path d="M264.1 785.8 L275.2 793.4 L294.0 794.2 L282.8 786.6Z" fill="#5cbd6b" stroke="#5cbd6b" stroke-width="0.6"/>
<path d="M282.8 786.6 L294.0 794.2 L312.7 794.9 L301.6 787.4Z" fill="#45ba7d" stroke="#45ba7d" stroke-width="0.6"/>
<path d="M301.6 787.4 L312.7 794.9 L331.5 795.6 L320.3 788.2Z" fill="#32b58e" stroke="#32b58e" stroke-width="0.6"/>
<path d="M320.3 788.2 L331.5 795.6 L350.2 796.4 L339.0 789.0Z" fill="#1eb09f" stroke="#1eb09f" stroke-width="0.6"/>
<path d="M339.0 789.0 L350.2 796.4 L369.0 797.1 L357.7 789.8Z" fill="#14abaf" stroke="#14abaf" stroke-width="0.6"/>
<path d="M357.7 789.8 L369.0 797.1 L387.7 797.8 L376.4 790.6Z" fill="#11a5bc" stroke="#11a5bc" stroke-width="0.6"/>
<path d="M376.4 790.6 L387.7 797.8 L406.5 798.4 L395.2 791.3Z" fill="#0ea0c9" stroke="#0ea0c9" stroke-width="0.6"/>
<path d="M395.2 791.3 L406.5 798.4 L425.2 798.8 L413.9 791.9Z" fill="#0e9ad2" stroke="#0e9ad2" stroke-width="0.6"/>
<path d="M413.9 791.9 L425.2 798.8 L444.0 799.0 L432.6 792.2Z" fill="#1293d9" stroke="#1293d9" stroke-width="0.6"/>
<path d="M432.6 792.2 L444.0 799.0 L462.7 799.0 L451.3 792.3Z" fill="#158be0" stroke="#158be0" stroke-width="0.6"/>
<path d="M451.3 792.3 L462.7 799.0 L481.5 798.7 L470.1 792.1Z" fill="#1a82e6" stroke="#1a82e6" stroke-width="0.6"/>
<path d="M470.1 792.1 L481.5 798.7 L500.3 798.3 L488.8 791.7Z" fill="#2179ea" stroke="#2179ea" stroke-width="0.6"/>
<path d="M488.8 791.7 L500.3 798.3 L519.0 797.6 L507.5 791.1Z" fill="#286fed" stroke="#286fed" stroke-width="0.6"/>
<path d="M507.5 791.1 L519.0 797.6 L537.8 797.0 L526.3 790.6Z" fill="#2e67eb" stroke="#2e67eb" stroke-width="0.6"/>
<path d="M526.3 790.6 L537.8 797.0 L556.5 796.4 L545.0 790.0Z" fill="#345ee9" stroke="#345ee9" stroke-width="0.6"/>
<path d="M545.0 790.0 L556.5 796.4 L575.3 795.8 L563.7 789.5Z" fill="#3a56e7" stroke="#3a56e7" stroke-width="0.6"/>
<path d="M162.8 788.6 L173.7 796.6 L192.5 797.3 L181.5 789.4Z" fill="#bebc37" stroke="#bebc37" stroke-width="0.6"/>
<path d="M181.5 789.4 L192.5 797.3 L211.3 798.1 L200.3 790.2Z" fill="#b3bd3c" stroke="#b3bd3c" stroke-width="0.6"/>
<path d="M200.3 790.2 L211.3 798.1 L230.0 798.9 L219.0 791.0Z" fill="#a7be41" stroke="#a7be41" stroke-width="0.6"/>
<path d="M219.0 791.0 L230.0 798.9 L248.8 799.6 L237.8 791.8Z" fill="#99bf48" stroke="#99bf48" stroke-width="0.6"/>
<path d="M237.8 791.8 L248.8 799.6 L267.6 800.4 L256.5 792.6Z" fill="#89be51" stroke="#89be51" stroke-width="0.6"/>
<path d="M256.5 792.6 L267.6 800.4 L286.4 801.1 L275.2 793.4Z" fill="#6abe62" stroke="#6abe62" stroke-width="0.6"/>
<path d="M275.2 793.4 L286.4 801.1 L305.1 801.8 L294.0 794.2Z" fill="#4dbc75" stroke="#4dbc75" stroke-width="0.6"/>
<path d="M294.0 794.2 L305.1 801.8 L323.9 802.4 L312.7 794.9Z" fill="#3bb785" stroke="#3bb785" stroke-width="0.6"/>
<path d="M312.7 794.9 L323.9 802.4 L342.7 803.1 L331.5 795.6Z" fill="#28b396" stroke="#28b396" stroke-width="0.6"/>
<path d="M331.5 795.6 L342.7 803.1 L361.5 803.7 L350.2 796.4Z" fill="#16aea7" stroke="#16aea7" stroke-width="0.6"/>
<path d="M350.2 796.4 L361.5 803.7 L380.2 804.3 L369.0 797.1Z" fill="#12a8b6" stroke="#12a8b6" stroke-width="0.6"/>
<path d="M369.0 797.1 L380.2 804.3 L399.0 804.9 L387.7 797.8Z" fill="#0fa3c2" stroke="#0fa3c2" stroke-width="0.6"/>
<path d="M387.7 797.8 L399.0 804.9 L417.8 805.4 L406.5 798.4Z" fill="#0d9dce" stroke="#0d9dce" stroke-width="0.6"/>
<path d="M406.5 798.4 L417.8 805.4 L436.6 805.7 L425.2 798.8Z" fill="#1096d5" stroke="#1096d5" stroke-width="0.6"/>
<path d="M425.2 798.8 L436.6 805.7 L455.4 805.8 L444.0 799.0Z" fill="#138fdc" stroke="#138fdc" stroke-width="0.6"/>
<path d="M444.0 799.0 L455.4 805.8 L474.2 805.7 L462.7 799.0Z" fill="#1688e3" stroke="#1688e3" stroke-width="0.6"/>
<path d="M462.7 799.0 L474.2 805.7 L492.9 805.4 L481.5 798.7Z" fill="#1d7fe7" stroke="#1d7fe7" stroke-width="0.6"/>
<path d="M481.5 798.7 L492.9 805.4 L511.7 804.8 L500.3 798.3Z" fill="#2375eb" stroke="#2375eb" stroke-width="0.6"/>
<path d="M500.3 798.3 L511.7 804.8 L530.5 804.1 L519.0 797.6Z" fill="#2a6ced" stroke="#2a6ced" stroke-width="0.6"/>
<path d="M519.0 797.6 L530.5 804.1 L549.3 803.4 L537.8 797.0Z" fill="#3064eb" stroke="#3064eb" stroke-width="0.6"/>
<path d="M537.8 797.0 L549.3 803.4 L568.1 802.7 L556.5 796.4Z" fill="#365ce9" stroke="#365ce9" stroke-width="0.6"/>
<path d="M556.5 796.4 L568.1 802.7 L586.9 802.1 L575.3 795.8Z" fill="#3c54e7" stroke="#3c54e7" stroke-width="0.6"/>
<path d="M173.7 796.6 L184.6 804.6 L203.4 805.3 L192.5 797.3Z" fill="#acbd3f" stroke="#acbd3f" stroke-width="0.6"/>
<path d="M192.5 797.3 L203.4 805.3 L222.3 806.0 L211.3 798.1Z" fill="#a0bf44" stroke="#a0bf44" stroke-width="0.6"/>
<path d="M211.3 798.1 L222.3 806.0 L241.1 806.7 L230.0 798.9Z" fill="#93bf4b" stroke="#93bf4b" stroke-width="0.6"/>
<path d="M230.0 798.9 L241.1 806.7 L259.9 807.4 L248.8 799.6Z" fill="#86be53" stroke="#86be53" stroke-width="0.6"/>
<path d="M248.8 799.6 L259.9 807.4 L278.7 808.1 L267.6 800.4Z" fill="#76be5c" stroke="#76be5c" stroke-width="0.6"/>
<path d="M267.6 800.4 L278.7 808.1 L297.5 808.8 L286.4 801.1Z" fill="#55bd6f" stroke="#55bd6f" stroke-width="0.6"/>
<path d="M286.4 801.1 L297.5 808.8 L316.3 809.4 L305.1 801.8Z" fill="#43b97e" stroke="#43b97e" stroke-width="0.6"/>
<path d="M305.1 801.8 L316.3 809.4 L335.1 810.0 L323.9 802.4Z" fill="#31b58e" stroke="#31b58e" stroke-width="0.6"/>
<path d="M323.9 802.4 L335.1 810.0 L353.9 810.5 L342.7 803.1Z" fill="#1fb09e" stroke="#1fb09e" stroke-width="0.6"/>
<path d="M342.7 803.1 L353.9 810.5 L372.7 811.1 L361.5 803.7Z" fill="#14abae" stroke="#14abae" stroke-width="0.6"/>
<path d="M361.5 803.7 L372.7 811.1 L391.5 811.6 L380.2 804.3Z" fill="#11a5bd" stroke="#11a5bd" stroke-width="0.6"/>
<path d="M380.2 804.3 L391.5 811.6 L410.3 812.1 L399.0 804.9Z" fill="#0da0c9" stroke="#0da0c9" stroke-width="0.6"/>
<path d="M399.0 804.9 L410.3 812.1 L429.1 812.4 L417.8 805.4Z" fill="#0e9ad2" stroke="#0e9ad2" stroke-width="0.6"/>
<path d="M417.8 805.4 L429.1 812.4 L447.9 812.6 L436.6 805.7Z" fill="#1193d8" stroke="#1193d8" stroke-width="0.6"/>
<path d="M436.6 805.7 L447.9 812.6 L466.7 812.7 L455.4 805.8Z" fill="#148cdf" stroke="#148cdf" stroke-width="0.6"/>
<path d="M455.4 805.8 L466.7 812.7 L485.6 812.5 L474.2 805.7Z" fill="#1885e5" stroke="#1885e5" stroke-width="0.6"/>
<path d="M474.2 805.7 L485.6 812.5 L504.4 812.0 L492.9 805.4Z" fill="#1f7ce9" stroke="#1f7ce9" stroke-width="0.6"/>
<path d="M492.9 805.4 L504.4 812.0 L523.2 811.4 L511.7 804.8Z" fill="#2572ec" stroke="#2572ec" stroke-width="0.6"/>
<path d="M511.7 804.8 L523.2 811.4 L542.0 810.7 L530.5 804.1Z" fill="#2c6aec" stroke="#2c6aec" stroke-width="0.6"/>
<path d="M530.5 804.1 L542.0 810.7 L560.8 809.8 L549.3 803.4Z" fill="#3162ea" stroke="#3162ea" stroke-width="0.6"/>
<path d="M549.3 803.4 L560.8 809.8 L579.6 809.1 L568.1 802.7Z" fill="#375ae8" stroke="#375ae8" stroke-width="0.6"/>
<path d="M568.1 802.7 L579.6 809.1 L598.4 808.3 L586.9 802.1Z" fill="#3d53e6" stroke="#3d53e6" stroke-width="0.6"/>
<path d="M184.6 804.6 L195.6 812.7 L214.4 813.3 L203.4 805.3Z" fill="#98bf49" stroke="#98bf49" stroke-width="0.6"/>
<path d="M203.4 805.3 L214.4 813.3 L233.2 813.9 L222.3 806.0Z" fill="#8cbf4f" stroke="#8cbf4f" stroke-width="0.6"/>
<path d="M222.3 806.0 L233.2 813.9 L252.1 814.6 L241.1 806.7Z" fill="#7fbe57" stroke="#7fbe57" stroke-width="0.6"/>
<path d="M241.1 806.7 L252.1 814.6 L270.9 815.2 L259.9 807.4Z" fill="#71be5f" stroke="#71be5f" stroke-width="0.6"/>
<path d="M259.9 807.4 L270.9 815.2 L289.7 815.8 L278.7 808.1Z" fill="#60bd68" stroke="#60bd68" stroke-width="0.6"/>
<path d="M278.7 808.1 L289.7 815.8 L308.6 816.5 L297.5 808.8Z" fill="#49bb79" stroke="#49bb79" stroke-width="0.6"/>
<path d="M297.5 808.8 L308.6 816.5 L327.4 817.0 L316.3 809.4Z" fill="#38b788" stroke="#38b788" stroke-width="0.6"/>
<path d="M316.3 809.4 L327.4 817.0 L346.2 817.5 L335.1 810.0Z" fill="#27b297" stroke="#27b297" stroke-width="0.6"/>
<path d="M335.1 810.0 L346.2 817.5 L365.1 818.0 L353.9 810.5Z" fill="#16aea6" stroke="#16aea6" stroke-width="0.6"/>
<path d="M353.9 810.5 L365.1 818.0 L383.9 818.5 L372.7 811.1Z" fill="#12a8b5" stroke="#12a8b5" stroke-width="0.6"/>
<path d="M372.7 811.1 L383.9 818.5 L402.7 818.9 L391.5 811.6Z" fill="#0fa2c3" stroke="#0fa2c3" stroke-width="0.6"/>
<path d="M391.5 811.6 L402.7 818.9 L421.6 819.2 L410.3 812.1Z" fill="#0d9dce" stroke="#0d9dce" stroke-width="0.6"/>
<path d="M410.3 812.1 L421.6 819.2 L440.4 819.5 L429.1 812.4Z" fill="#1097d5" stroke="#1097d5" stroke-width="0.6"/>
<path d="M429.1 812.4 L440.4 819.5 L459.2 819.6 L447.9 812.6Z" fill="#1390dc" stroke="#1390dc" stroke-width="0.6"/>
<path d="M447.9 812.6 L459.2 819.6 L478.1 819.6 L466.7 812.7Z" fill="#1689e2" stroke="#1689e2" stroke-width="0.6"/>
<path d="M466.7 812.7 L478.1 819.6 L496.9 819.3 L485.6 812.5Z" fill="#1b81e6" stroke="#1b81e6" stroke-width="0.6"/>
<path d="M485.6 812.5 L496.9 819.3 L515.8 818.8 L504.4 812.0Z" fill="#2178ea" stroke="#2178ea" stroke-width="0.6"/>
<path d="M504.4 812.0 L515.8 818.8 L534.6 818.1 L523.2 811.4Z" fill="#286fed" stroke="#286fed" stroke-width="0.6"/>
<path d="M523.2 811.4 L534.6 818.1 L553.4 817.3 L542.0 810.7Z" fill="#2d68ec" stroke="#2d68ec" stroke-width="0.6"/>
<path d="M542.0 810.7 L553.4 817.3 L572.2 816.4 L560.8 809.8Z" fill="#3360ea" stroke="#3360ea" stroke-width="0.6"/>
<path d="M560.8 809.8 L572.2 816.4 L591.1 815.5 L579.6 809.1Z" fill="#3958e8" stroke="#3958e8" stroke-width="0.6"/>
<path d="M579.6 809.1 L591.1 815.5 L609.9 814.7 L598.4 808.3Z" fill="#3e51e5" stroke="#3e51e5" stroke-width="0.6"/>
<path d="M195.6 812.7 L206.5 820.7 L225.4 821.3 L214.4 813.3Z" fill="#81be55" stroke="#81be55" stroke-width="0.6"/>
<path d="M214.4 813.3 L225.4 821.3 L244.2 821.9 L233.2 813.9Z" fill="#75be5d" stroke="#75be5d" stroke-width="0.6"/>
<path d="M233.2 813.9 L244.2 821.9 L263.1 822.5 L252.1 814.6Z" fill="#67be64" stroke="#67be64" stroke-width="0.6"/>
<path d="M252.1 814.6 L263.1 822.5 L281.9 823.0 L270.9 815.2Z" fill="#59bd6c" stroke="#59bd6c" stroke-width="0.6"/>
<path d="M270.9 815.2 L281.9 823.0 L300.8 823.6 L289.7 815.8Z" fill="#4ebc74" stroke="#4ebc74" stroke-width="0.6"/>
<path d="M289.7 815.8 L300.8 823.6 L319.6 824.2 L308.6 816.5Z" fill="#3eb883" stroke="#3eb883" stroke-width="0.6"/>
<path d="M308.6 816.5 L319.6 824.2 L338.5 824.7 L327.4 817.0Z" fill="#2eb491" stroke="#2eb491" stroke-width="0.6"/>
<path d="M327.4 817.0 L338.5 824.7 L357.4 825.2 L346.2 817.5Z" fill="#1db09f" stroke="#1db09f" stroke-width="0.6"/>
<path d="M346.2 817.5 L357.4 825.2 L376.2 825.5 L365.1 818.0Z" fill="#14abae" stroke="#14abae" stroke-width="0.6"/>
<path d="M365.1 818.0 L376.2 825.5 L395.1 825.9 L383.9 818.5Z" fill="#11a5bc" stroke="#11a5bc" stroke-width="0.6"/>
<path d="M383.9 818.5 L395.1 825.9 L413.9 826.2 L402.7 818.9Z" fill="#0da0ca" stroke="#0da0ca" stroke-width="0.6"/>
<path d="M402.7 818.9 L413.9 826.2 L432.8 826.5 L421.6 819.2Z" fill="#0e9ad2" stroke="#0e9ad2" stroke-width="0.6"/>
<path d="M421.6 819.2 L432.8 826.5 L451.6 826.7 L440.4 819.5Z" fill="#1193d8" stroke="#1193d8" stroke-width="0.6"/>
<path d="M440.4 819.5 L451.6 826.7 L470.5 826.7 L459.2 819.6Z" fill="#148ddf" stroke="#148ddf" stroke-width="0.6"/>
<path d="M459.2 819.6 L470.5 826.7 L489.4 826.6 L478.1 819.6Z" fill="#1886e4" stroke="#1886e4" stroke-width="0.6"/>
<path d="M478.1 819.6 L489.4 826.6 L508.2 826.2 L496.9 819.3Z" fill="#1e7ee8" stroke="#1e7ee8" stroke-width="0.6"/>
<path d="M496.9 819.3 L508.2 826.2 L527.1 825.6 L515.8 818.8Z" fill="#2475eb" stroke="#2475eb" stroke-width="0.6"/>
<path d="M515.8 818.8 L527.1 825.6 L545.9 824.8 L534.6 818.1Z" fill="#2a6ded" stroke="#2a6ded" stroke-width="0.6"/>
<path d="M534.6 818.1 L545.9 824.8 L564.8 824.0 L553.4 817.3Z" fill="#2f65eb" stroke="#2f65eb" stroke-width="0.6"/>
<path d="M553.4 817.3 L564.8 824.0 L583.6 823.0 L572.2 816.4Z" fill="#355ee9" stroke="#355ee9" stroke-width="0.6"/>
<path d="M572.2 816.4 L583.6 823.0 L602.5 822.1 L591.1 815.5Z" fill="#3a56e7" stroke="#3a56e7" stroke-width="0.6"/>
<path d="M591.1 815.5 L602.5 822.1 L621.3 821.2 L609.9 814.7Z" fill="#3e4fe3" stroke="#3e4fe3" stroke-width="0.6"/>
<path d="M206.5 820.7 L217.4 828.8 L236.3 829.3 L225.4 821.3Z" fill="#68be64" stroke="#68be64" stroke-width="0.6"/>
<path d="M225.4 821.3 L236.3 829.3 L255.2 829.8 L244.2 821.9Z" fill="#5bbd6b" stroke="#5bbd6b" stroke-width="0.6"/>
<path d="M244.2 821.9 L255.2 829.8 L274.1 830.4 L263.1 822.5Z" fill="#51bc72" stroke="#51bc72" stroke-width="0.6"/>
<path d="M263.1 822.5 L274.1 830.4 L292.9 830.9 L281.9 823.0Z" fill="#4abb78" stroke="#4abb78" stroke-width="0.6"/>
<path d="M281.9 823.0 L292.9 830.9 L311.8 831.4 L300.8 823.6Z" fill="#42b97f" stroke="#42b97f" stroke-width="0.6"/>
<path d="M300.8 823.6 L311.8 831.4 L330.7 832.0 L319.6 824.2Z" fill="#33b58d" stroke="#33b58d" stroke-width="0.6"/>
<path d="M319.6 824.2 L330.7 832.0 L349.6 832.4 L338.5 824.7Z" fill="#23b19a" stroke="#23b19a" stroke-width="0.6"/>
<path d="M338.5 824.7 L349.6 832.4 L368.4 832.8 L357.4 825.2Z" fill="#16aea8" stroke="#16aea8" stroke-width="0.6"/>
<path d="M357.4 825.2 L368.4 832.8 L387.3 833.1 L376.2 825.5Z" fill="#12a8b5" stroke="#12a8b5" stroke-width="0.6"/>
<path d="M376.2 825.5 L387.3 833.1 L406.2 833.4 L395.1 825.9Z" fill="#0fa2c3" stroke="#0fa2c3" stroke-width="0.6"/>
<path d="M395.1 825.9 L406.2 833.4 L425.1 833.7 L413.9 826.2Z" fill="#0d9ccf" stroke="#0d9ccf" stroke-width="0.6"/>
<path d="M413.9 826.2 L425.1 833.7 L444.0 833.9 L432.8 826.5Z" fill="#1096d6" stroke="#1096d6" stroke-width="0.6"/>
<path d="M432.8 826.5 L444.0 833.9 L462.8 833.9 L451.6 826.7Z" fill="#1390dc" stroke="#1390dc" stroke-width="0.6"/>
<path d="M451.6 826.7 L462.8 833.9 L481.7 833.9 L470.5 826.7Z" fill="#168ae2" stroke="#168ae2" stroke-width="0.6"/>
<path d="M470.5 826.7 L481.7 833.9 L500.6 833.7 L489.4 826.6Z" fill="#1a82e6" stroke="#1a82e6" stroke-width="0.6"/>
<path d="M489.4 826.6 L500.6 833.7 L519.5 833.2 L508.2 826.2Z" fill="#207ae9" stroke="#207ae9" stroke-width="0.6"/>
<path d="M508.2 826.2 L519.5 833.2 L538.3 832.6 L527.1 825.6Z" fill="#2671ed" stroke="#2671ed" stroke-width="0.6"/>
<path d="M527.1 825.6 L538.3 832.6 L557.2 831.8 L545.9 824.8Z" fill="#2c6aec" stroke="#2c6aec" stroke-width="0.6"/>
<path d="M545.9 824.8 L557.2 831.8 L576.1 830.8 L564.8 824.0Z" fill="#3163ea" stroke="#3163ea" stroke-width="0.6"/>
<path d="M564.8 824.0 L576.1 830.8 L594.9 829.8 L583.6 823.0Z" fill="#365ce9" stroke="#365ce9" stroke-width="0.6"/>
<path d="M583.6 823.0 L594.9 829.8 L613.8 828.8 L602.5 822.1Z" fill="#3c54e7" stroke="#3c54e7" stroke-width="0.6"/>
<path d="M602.5 822.1 L613.8 828.8 L632.7 827.9 L621.3 821.2Z" fill="#3e4de1" stroke="#3e4de1" stroke-width="0.6"/>
<path d="M217.4 828.8 L228.4 836.8 L247.3 837.3 L236.3 829.3Z" fill="#50bc73" stroke="#50bc73" stroke-width="0.6"/>
<path d="M236.3 829.3 L247.3 837.3 L266.2 837.8 L255.2 829.8Z" fill="#4abb78" stroke="#4abb78" stroke-width="0.6"/>
<path d="M255.2 829.8 L266.2 837.8 L285.1 838.3 L274.1 830.4Z" fill="#44b97e" stroke="#44b97e" stroke-width="0.6"/>
<path d="M274.1 830.4 L285.1 838.3 L303.9 838.8 L292.9 830.9Z" fill="#3db883" stroke="#3db883" stroke-width="0.6"/>
<path d="M292.9 830.9 L303.9 838.8 L322.8 839.3 L311.8 831.4Z" fill="#37b689" stroke="#37b689" stroke-width="0.6"/>
<path d="M311.8 831.4 L322.8 839.3 L341.7 839.8 L330.7 832.0Z" fill="#28b396" stroke="#28b396" stroke-width="0.6"/>
<path d="M330.7 832.0 L341.7 839.8 L360.6 840.2 L349.6 832.4Z" fill="#19afa4" stroke="#19afa4" stroke-width="0.6"/>
<path d="M349.6 832.4 L360.6 840.2 L379.5 840.6 L368.4 832.8Z" fill="#14aab0" stroke="#14aab0" stroke-width="0.6"/>
<path d="M368.4 832.8 L379.5 840.6 L398.4 840.8 L387.3 833.1Z" fill="#10a5bd" stroke="#10a5bd" stroke-width="0.6"/>
<path d="M387.3 833.1 L398.4 840.8 L417.3 841.1 L406.2 833.4Z" fill="#0da0ca" stroke="#0da0ca" stroke-width="0.6"/>
<path d="M406.2 833.4 L417.3 841.1 L436.2 841.2 L425.1 833.7Z" fill="#0f98d3" stroke="#0f98d3" stroke-width="0.6"/>
<path d="M425.1 833.7 L436.2 841.2 L455.1 841.3 L444.0 833.9Z" fill="#1292d9" stroke="#1292d9" stroke-width="0.6"/>
<path d="M444.0 833.9 L455.1 841.3 L474.0 841.3 L462.8 833.9Z" fill="#148cdf" stroke="#148cdf" stroke-width="0.6"/>
<path d="M462.8 833.9 L474.0 841.3 L492.8 841.2 L481.7 833.9Z" fill="#1886e4" stroke="#1886e4" stroke-width="0.6"/>
<path d="M481.7 833.9 L492.8 841.2 L511.7 840.9 L500.6 833.7Z" fill="#1d7ee8" stroke="#1d7ee8" stroke-width="0.6"/>
<path d="M500.6 833.7 L511.7 840.9 L530.6 840.4 L519.5 833.2Z" fill="#2376eb" stroke="#2376eb" stroke-width="0.6"/>
<path d="M519.5 833.2 L530.6 840.4 L549.5 839.7 L538.3 832.6Z" fill="#286eed" stroke="#286eed" stroke-width="0.6"/>
<path d="M538.3 832.6 L549.5 839.7 L568.4 838.8 L557.2 831.8Z" fill="#2e67eb" stroke="#2e67eb" stroke-width="0.6"/>
<path d="M557.2 831.8 L568.4 838.8 L587.3 837.8 L576.1 830.8Z" fill="#3360ea" stroke="#3360ea" stroke-width="0.6"/>
<path d="M576.1 830.8 L587.3 837.8 L606.1 836.8 L594.9 829.8Z" fill="#3859e8" stroke="#3859e8" stroke-width="0.6"/>
<path d="M594.9 829.8 L606.1 836.8 L625.0 835.7 L613.8 828.8Z" fill="#3d52e6" stroke="#3d52e6" stroke-width="0.6"/>
<path d="M613.8 828.8 L625.0 835.7 L643.9 834.7 L632.7 827.9Z" fill="#3e4bdf" stroke="#3e4bdf" stroke-width="0.6"/>
<path d="M228.4 836.8 L239.3 844.8 L258.2 845.3 L247.3 837.3Z" fill="#41b980" stroke="#41b980" stroke-width="0.6"/>
<path d="M247.3 837.3 L258.2 845.3 L277.1 845.7 L266.2 837.8Z" fill="#3cb785" stroke="#3cb785" stroke-width="0.6"/>
<path d="M266.2 837.8 L277.1 845.7 L296.0 846.2 L285.1 838.3Z" fill="#36b68a" stroke="#36b68a" stroke-width="0.6"/>
<path d="M285.1 838.3 L296.0 846.2 L314.9 846.7 L303.9 838.8Z" fill="#31b58e" stroke="#31b58e" stroke-width="0.6"/>
<path d="M303.9 838.8 L314.9 846.7 L333.8 847.2 L322.8 839.3Z" fill="#2bb394" stroke="#2bb394" stroke-width="0.6"/>
<path d="M322.8 839.3 L333.8 847.2 L352.7 847.6 L341.7 839.8Z" fill="#1cb0a0" stroke="#1cb0a0" stroke-width="0.6"/>
<path d="M341.7 839.8 L352.7 847.6 L371.6 848.0 L360.6 840.2Z" fill="#15acac" stroke="#15acac" stroke-width="0.6"/>
<path d="M360.6 840.2 L371.6 848.0 L390.5 848.3 L379.5 840.6Z" fill="#12a7b8" stroke="#12a7b8" stroke-width="0.6"/>
<path d="M379.5 840.6 L390.5 848.3 L409.4 848.6 L398.4 840.8Z" fill="#0fa2c4" stroke="#0fa2c4" stroke-width="0.6"/>
<path d="M398.4 840.8 L409.4 848.6 L428.3 848.7 L417.3 841.1Z" fill="#0d9cd0" stroke="#0d9cd0" stroke-width="0.6"/>
<path d="M417.3 841.1 L428.3 848.7 L447.2 848.8 L436.2 841.2Z" fill="#1195d7" stroke="#1195d7" stroke-width="0.6"/>
<path d="M436.2 841.2 L447.2 848.8 L466.1 848.9 L455.1 841.3Z" fill="#138fdd" stroke="#138fdd" stroke-width="0.6"/>
<path d="M455.1 841.3 L466.1 848.9 L485.0 848.8 L474.0 841.3Z" fill="#1689e3" stroke="#1689e3" stroke-width="0.6"/>
<path d="M474.0 841.3 L485.0 848.8 L503.9 848.6 L492.8 841.2Z" fill="#1b82e6" stroke="#1b82e6" stroke-width="0.6"/>
<path d="M492.8 841.2 L503.9 848.6 L522.8 848.2 L511.7 840.9Z" fill="#207ae9" stroke="#207ae9" stroke-width="0.6"/>
<path d="M511.7 840.9 L522.8 848.2 L541.7 847.7 L530.6 840.4Z" fill="#2573ec" stroke="#2573ec" stroke-width="0.6"/>
<path d="M530.6 840.4 L541.7 847.7 L560.6 846.9 L549.5 839.7Z" fill="#2a6bec" stroke="#2a6bec" stroke-width="0.6"/>
<path d="M549.5 839.7 L560.6 846.9 L579.5 846.0 L568.4 838.8Z" fill="#3065eb" stroke="#3065eb" stroke-width="0.6"/>
<path d="M568.4 838.8 L579.5 846.0 L598.4 844.9 L587.3 837.8Z" fill="#355ee9" stroke="#355ee9" stroke-width="0.6"/>
<path d="M587.3 837.8 L598.4 844.9 L617.3 843.8 L606.1 836.8Z" fill="#3a57e7" stroke="#3a57e7" stroke-width="0.6"/>
<path d="M606.1 836.8 L617.3 843.8 L636.1 842.8 L625.0 835.7Z" fill="#3e50e5" stroke="#3e50e5" stroke-width="0.6"/>
<path d="M625.0 835.7 L636.1 842.8 L655.0 841.7 L643.9 834.7Z" fill="#3f49dd" stroke="#3f49dd" stroke-width="0.6"/>
<path d="M239.3 844.8 L250.3 852.9 L269.2 853.3 L258.2 845.3Z" fill="#32b58d" stroke="#32b58d" stroke-width="0.6"/>
<path d="M258.2 845.3 L269.2 853.3 L288.1 853.7 L277.1 845.7Z" fill="#2eb491" stroke="#2eb491" stroke-width="0.6"/>
<path d="M277.1 845.7 L288.1 853.7 L307.0 854.2 L296.0 846.2Z" fill="#29b395" stroke="#29b395" stroke-width="0.6"/>
<path d="M296.0 846.2 L307.0 854.2 L325.9 854.7 L314.9 846.7Z" fill="#24b299" stroke="#24b299" stroke-width="0.6"/>
<path d="M314.9 846.7 L325.9 854.7 L344.8 855.1 L333.8 847.2Z" fill="#1fb09e" stroke="#1fb09e" stroke-width="0.6"/>
<path d="M333.8 847.2 L344.8 855.1 L363.7 855.5 L352.7 847.6Z" fill="#15adaa" stroke="#15adaa" stroke-width="0.6"/>
<path d="M352.7 847.6 L363.7 855.5 L382.6 855.9 L371.6 848.0Z" fill="#13a8b5" stroke="#13a8b5" stroke-width="0.6"/>
<path d="M371.6 848.0 L382.6 855.9 L401.5 856.2 L390.5 848.3Z" fill="#10a4bf" stroke="#10a4bf" stroke-width="0.6"/>
<path d="M390.5 848.3 L401.5 856.2 L420.4 856.4 L409.4 848.6Z" fill="#0d9fcc" stroke="#0d9fcc" stroke-width="0.6"/>
<path d="M409.4 848.6 L420.4 856.4 L439.3 856.5 L428.3 848.7Z" fill="#0f98d4" stroke="#0f98d4" stroke-width="0.6"/>
<path d="M428.3 848.7 L439.3 856.5 L458.2 856.5 L447.2 848.8Z" fill="#1291db" stroke="#1291db" stroke-width="0.6"/>
<path d="M447.2 848.8 L458.2 856.5 L477.1 856.5 L466.1 848.9Z" fill="#158be1" stroke="#158be1" stroke-width="0.6"/>
<path d="M466.1 848.9 L477.1 856.5 L496.1 856.3 L485.0 848.8Z" fill="#1985e5" stroke="#1985e5" stroke-width="0.6"/>
<path d="M485.0 848.8 L496.1 856.3 L515.0 856.0 L503.9 848.6Z" fill="#1e7ee8" stroke="#1e7ee8" stroke-width="0.6"/>
<path d="M503.9 848.6 L515.0 856.0 L533.9 855.6 L522.8 848.2Z" fill="#2376eb" stroke="#2376eb" stroke-width="0.6"/>
<path d="M522.8 848.2 L533.9 855.6 L552.8 855.0 L541.7 847.7Z" fill="#286fed" stroke="#286fed" stroke-width="0.6"/>
<path d="M541.7 847.7 L552.8 855.0 L571.7 854.2 L560.6 846.9Z" fill="#2d69ec" stroke="#2d69ec" stroke-width="0.6"/>
<path d="M560.6 846.9 L571.7 854.2 L590.6 853.3 L579.5 846.0Z" fill="#3262ea" stroke="#3262ea" stroke-width="0.6"/>
<path d="M579.5 846.0 L590.6 853.3 L609.4 852.2 L598.4 844.9Z" fill="#365be9" stroke="#365be9" stroke-width="0.6"/>
<path d="M598.4 844.9 L609.4 852.2 L628.3 851.0 L617.3 843.8Z" fill="#3b55e7" stroke="#3b55e7" stroke-width="0.6"/>
<path d="M617.3 843.8 L628.3 851.0 L647.2 849.9 L636.1 842.8Z" fill="#3e4ee2" stroke="#3e4ee2" stroke-width="0.6"/>
<path d="M636.1 842.8 L647.2 849.9 L666.1 848.8 L655.0 841.7Z" fill="#3f47db" stroke="#3f47db" stroke-width="0.6"/>
<path d="M250.3 852.9 L261.2 860.9 L280.1 861.3 L269.2 853.3Z" fill="#24b29a" stroke="#24b29a" stroke-width="0.6"/>
<path d="M269.2 853.3 L280.1 861.3 L299.0 861.7 L288.1 853.7Z" fill="#20b19d" stroke="#20b19d" stroke-width="0.6"/>
<path d="M288.1 853.7 L299.0 861.7 L317.9 862.2 L307.0 854.2Z" fill="#1cb0a1" stroke="#1cb0a1" stroke-width="0.6"/>
<path d="M307.0 854.2 L317.9 862.2 L336.8 862.6 L325.9 854.7Z" fill="#18afa4" stroke="#18afa4" stroke-width="0.6"/>
<path d="M325.9 854.7 L336.8 862.6 L355.7 863.1 L344.8 855.1Z" fill="#16ada9" stroke="#16ada9" stroke-width="0.6"/>
<path d="M344.8 855.1 L355.7 863.1 L374.7 863.4 L363.7 855.5Z" fill="#13a9b3" stroke="#13a9b3" stroke-width="0.6"/>
<path d="M363.7 855.5 L374.7 863.4 L393.6 863.8 L382.6 855.9Z" fill="#10a5bd" stroke="#10a5bd" stroke-width="0.6"/>
<path d="M382.6 855.9 L393.6 863.8 L412.5 864.0 L401.5 856.2Z" fill="#0ea1c7" stroke="#0ea1c7" stroke-width="0.6"/>
<path d="M401.5 856.2 L412.5 864.0 L431.4 864.2 L420.4 856.4Z" fill="#0e9bd1" stroke="#0e9bd1" stroke-width="0.6"/>
<path d="M420.4 856.4 L431.4 864.2 L450.3 864.2 L439.3 856.5Z" fill="#1194d8" stroke="#1194d8" stroke-width="0.6"/>
<path d="M439.3 856.5 L450.3 864.2 L469.2 864.2 L458.2 856.5Z" fill="#148ddf" stroke="#148ddf" stroke-width="0.6"/>
<path d="M458.2 856.5 L469.2 864.2 L488.1 864.1 L477.1 856.5Z" fill="#1787e4" stroke="#1787e4" stroke-width="0.6"/>
<path d="M477.1 856.5 L488.1 864.1 L507.1 863.9 L496.1 856.3Z" fill="#1c80e7" stroke="#1c80e7" stroke-width="0.6"/>
<path d="M496.1 856.3 L507.1 863.9 L526.0 863.5 L515.0 856.0Z" fill="#2079e9" stroke="#2079e9" stroke-width="0.6"/>
<path d="M515.0 856.0 L526.0 863.5 L544.9 863.0 L533.9 855.6Z" fill="#2573ec" stroke="#2573ec" stroke-width="0.6"/>
<path d="M533.9 855.6 L544.9 863.0 L563.8 862.4 L552.8 855.0Z" fill="#2a6ced" stroke="#2a6ced" stroke-width="0.6"/>
<path d="M552.8 855.0 L563.8 862.4 L582.7 861.6 L571.7 854.2Z" fill="#2f66eb" stroke="#2f66eb" stroke-width="0.6"/>
<path d="M571.7 854.2 L582.7 861.6 L601.6 860.6 L590.6 853.3Z" fill="#335fe9" stroke="#335fe9" stroke-width="0.6"/>
<path d="M590.6 853.3 L601.6 860.6 L620.5 859.4 L609.4 852.2Z" fill="#3859e8" stroke="#3859e8" stroke-width="0.6"/>
<path d="M609.4 852.2 L620.5 859.4 L639.3 858.3 L628.3 851.0Z" fill="#3d53e6" stroke="#3d53e6" stroke-width="0.6"/>
<path d="M628.3 851.0 L639.3 858.3 L658.2 857.1 L647.2 849.9Z" fill="#3e4ce0" stroke="#3e4ce0" stroke-width="0.6"/>
<path d="M647.2 849.9 L658.2 857.1 L677.1 856.0 L666.1 848.8Z" fill="#3f45d9" stroke="#3f45d9" stroke-width="0.6"/>
<path d="M261.2 860.9 L272.1 868.9 L291.0 869.3 L280.1 861.3Z" fill="#16aea7" stroke="#16aea7" stroke-width="0.6"/>
<path d="M280.1 861.3 L291.0 869.3 L310.0 869.7 L299.0 861.7Z" fill="#15ada9" stroke="#15ada9" stroke-width="0.6"/>
<path d="M299.0 861.7 L310.0 869.7 L328.9 870.2 L317.9 862.2Z" fill="#15acac" stroke="#15acac" stroke-width="0.6"/>
<path d="M317.9 862.2 L328.9 870.2 L347.8 870.6 L336.8 862.6Z" fill="#14abaf" stroke="#14abaf" stroke-width="0.6"/>
<path d="M336.8 862.6 L347.8 870.6 L366.7 871.0 L355.7 863.1Z" fill="#13a9b2" stroke="#13a9b2" stroke-width="0.6"/>
<path d="M355.7 863.1 L366.7 871.0 L385.6 871.4 L374.7 863.4Z" fill="#11a5bc" stroke="#11a5bc" stroke-width="0.6"/>
<path d="M374.7 863.4 L385.6 871.4 L404.5 871.7 L393.6 863.8Z" fill="#0ea1c6" stroke="#0ea1c6" stroke-width="0.6"/>
<path d="M393.6 863.8 L404.5 871.7 L423.5 871.9 L412.5 864.0Z" fill="#0d9dce" stroke="#0d9dce" stroke-width="0.6"/>
<path d="M412.5 864.0 L423.5 871.9 L442.4 872.0 L431.4 864.2Z" fill="#1097d5" stroke="#1097d5" stroke-width="0.6"/>
<path d="M431.4 864.2 L442.4 872.0 L461.3 872.0 L450.3 864.2Z" fill="#1390dc" stroke="#1390dc" stroke-width="0.6"/>
<path d="M450.3 864.2 L461.3 872.0 L480.2 871.9 L469.2 864.2Z" fill="#1689e3" stroke="#1689e3" stroke-width="0.6"/>
<path d="M469.2 864.2 L480.2 871.9 L499.1 871.7 L488.1 864.1Z" fill="#1a83e6" stroke="#1a83e6" stroke-width="0.6"/>
<path d="M488.1 864.1 L499.1 871.7 L518.1 871.5 L507.1 863.9Z" fill="#1f7ce8" stroke="#1f7ce8" stroke-width="0.6"/>
<path d="M507.1 863.9 L518.1 871.5 L537.0 871.0 L526.0 863.5Z" fill="#2375eb" stroke="#2375eb" stroke-width="0.6"/>
<path d="M526.0 863.5 L537.0 871.0 L555.9 870.5 L544.9 863.0Z" fill="#286fed" stroke="#286fed" stroke-width="0.6"/>
<path d="M544.9 863.0 L555.9 870.5 L574.8 869.8 L563.8 862.4Z" fill="#2c69ec" stroke="#2c69ec" stroke-width="0.6"/>
<path d="M563.8 862.4 L574.8 869.8 L593.7 869.0 L582.7 861.6Z" fill="#3163ea" stroke="#3163ea" stroke-width="0.6"/>
<path d="M582.7 861.6 L593.7 869.0 L612.6 867.9 L601.6 860.6Z" fill="#355de9" stroke="#355de9" stroke-width="0.6"/>
<path d="M601.6 860.6 L612.6 867.9 L631.5 866.7 L620.5 859.4Z" fill="#3a57e7" stroke="#3a57e7" stroke-width="0.6"/>
<path d="M620.5 859.4 L631.5 866.7 L650.4 865.5 L639.3 858.3Z" fill="#3e50e5" stroke="#3e50e5" stroke-width="0.6"/>
<path d="M639.3 858.3 L650.4 865.5 L669.2 864.3 L658.2 857.1Z" fill="#3f4ade" stroke="#3f4ade" stroke-width="0.6"/>
<path d="M658.2 857.1 L669.2 864.3 L688.1 863.2 L677.1 856.0Z" fill="#3f44d7" stroke="#3f44d7" stroke-width="0.6"/>
<path d="M272.1 868.9 L283.1 877.0 L302.0 877.3 L291.0 869.3Z" fill="#13a9b2" stroke="#13a9b2" stroke-width="0.6"/>
<path d="M291.0 869.3 L302.0 877.3 L320.9 877.7 L310.0 869.7Z" fill="#13a8b5" stroke="#13a8b5" stroke-width="0.6"/>
<path d="M310.0 869.7 L320.9 877.7 L339.8 878.1 L328.9 870.2Z" fill="#12a8b7" stroke="#12a8b7" stroke-width="0.6"/>
<path d="M328.9 870.2 L339.8 878.1 L358.7 878.5 L347.8 870.6Z" fill="#11a7b9" stroke="#11a7b9" stroke-width="0.6"/>
<path d="M347.8 870.6 L358.7 878.5 L377.7 878.9 L366.7 871.0Z" fill="#11a5bc" stroke="#11a5bc" stroke-width="0.6"/>
<path d="M366.7 871.0 L377.7 878.9 L396.6 879.3 L385.6 871.4Z" fill="#0fa2c5" stroke="#0fa2c5" stroke-width="0.6"/>
<path d="M385.6 871.4 L396.6 879.3 L415.5 879.6 L404.5 871.7Z" fill="#0d9ece" stroke="#0d9ece" stroke-width="0.6"/>
<path d="M404.5 871.7 L415.5 879.6 L434.4 879.7 L423.5 871.9Z" fill="#0f99d3" stroke="#0f99d3" stroke-width="0.6"/>
<path d="M423.5 871.9 L434.4 879.7 L453.4 879.8 L442.4 872.0Z" fill="#1292d9" stroke="#1292d9" stroke-width="0.6"/>
<path d="M442.4 872.0 L453.4 879.8 L472.3 879.8 L461.3 872.0Z" fill="#158ce0" stroke="#158ce0" stroke-width="0.6"/>
<path d="M461.3 872.0 L472.3 879.8 L491.2 879.6 L480.2 871.9Z" fill="#1985e5" stroke="#1985e5" stroke-width="0.6"/>
<path d="M480.2 871.9 L491.2 879.6 L510.1 879.4 L499.1 871.7Z" fill="#1d7ee8" stroke="#1d7ee8" stroke-width="0.6"/>
<path d="M499.1 871.7 L510.1 879.4 L529.1 879.0 L518.1 871.5Z" fill="#2278ea" stroke="#2278ea" stroke-width="0.6"/>
<path d="M518.1 871.5 L529.1 879.0 L548.0 878.5 L537.0 871.0Z" fill="#2671ed" stroke="#2671ed" stroke-width="0.6"/>
<path d="M537.0 871.0 L548.0 878.5 L566.9 877.9 L555.9 870.5Z" fill="#2a6ced" stroke="#2a6ced" stroke-width="0.6"/>
<path d="M555.9 870.5 L566.9 877.9 L585.8 877.2 L574.8 869.8Z" fill="#2f66eb" stroke="#2f66eb" stroke-width="0.6"/>
<path d="M574.8 869.8 L585.8 877.2 L604.7 876.3 L593.7 869.0Z" fill="#3360ea" stroke="#3360ea" stroke-width="0.6"/>
<path d="M593.7 869.0 L604.7 876.3 L623.6 875.2 L612.6 867.9Z" fill="#375ae8" stroke="#375ae8" stroke-width="0.6"/>
<path d="M612.6 867.9 L623.6 875.2 L642.5 874.0 L631.5 866.7Z" fill="#3c54e7" stroke="#3c54e7" stroke-width="0.6"/>
<path d="M631.5 866.7 L642.5 874.0 L661.4 872.8 L650.4 865.5Z" fill="#3e4ee2" stroke="#3e4ee2" stroke-width="0.6"/>
<path d="M650.4 865.5 L661.4 872.8 L680.3 871.5 L669.2 864.3Z" fill="#3f48dc" stroke="#3f48dc" stroke-width="0.6"/>
<path d="M669.2 864.3 L680.3 871.5 L699.1 870.4 L688.1 863.2Z" fill="#3f42d6" stroke="#3f42d6" stroke-width="0.6"/>
<path d="M283.1 877.0 L294.0 885.0 L312.9 885.3 L302.0 877.3Z" fill="#10a4be" stroke="#10a4be" stroke-width="0.6"/>
<path d="M302.0 877.3 L312.9 885.3 L331.9 885.7 L320.9 877.7Z" fill="#10a4c0" stroke="#10a4c0" stroke-width="0.6"/>
<path d="M320.9 877.7 L331.9 885.7 L350.8 886.1 L339.8 878.1Z" fill="#0fa3c1" stroke="#0fa3c1" stroke-width="0.6"/>
<path d="M339.8 878.1 L350.8 886.1 L369.7 886.5 L358.7 878.5Z" fill="#0fa3c3" stroke="#0fa3c3" stroke-width="0.6"/>
<path d="M358.7 878.5 L369.7 886.5 L388.6 886.9 L377.7 878.9Z" fill="#0ea2c5" stroke="#0ea2c5" stroke-width="0.6"/>
<path d="M377.7 878.9 L388.6 886.9 L407.6 887.2 L396.6 879.3Z" fill="#0c9ece" stroke="#0c9ece" stroke-width="0.6"/>
<path d="M396.6 879.3 L407.6 887.2 L426.5 887.4 L415.5 879.6Z" fill="#0f99d2" stroke="#0f99d2" stroke-width="0.6"/>
<path d="M415.5 879.6 L426.5 887.4 L445.4 887.6 L434.4 879.7Z" fill="#1194d7" stroke="#1194d7" stroke-width="0.6"/>
<path d="M434.4 879.7 L445.4 887.6 L464.4 887.6 L453.4 879.8Z" fill="#148edd" stroke="#148edd" stroke-width="0.6"/>
<path d="M453.4 879.8 L464.4 887.6 L483.3 887.5 L472.3 879.8Z" fill="#1688e4" stroke="#1688e4" stroke-width="0.6"/>
<path d="M472.3 879.8 L483.3 887.5 L502.2 887.3 L491.2 879.6Z" fill="#1c80e7" stroke="#1c80e7" stroke-width="0.6"/>
<path d="M491.2 879.6 L502.2 887.3 L521.1 887.0 L510.1 879.4Z" fill="#2179e9" stroke="#2179e9" stroke-width="0.6"/>
<path d="M510.1 879.4 L521.1 887.0 L540.1 886.6 L529.1 879.0Z" fill="#2573ec" stroke="#2573ec" stroke-width="0.6"/>
<path d="M529.1 879.0 L540.1 886.6 L559.0 886.0 L548.0 878.5Z" fill="#296ded" stroke="#296ded" stroke-width="0.6"/>
<path d="M548.0 878.5 L559.0 886.0 L577.9 885.4 L566.9 877.9Z" fill="#2d68ec" stroke="#2d68ec" stroke-width="0.6"/>
<path d="M566.9 877.9 L577.9 885.4 L596.8 884.6 L585.8 877.2Z" fill="#3163ea" stroke="#3163ea" stroke-width="0.6"/>
<path d="M585.8 877.2 L596.8 884.6 L615.7 883.6 L604.7 876.3Z" fill="#355de9" stroke="#355de9" stroke-width="0.6"/>
<path d="M604.7 876.3 L615.7 883.6 L634.6 882.5 L623.6 875.2Z" fill="#3958e8" stroke="#3958e8" stroke-width="0.6"/>
<path d="M623.6 875.2 L634.6 882.5 L653.5 881.3 L642.5 874.0Z" fill="#3e52e6" stroke="#3e52e6" stroke-width="0.6"/>
<path d="M642.5 874.0 L653.5 881.3 L672.4 880.0 L661.4 872.8Z" fill="#3e4ce0" stroke="#3e4ce0" stroke-width="0.6"/>
<path d="M661.4 872.8 L672.4 880.0 L691.3 878.7 L680.3 871.5Z" fill="#3f46da" stroke="#3f46da" stroke-width="0.6"/>
<path d="M680.3 871.5 L691.3 878.7 L710.2 877.5 L699.1 870.4Z" fill="#4040d4" stroke="#4040d4" stroke-width="0.6"/>
<path d="M140.9 772.5 L178.3 774.4 L215.6 776.2 L253.0 778.1 L290.4 779.9 L327.8 781.6 L365.2 783.5 L402.5 784.9 L440.0 785.5 L477.4 785.0 L514.8 784.1 L552.2 783.2 M144.5 775.2 L181.9 777.0 L219.3 778.8 L256.7 780.6 L294.1 782.4 L331.5 784.1 L368.9 785.8 L406.3 787.2 L443.8 787.7 L481.2 787.3 L518.6 786.3 L556.0 785.3 M148.2 777.9 L185.6 779.6 L223.0 781.4 L260.4 783.2 L297.8 784.9 L335.3 786.5 L372.7 788.2 L410.1 789.5 L447.5 790.0 L485.0 789.5 L522.4 788.4 L559.9 787.4 M151.8 780.5 L189.3 782.3 L226.7 784.0 L264.1 785.8 L301.6 787.4 L339.0 789.0 L376.4 790.6 L413.9 791.9 L451.3 792.3 L488.8 791.7 L526.3 790.6 L563.7 789.5 M155.5 783.2 L192.9 784.9 L230.4 786.6 L267.8 788.3 L305.3 789.9 L342.7 791.5 L380.2 793.0 L417.7 794.2 L455.1 794.5 L492.6 793.9 L530.1 792.7 L567.6 791.6 M159.1 785.9 L196.6 787.5 L234.1 789.2 L271.5 790.9 L309.0 792.4 L346.5 793.9 L384.0 795.4 L421.4 796.5 L458.9 796.8 L496.4 796.1 L533.9 794.9 L571.4 793.7 M162.8 788.6 L200.3 790.2 L237.8 791.8 L275.2 793.4 L312.7 794.9 L350.2 796.4 L387.7 797.8 L425.2 798.8 L462.7 799.0 L500.3 798.3 L537.8 797.0 L575.3 795.8 M166.4 791.2 L203.9 792.8 L241.4 794.4 L278.9 796.0 L316.5 797.4 L354.0 798.8 L391.5 800.1 L429.0 801.1 L466.6 801.2 L504.1 800.4 L541.6 799.1 L579.1 797.9 M170.1 793.9 L207.6 795.5 L245.1 797.0 L282.7 798.5 L320.2 799.9 L357.7 801.2 L395.3 802.5 L432.8 803.4 L470.4 803.5 L507.9 802.6 L545.5 801.3 L583.0 800.0 M173.7 796.6 L211.3 798.1 L248.8 799.6 L286.4 801.1 L323.9 802.4 L361.5 803.7 L399.0 804.9 L436.6 805.7 L474.2 805.7 L511.7 804.8 L549.3 803.4 L586.9 802.1 M177.4 799.3 L214.9 800.7 L252.5 802.2 L290.1 803.6 L327.6 805.0 L365.2 806.1 L402.8 807.3 L440.4 808.0 L478.0 808.0 L515.6 807.0 L553.1 805.5 L590.7 804.1 M181.0 802.0 L218.6 803.4 L256.2 804.8 L293.8 806.2 L331.4 807.5 L369.0 808.6 L406.5 809.7 L444.1 810.3 L481.8 810.2 L519.4 809.2 L557.0 807.7 L594.6 806.2 M184.6 804.6 L222.3 806.0 L259.9 807.4 L297.5 808.8 L335.1 810.0 L372.7 811.1 L410.3 812.1 L447.9 812.6 L485.6 812.5 L523.2 811.4 L560.8 809.8 L598.4 808.3 M188.3 807.3 L225.9 808.6 L263.5 810.0 L301.2 811.3 L338.8 812.5 L376.4 813.5 L414.1 814.4 L451.7 815.0 L489.3 814.7 L527.0 813.6 L564.6 812.0 L602.2 810.5 M191.9 810.0 L229.6 811.3 L267.2 812.6 L304.9 813.9 L342.5 815.0 L380.2 816.0 L417.8 816.8 L455.5 817.3 L493.1 817.0 L530.8 815.8 L568.4 814.2 L606.1 812.6 M195.6 812.7 L233.2 813.9 L270.9 815.2 L308.6 816.5 L346.2 817.5 L383.9 818.5 L421.6 819.2 L459.2 819.6 L496.9 819.3 L534.6 818.1 L572.2 816.4 L609.9 814.7 M199.2 815.4 L236.9 816.6 L274.6 817.8 L312.3 819.0 L349.9 820.1 L387.6 820.9 L425.3 821.7 L463.0 822.0 L500.7 821.6 L538.4 820.3 L576.1 818.6 L613.7 816.9 M202.9 818.0 L240.6 819.2 L278.3 820.4 L316.0 821.6 L353.7 822.6 L391.4 823.4 L429.1 824.1 L466.8 824.3 L504.5 823.9 L542.2 822.6 L579.9 820.8 L617.5 819.0 M206.5 820.7 L244.2 821.9 L281.9 823.0 L319.6 824.2 L357.4 825.2 L395.1 825.9 L432.8 826.5 L470.5 826.7 L508.2 826.2 L545.9 824.8 L583.6 823.0 L621.3 821.2 M210.2 823.4 L247.9 824.5 L285.6 825.7 L323.3 826.8 L361.1 827.7 L398.8 828.4 L436.5 829.0 L474.2 829.1 L512.0 828.5 L549.7 827.1 L587.4 825.2 L625.1 823.4 M213.8 826.1 L251.5 827.2 L289.3 828.3 L327.0 829.4 L364.8 830.3 L402.5 830.9 L440.2 831.4 L478.0 831.5 L515.7 830.9 L553.5 829.4 L591.2 827.5 L628.9 825.6 M217.4 828.8 L255.2 829.8 L292.9 830.9 L330.7 832.0 L368.4 832.8 L406.2 833.4 L444.0 833.9 L481.7 833.9 L519.5 833.2 L557.2 831.8 L594.9 829.8 L632.7 827.9 M221.1 831.4 L258.9 832.5 L296.6 833.5 L334.4 834.6 L372.1 835.4 L409.9 836.0 L447.7 836.3 L485.4 836.3 L523.2 835.6 L561.0 834.1 L598.7 832.1 L636.4 830.1 M224.7 834.1 L262.5 835.1 L300.3 836.2 L338.0 837.2 L375.8 838.0 L413.6 838.5 L451.4 838.8 L489.1 838.7 L526.9 838.0 L564.7 836.4 L602.4 834.4 L640.2 832.4 M228.4 836.8 L266.2 837.8 L303.9 838.8 L341.7 839.8 L379.5 840.6 L417.3 841.1 L455.1 841.3 L492.8 841.2 L530.6 840.4 L568.4 838.8 L606.1 836.8 L643.9 834.7 M232.0 839.5 L269.8 840.4 L307.6 841.4 L345.4 842.4 L383.2 843.1 L421.0 843.6 L458.8 843.8 L496.5 843.6 L534.3 842.8 L572.1 841.2 L609.9 839.1 L647.6 837.1 M235.7 842.1 L273.5 843.1 L311.3 844.1 L349.1 845.0 L386.8 845.7 L424.6 846.2 L462.4 846.4 L500.2 846.1 L538.0 845.2 L575.8 843.6 L613.6 841.5 L651.3 839.4 M239.3 844.8 L277.1 845.7 L314.9 846.7 L352.7 847.6 L390.5 848.3 L428.3 848.7 L466.1 848.9 L503.9 848.6 L541.7 847.7 L579.5 846.0 L617.3 843.8 L655.0 841.7 M243.0 847.5 L280.8 848.4 L318.6 849.4 L356.4 850.3 L394.2 851.0 L432.0 851.3 L469.8 851.4 L507.6 851.1 L545.4 850.1 L583.2 848.4 L621.0 846.2 L658.7 844.1 M246.6 850.2 L284.4 851.1 L322.2 852.0 L360.0 852.9 L397.8 853.6 L435.7 853.9 L473.5 853.9 L511.3 853.5 L549.1 852.6 L586.9 850.8 L624.6 848.6 L662.4 846.5 M250.3 852.9 L288.1 853.7 L325.9 854.7 L363.7 855.5 L401.5 856.2 L439.3 856.5 L477.1 856.5 L515.0 856.0 L552.8 855.0 L590.6 853.3 L628.3 851.0 L666.1 848.8 M253.9 855.5 L291.7 856.4 L329.5 857.3 L367.4 858.2 L405.2 858.8 L443.0 859.1 L480.8 859.0 L518.6 858.5 L556.4 857.5 L594.2 855.7 L632.0 853.4 L669.8 851.2 M257.5 858.2 L295.4 859.1 L333.2 860.0 L371.0 860.8 L408.8 861.4 L446.7 861.6 L484.5 861.6 L522.3 861.0 L560.1 860.0 L597.9 858.1 L635.7 855.9 L673.4 853.6 M261.2 860.9 L299.0 861.7 L336.8 862.6 L374.7 863.4 L412.5 864.0 L450.3 864.2 L488.1 864.1 L526.0 863.5 L563.8 862.4 L601.6 860.6 L639.3 858.3 L677.1 856.0 M264.8 863.6 L302.7 864.4 L340.5 865.3 L378.3 866.1 L416.1 866.6 L454.0 866.8 L491.8 866.6 L529.6 866.0 L567.5 864.9 L605.2 863.0 L643.0 860.7 L680.8 858.4 M268.5 866.2 L306.3 867.1 L344.1 867.9 L382.0 868.7 L419.8 869.3 L457.6 869.4 L495.5 869.2 L533.3 868.5 L571.1 867.4 L608.9 865.5 L646.7 863.1 L684.5 860.8 M272.1 868.9 L310.0 869.7 L347.8 870.6 L385.6 871.4 L423.5 871.9 L461.3 872.0 L499.1 871.7 L537.0 871.0 L574.8 869.8 L612.6 867.9 L650.4 865.5 L688.1 863.2 M275.8 871.6 L313.6 872.4 L351.4 873.2 L389.3 874.0 L427.1 874.5 L465.0 874.6 L502.8 874.3 L540.6 873.5 L578.5 872.3 L616.3 870.3 L654.0 868.0 L691.8 865.6 M279.4 874.3 L317.3 875.1 L355.1 875.9 L392.9 876.6 L430.8 877.1 L468.6 877.2 L506.5 876.8 L544.3 876.0 L582.1 874.8 L619.9 872.8 L657.7 870.4 L695.5 868.0 M283.1 877.0 L320.9 877.7 L358.7 878.5 L396.6 879.3 L434.4 879.7 L472.3 879.8 L510.1 879.4 L548.0 878.5 L585.8 877.2 L623.6 875.2 L661.4 872.8 L699.1 870.4 M286.7 879.6 L324.6 880.4 L362.4 881.2 L400.2 881.9 L438.1 882.4 L476.0 882.3 L513.8 881.9 L551.6 881.0 L589.5 879.7 L627.3 877.7 L665.0 875.2 L702.8 872.8 M290.4 882.3 L328.2 883.0 L366.1 883.8 L403.9 884.5 L441.8 885.0 L479.6 884.9 L517.5 884.5 L555.3 883.5 L593.2 882.1 L631.0 880.1 L668.7 877.6 L706.5 875.1 M294.0 885.0 L331.9 885.7 L369.7 886.5 L407.6 887.2 L445.4 887.6 L483.3 887.5 L521.1 887.0 L559.0 886.0 L596.8 884.6 L634.6 882.5 L672.4 880.0 L710.2 877.5 M140.9 772.5 L156.2 783.8 L171.5 795.0 L186.8 806.2 L202.1 817.5 L217.4 828.8 L232.8 840.0 L248.1 851.2 L263.4 862.5 L278.7 873.8 L294.0 885.0 M159.6 773.4 L174.9 784.6 L190.3 795.7 L205.6 806.9 L221.0 818.1 L236.3 829.3 L251.7 840.5 L267.0 851.7 L282.3 862.9 L297.6 874.1 L312.9 885.3 M178.3 774.4 L193.7 785.4 L209.1 796.5 L224.4 807.6 L239.8 818.7 L255.2 829.8 L270.5 841.0 L285.9 852.1 L301.2 863.3 L316.5 874.5 L331.9 885.7 M197.0 775.3 L212.4 786.3 L227.8 797.3 L243.3 808.3 L258.7 819.3 L274.1 830.4 L289.4 841.5 L304.8 852.6 L320.1 863.8 L335.4 874.9 L350.8 886.1 M215.6 776.2 L231.1 787.1 L246.6 798.1 L262.1 809.0 L277.5 819.9 L292.9 830.9 L308.3 842.0 L323.7 853.1 L339.0 864.2 L354.4 875.4 L369.7 886.5 M234.3 777.2 L249.8 788.0 L265.4 798.8 L280.9 809.6 L296.4 820.5 L311.8 831.4 L327.2 842.5 L342.6 853.5 L357.9 864.6 L373.3 875.8 L388.6 886.9 M253.0 778.1 L268.6 788.8 L284.1 799.6 L299.7 810.3 L315.2 821.1 L330.7 832.0 L346.1 842.9 L361.5 854.0 L376.9 865.0 L392.2 876.1 L407.6 887.2 M271.7 779.0 L287.3 789.6 L302.9 800.3 L318.5 810.9 L334.1 821.6 L349.6 832.4 L365.0 843.3 L380.4 854.3 L395.8 865.4 L411.1 876.4 L426.5 887.4 M290.4 779.9 L306.0 790.4 L321.7 800.9 L337.3 811.5 L352.9 822.1 L368.4 832.8 L383.9 843.7 L399.3 854.6 L414.7 865.6 L430.0 876.6 L445.4 887.6 M309.1 780.7 L324.8 791.2 L340.4 801.6 L356.1 812.0 L371.8 822.5 L387.3 833.1 L402.8 843.9 L418.2 854.8 L433.6 865.7 L449.0 876.7 L464.4 887.6 M327.8 781.6 L343.5 791.9 L359.2 802.2 L374.9 812.5 L390.6 822.9 L406.2 833.4 L421.7 844.1 L437.1 854.9 L452.5 865.8 L467.9 876.7 L483.3 887.5 M346.5 782.6 L362.2 792.7 L378.0 802.9 L393.7 813.0 L409.5 823.3 L425.1 833.7 L440.6 844.3 L456.0 855.0 L471.4 865.8 L486.8 876.5 L502.2 887.3 M365.2 783.5 L380.9 793.5 L396.8 803.5 L412.6 813.5 L428.3 823.6 L444.0 833.9 L459.5 844.3 L474.9 854.9 L490.3 865.6 L505.7 876.3 L521.1 887.0 M383.8 784.3 L399.7 794.1 L415.5 804.0 L431.4 813.8 L447.2 823.8 L462.8 833.9 L478.4 844.3 L493.8 854.8 L509.3 865.4 L524.7 876.0 L540.1 886.6 M402.5 784.9 L418.4 794.6 L434.3 804.3 L450.2 814.0 L466.0 823.9 L481.7 833.9 L497.3 844.1 L512.8 854.5 L528.2 865.0 L543.6 875.5 L559.0 886.0 M421.3 785.3 L437.2 794.9 L453.1 804.5 L469.0 814.0 L484.9 823.8 L500.6 833.7 L516.2 843.8 L531.7 854.1 L547.1 864.5 L562.5 875.0 L577.9 885.4 M440.0 785.5 L455.9 795.0 L471.9 804.4 L487.8 813.8 L503.7 823.4 L519.5 833.2 L535.1 843.3 L550.6 853.6 L566.0 863.9 L581.4 874.3 L596.8 884.6 M458.7 785.4 L474.6 794.7 L490.7 804.0 L506.7 813.4 L522.6 822.9 L538.3 832.6 L554.0 842.6 L569.5 852.8 L584.9 863.1 L600.3 873.4 L615.7 883.6 M477.4 785.0 L493.4 794.3 L509.4 803.5 L525.5 812.7 L541.4 822.1 L557.2 831.8 L572.8 841.7 L588.3 851.8 L603.8 862.0 L619.2 872.3 L634.6 882.5 M496.1 784.6 L512.1 793.8 L528.2 802.8 L544.3 812.0 L560.3 821.3 L576.1 830.8 L591.7 840.7 L607.2 850.7 L622.7 860.9 L638.1 871.1 L653.5 881.3 M514.8 784.1 L530.9 793.1 L547.0 802.1 L563.1 811.1 L579.1 820.3 L594.9 829.8 L610.6 839.6 L626.1 849.6 L641.5 859.7 L657.0 869.9 L672.4 880.0 M533.5 783.6 L549.6 792.5 L565.8 801.4 L581.9 810.3 L597.9 819.4 L613.8 828.8 L629.5 838.5 L645.0 848.5 L660.4 858.5 L675.8 868.7 L691.3 878.7 M552.2 783.2 L568.3 792.0 L584.5 800.8 L600.7 809.6 L616.8 818.6 L632.7 827.9 L648.4 837.5 L663.9 847.4 L679.3 857.4 L694.7 867.5 L710.2 877.5" fill="none" stroke="#000" stroke-width="1.15" stroke-opacity="0.88"/>
<path d="M137.3 858.2 L137.3 599.4 M137.3 858.2 L295.4 948.6 M295.4 948.6 L885.0 924.7 M137.3 850.7 L123.8 843.0 M137.3 778.9 L123.8 771.2 M137.3 707.1 L123.8 699.4 M137.3 635.3 L123.8 627.6 M144.8 862.5 L129.3 863.1 M220.1 905.6 L204.6 906.2 M295.4 948.6 L279.9 949.2 M295.4 948.6 L308.9 956.3 M459.2 942.0 L472.6 949.7 M623.0 935.3 L636.4 943.0 M786.7 928.7 L800.2 936.4" stroke="#262626" stroke-width="1.2" fill="none"/>
<text x="56.1" y="632.2" font-family="Liberation Serif" font-weight="normal" font-size="29.62" textLength="58.3" lengthAdjust="spacingAndGlyphs" fill="#262626" >0.03</text>
<text x="56.1" y="702.8" font-family="Liberation Serif" font-weight="normal" font-size="28.27" textLength="58.8" lengthAdjust="spacingAndGlyphs" fill="#262626" >0.02</text>
<text x="56.1" y="775.0" font-family="Liberation Serif" font-weight="normal" font-size="30.08" textLength="59.0" lengthAdjust="spacingAndGlyphs" fill="#262626" >0.01</text>
<text x="97.1" y="847.0" font-family="Liberation Serif" font-weight="normal" font-size="31.58" textLength="17.3" lengthAdjust="spacingAndGlyphs" fill="#262626" >0</text>
<text x="60.2" y="891.0" font-family="Liberation Serif" font-weight="normal" font-size="28.57" textLength="57.9" lengthAdjust="spacingAndGlyphs" fill="#262626" >0.05</text>
<text x="133.6" y="934.0" font-family="Liberation Serif" font-weight="normal" font-size="30.38" textLength="60.4" lengthAdjust="spacingAndGlyphs" fill="#262626" >0.15</text>
<text x="209.6" y="977.3" font-family="Liberation Serif" font-weight="normal" font-size="30.83" textLength="60.1" lengthAdjust="spacingAndGlyphs" fill="#262626" >0.25</text>
<text x="316.2" y="990.8" font-family="Liberation Serif" font-weight="normal" font-size="32.78" textLength="17.1" lengthAdjust="spacingAndGlyphs" fill="#262626" >0</text>
<text x="478.4" y="982.0" font-family="Liberation Serif" font-weight="normal" font-size="31.58" textLength="68.8" lengthAdjust="spacingAndGlyphs" fill="#262626" >-0.05</text>
<text x="641.8" y="974.0" font-family="Liberation Serif" font-weight="normal" font-size="33.08" textLength="54.6" lengthAdjust="spacingAndGlyphs" fill="#262626" >-0.1</text>
<text x="804.8" y="970.0" font-family="Liberation Serif" font-weight="normal" font-size="36.09" textLength="72.5" lengthAdjust="spacingAndGlyphs" fill="#262626" >-0.15</text>
<text x="4.9" y="1011.3" font-family="Liberation Serif" font-weight="normal" font-size="34.24" textLength="141.3" lengthAdjust="spacingAndGlyphs" fill="#262626" >Span [m]</text>
<text x="562.5" y="1027.5" font-family="Liberation Serif" font-weight="normal" font-size="39.57" textLength="158.9" lengthAdjust="spacingAndGlyphs" fill="#262626" >Chord [m]</text>
<text transform="translate(34.2,862.5) rotate(-90)" x="-1.1" y="0" font-family="Liberation Serif" font-weight="normal" font-size="36.79" textLength="268.0" lengthAdjust="spacingAndGlyphs" fill="#262626">Displacement [m]</text>
<rect x="139.1" y="603" width="39.6" height="38.6" rx="1.5" fill="#fff" stroke="#000" stroke-width="3.6"/>
<text x="147.0" y="633.6" font-family="Liberation Sans" font-weight="bold" font-size="36.09" textLength="23.9" lengthAdjust="spacingAndGlyphs" fill="#000" >B</text>
<path d="M481.0 816.5 L685.8 766.0" fill="none" stroke="#ffffff" stroke-width="2.2" stroke-opacity="1.0" />
<rect x="685.8" y="746" width="187.9" height="40.6" fill="#ebebeb" stroke="#222" stroke-width="1.5"/>
<text x="696.1" y="775.0" font-family="Liberation Serif" font-weight="bold" font-size="34.53" textLength="160.0" lengthAdjust="spacingAndGlyphs" fill="#111" stroke="#ebebeb" stroke-width="0.4">bulging out</text>
<rect x="687" y="577" width="202.3" height="79.5" fill="none" stroke="#111" stroke-width="2.2" stroke-dasharray="5,3"/>
<path d="M691.8 604.3 L694.2 604.0 L696.5 603.8 L698.8 603.5 L701.0 603.2 L703.2 603.0 L705.3 602.7 L707.5 602.4 L709.7 602.2 L711.9 601.9 L714.1 601.7 L716.3 601.4 L718.6 601.1 L721.0 600.9 L723.4 600.6 L725.9 600.3 L728.5 600.1 L731.2 599.8 L734.0 599.5 L736.9 599.3 L740.0 599.0 L743.2 598.7 L746.6 598.5 L750.2 598.2 L753.9 597.9 L757.7 597.6 L761.6 597.4 L765.6 597.1 L769.7 596.8 L773.8 596.5 L777.9 596.3 L782.1 596.0 L786.2 595.7 L790.4 595.4 L794.5 595.2 L798.5 594.9 L802.5 594.6 L806.4 594.4 L810.1 594.1 L813.8 593.9 L817.3 593.6 L820.7 593.4 L824.0 593.1 L827.2 592.9 L830.4 592.6 L833.5 592.4 L836.6 592.2 L839.6 591.9 L842.6 591.7 L845.5 591.5 L848.4 591.3 L851.3 591.0 L854.2 590.8 L857.0 590.6 L859.9 590.4 L862.8 590.1 L865.7 589.9 L868.5 589.7 L871.5 589.5 L874.4 589.2 L877.4 589.0" fill="none" stroke="#ff4040" stroke-width="0.9" stroke-opacity="0.8" />
<path d="M691.8 605.4 L694.2 605.7 L696.6 605.9 L699.0 606.2 L701.5 606.4 L703.9 606.7 L706.3 606.9 L708.7 607.2 L711.1 607.5 L713.5 607.7 L716.0 608.0 L718.4 608.2 L720.8 608.5 L723.2 608.8 L725.6 609.0 L728.0 609.3 L730.4 609.5 L732.8 609.8 L735.2 610.0 L737.6 610.3 L740.0 610.5 L742.4 610.7 L744.8 611.0 L747.2 611.2 L749.6 611.5 L752.0 611.7 L754.4 611.9 L756.8 612.2 L759.2 612.4 L761.6 612.6 L764.0 612.9 L766.4 613.1 L768.8 613.3 L771.1 613.5 L773.5 613.7 L775.8 614.0 L778.1 614.2 L780.5 614.4 L782.8 614.6 L785.0 614.8 L787.3 615.0 L789.5 615.2 L791.7 615.4 L793.9 615.6 L796.1 615.8 L798.2 616.0 L800.3 616.2 L802.4 616.3 L804.5 616.5 L806.6 616.7 L808.6 616.9 L810.7 617.0 L812.8 617.2 L814.9 617.4 L817.0 617.6 L819.1 617.7 L821.2 617.9 L823.4 618.0 L825.6 618.2 L827.8 618.3 L830.0 618.5 L832.3 618.6 L834.5 618.8 L836.9 618.9 L839.2 619.1 L841.5 619.2 L843.9 619.3 L846.2 619.4 L848.6 619.6 L851.0 619.7 L853.4 619.8 L855.8 619.9 L858.2 620.0 L860.6 620.2 L863.0 620.3 L865.4 620.4 L867.8 620.5 L870.2 620.6 L872.6 620.8 L875.0 620.9 L877.4 621.0" fill="none" stroke="#ff4040" stroke-width="0.9" stroke-opacity="0.8" />
<path d="M691.8 618.3 L694.2 617.8 L696.6 617.2 L699.1 616.6 L701.5 616.1 L703.9 615.5 L706.4 615.0 L708.8 614.4 L711.2 613.8 L713.7 613.3 L716.1 612.7 L718.5 612.1 L721.0 611.6 L723.4 611.0 L725.8 610.5 L728.2 610.0 L730.6 609.4 L732.9 608.9 L735.3 608.4 L737.7 608.0 L740.0 607.5 L742.3 607.1 L744.6 606.6 L746.9 606.2 L749.2 605.8 L751.5 605.4 L753.7 605.0 L756.0 604.6 L758.2 604.3 L760.5 603.9 L762.7 603.5 L764.9 603.2 L767.2 602.8 L769.4 602.5 L771.6 602.1 L773.8 601.8 L776.1 601.4 L778.3 601.1 L780.5 600.7 L782.8 600.4 L785.0 600.0 L787.2 599.6 L789.5 599.3 L791.7 598.9 L794.0 598.5 L796.2 598.1 L798.4 597.8 L800.7 597.4 L802.9 597.0 L805.1 596.6 L807.4 596.3 L809.6 595.9 L811.8 595.5 L814.1 595.2 L816.3 594.8 L818.6 594.4 L820.8 594.0 L823.1 593.6 L825.4 593.3 L827.7 592.9 L830.0 592.5 L832.3 592.1 L834.6 591.7 L837.0 591.3 L839.3 590.9 L841.7 590.6 L844.0 590.2 L846.4 589.8 L848.8 589.4 L851.2 589.0 L853.6 588.6 L855.9 588.2 L858.3 587.8 L860.7 587.4 L863.1 587.0 L865.5 586.6 L867.9 586.2 L870.3 585.8 L872.6 585.4 L875.0 585.0 L877.4 584.6" fill="none" stroke="#000" stroke-width="2.6" stroke-opacity="1" stroke-linecap="round" stroke-linejoin="round"/>
<path d="M691.8 618.3 L693.7 618.5 L695.6 618.7 L697.4 618.9 L699.3 619.1 L701.2 619.2 L703.0 619.4 L704.8 619.6 L706.7 619.8 L708.5 620.0 L710.4 620.2 L712.2 620.4 L714.1 620.6 L716.0 620.8 L717.9 621.0 L719.9 621.1 L721.8 621.3 L723.8 621.5 L725.8 621.7 L727.9 621.8 L730.0 622.0 L732.1 622.2 L734.3 622.3 L736.5 622.5 L738.8 622.7 L741.1 622.8 L743.4 623.0 L745.7 623.2 L748.1 623.3 L750.4 623.5 L752.8 623.6 L755.2 623.8 L757.6 623.9 L760.0 624.0 L762.4 624.2 L764.8 624.3 L767.2 624.4 L769.6 624.5 L771.9 624.6 L774.3 624.6 L776.6 624.7 L778.9 624.7 L781.2 624.8 L783.5 624.8 L785.9 624.8 L788.2 624.8 L790.5 624.7 L792.8 624.7 L795.1 624.7 L797.4 624.6 L799.7 624.6 L802.0 624.5 L804.3 624.4 L806.6 624.4 L808.9 624.3 L811.2 624.3 L813.5 624.2 L815.8 624.1 L818.1 624.1 L820.4 624.0 L822.7 624.0" fill="none" stroke="#000" stroke-width="2.4" stroke-opacity="1" stroke-linecap="round" stroke-linejoin="round"/>
<path d="M780.4 630 L780.4 647" stroke="#ee0000" stroke-width="2.6"/><path d="M774.6 646 L780.4 654.5 L786.2 646 Z" fill="#ee0000"/>
<text x="730.5" y="684.8" font-family="Liberation Serif" font-weight="bold" font-size="27.77" textLength="129.5" lengthAdjust="spacingAndGlyphs" fill="#111" stroke="#ffffff" stroke-width="0.4">side view</text>
<defs><linearGradient id="cbB" x1="0" y1="0" x2="0" y2="1"><stop offset="0.000" stop-color="#f9fb0e"/><stop offset="0.025" stop-color="#faee19"/><stop offset="0.050" stop-color="#fbe123"/><stop offset="0.075" stop-color="#fcd42e"/><stop offset="0.100" stop-color="#fccc34"/><stop offset="0.125" stop-color="#fbc638"/><stop offset="0.150" stop-color="#f9bf3c"/><stop offset="0.175" stop-color="#f7ba3f"/><stop offset="0.200" stop-color="#edb939"/><stop offset="0.225" stop-color="#e2b834"/><stop offset="0.250" stop-color="#d4b932"/><stop offset="0.275" stop-color="#c5bb31"/><stop offset="0.300" stop-color="#afbe3b"/><stop offset="0.325" stop-color="#98c247"/><stop offset="0.350" stop-color="#82c356"/><stop offset="0.375" stop-color="#6dc364"/><stop offset="0.400" stop-color="#57c373"/><stop offset="0.425" stop-color="#47bf81"/><stop offset="0.450" stop-color="#37bb8f"/><stop offset="0.475" stop-color="#27b89d"/><stop offset="0.500" stop-color="#17b4ab"/><stop offset="0.525" stop-color="#14afb8"/><stop offset="0.550" stop-color="#11a9c4"/><stop offset="0.575" stop-color="#0da4d1"/><stop offset="0.600" stop-color="#0f9dd9"/><stop offset="0.625" stop-color="#1296e1"/><stop offset="0.650" stop-color="#168fe8"/><stop offset="0.675" stop-color="#1b87ed"/><stop offset="0.700" stop-color="#217ef0"/><stop offset="0.725" stop-color="#2875f4"/><stop offset="0.750" stop-color="#2d6df3"/><stop offset="0.775" stop-color="#3365f1"/><stop offset="0.800" stop-color="#395def"/><stop offset="0.825" stop-color="#3f56ee"/><stop offset="0.850" stop-color="#404ee7"/><stop offset="0.875" stop-color="#4146de"/><stop offset="0.900" stop-color="#423ed6"/><stop offset="0.925" stop-color="#4336ce"/><stop offset="0.950" stop-color="#4130c2"/><stop offset="0.975" stop-color="#402bb5"/><stop offset="1.000" stop-color="#3e26a8"/></linearGradient></defs><rect x="900.5" y="575.7" width="27.700000000000045" height="374.0" fill="url(#cbB)" stroke="#262626" stroke-width="1.2"/>
<path d="M924 609.0 L928.2 609.0 M924 674.8 L928.2 674.8 M924 740.8 L928.2 740.8 M924 806.8 L928.2 806.8 M924 872.7 L928.2 872.7 M924 938.2 L928.2 938.2" stroke="#262626" stroke-width="1.2"/>
<text x="937.0" y="616.6" font-family="Liberation Serif" font-weight="normal" font-size="30.45" textLength="34.1" lengthAdjust="spacingAndGlyphs" fill="#262626" >11</text>
<text x="937.2" y="682.6" font-family="Liberation Serif" font-weight="normal" font-size="30.23" textLength="33.1" lengthAdjust="spacingAndGlyphs" fill="#262626" >10</text>
<text x="939.0" y="748.6" font-family="Liberation Serif" font-weight="normal" font-size="30.45" textLength="16.9" lengthAdjust="spacingAndGlyphs" fill="#262626" >9</text>
<text x="938.6" y="814.6" font-family="Liberation Serif" font-weight="normal" font-size="30.23" textLength="17.3" lengthAdjust="spacingAndGlyphs" fill="#262626" >8</text>
<text x="937.7" y="880.6" font-family="Liberation Serif" font-weight="normal" font-size="30.69" textLength="17.9" lengthAdjust="spacingAndGlyphs" fill="#262626" >7</text>
<text x="938.7" y="947.0" font-family="Liberation Serif" font-weight="normal" font-size="32.58" textLength="16.9" lengthAdjust="spacingAndGlyphs" fill="#262626" >6</text>
<text x="928.4" y="557.6" font-family="Liberation Serif" font-weight="normal" font-size="32.03" textLength="58.0" lengthAdjust="spacingAndGlyphs" fill="#262626" >×10</text>
<text x="984.6" y="545.0" font-family="Liberation Serif" font-weight="normal" font-size="22.73" textLength="30.6" lengthAdjust="spacingAndGlyphs" fill="#262626" >−3</text>
<text transform="translate(1006.5,954.9) rotate(-90)" x="-1.4" y="0" font-family="Liberation Serif" font-weight="normal" font-size="34.24" textLength="386.1" lengthAdjust="spacingAndGlyphs" fill="#262626">Out-of-plane Deflection [m]</text>
<rect x="243" y="506.6" width="534.5" height="49.6" fill="#fff" stroke="#262626" stroke-width="1.5"/>
<rect x="249.6" y="514.6" width="68.8" height="32.2" fill="#fdc9c9"/>
<rect x="410" y="514.4" width="69" height="32.6" fill="#1ea0e0" stroke="#10304a" stroke-width="1.3"/>
<text x="322.4" y="540.0" font-family="Liberation Serif" font-weight="normal" font-size="39.39" textLength="74.3" lengthAdjust="spacingAndGlyphs" fill="#000" >Sim.</text>
<text x="483.4" y="540.0" font-family="Liberation Serif" font-weight="normal" font-size="36.69" textLength="286.6" lengthAdjust="spacingAndGlyphs" fill="#000" >DIC, BendUp 25°</text>
</svg></body></html>
